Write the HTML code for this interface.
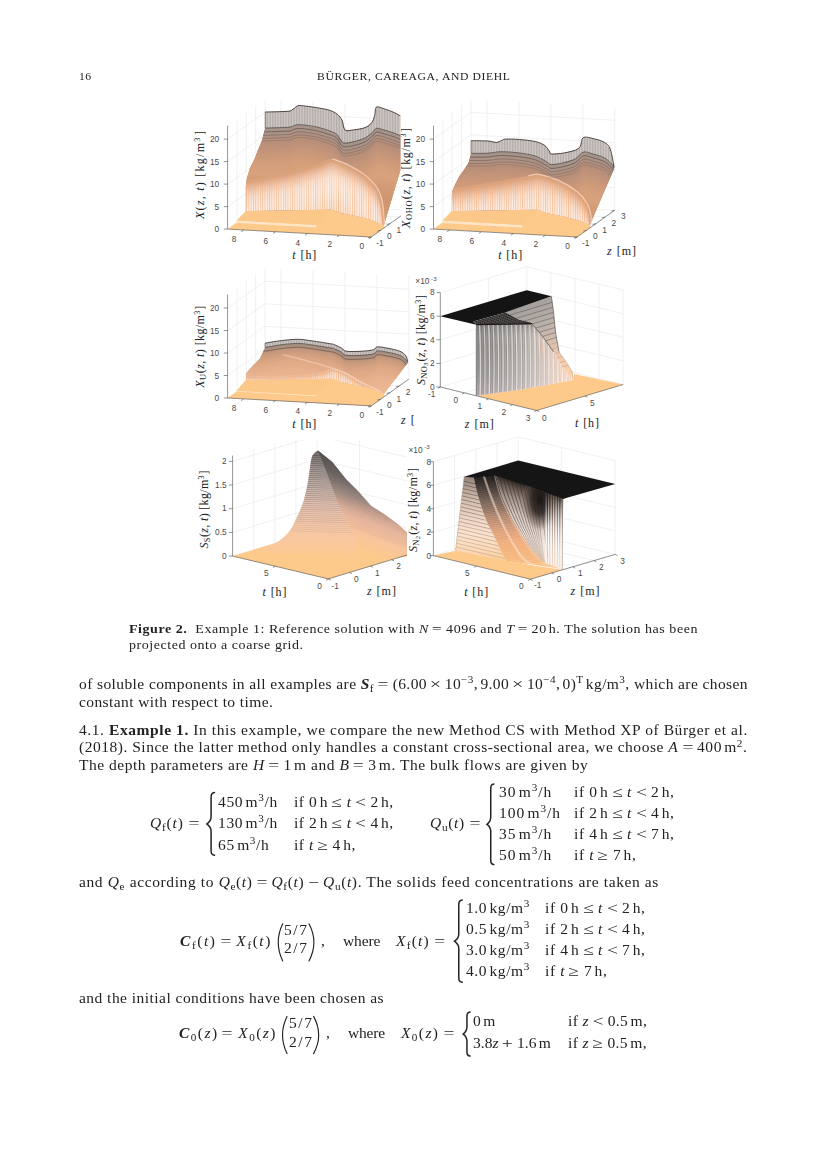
<!DOCTYPE html>
<html><head><meta charset="utf-8"><title>page 16</title>
<style>
html,body{margin:0;padding:0;background:#fff;}
body{width:827px;height:1169px;position:relative;overflow:hidden;font-family:"Liberation Serif",serif;color:#1a1a1a;}
.t{position:absolute;white-space:nowrap;line-height:normal;font-family:"Liberation Serif",serif;transform:scaleX(1.07);transform-origin:0 0;color:#222;}
svg{position:absolute;left:0;top:0;}
svg text{font-family:"Liberation Sans",sans-serif;}
svg text.m{font-family:"Liberation Serif",serif;}
</style></head><body>
<svg width="827" height="1169" viewBox="0 0 827 1169">
<defs>
<pattern id="hv" width="1.6" height="8" patternUnits="userSpaceOnUse"><rect x="0" y="0" width="0.55" height="8" fill="#5a4a44"/></pattern>
<pattern id="hp" width="2.3" height="8" patternUnits="userSpaceOnUse"><rect x="0" y="0" width="0.95" height="8" fill="#f0a874"/></pattern>
<pattern id="hg" width="2.3" height="8" patternUnits="userSpaceOnUse"><rect x="0" y="0" width="0.9" height="8" fill="#6a6460"/></pattern>
</defs>
<defs><linearGradient id="hillg1" gradientUnits="userSpaceOnUse" x1="330" y1="150" x2="395" y2="215"><stop offset="0" stop-color="#cf9a7a" stop-opacity="0"/><stop offset="0.35" stop-color="#d49c7a" stop-opacity="0.9"/><stop offset="1" stop-color="#efb488"/></linearGradient>
<linearGradient id="fg1" gradientUnits="userSpaceOnUse" x1="0" y1="160" x2="0" y2="200"><stop offset="0" stop-color="#000"/><stop offset="1" stop-color="#fff"/></linearGradient><mask id="fade1"><rect x="0" y="0" width="827" height="1169" fill="url(#fg1)"/></mask></defs>
<defs><linearGradient id="hillg2" gradientUnits="userSpaceOnUse" x1="535.9" y1="150" x2="600.9" y2="215"><stop offset="0" stop-color="#cf9a7a" stop-opacity="0"/><stop offset="0.35" stop-color="#d49c7a" stop-opacity="0.9"/><stop offset="1" stop-color="#efb488"/></linearGradient>
<linearGradient id="fg2" gradientUnits="userSpaceOnUse" x1="0" y1="160" x2="0" y2="200"><stop offset="0" stop-color="#000"/><stop offset="1" stop-color="#fff"/></linearGradient><mask id="fade2"><rect x="0" y="0" width="827" height="1169" fill="url(#fg2)"/></mask></defs>
<defs><linearGradient id="hillg3" gradientUnits="userSpaceOnUse" x1="330" y1="318.9" x2="395" y2="383.9"><stop offset="0" stop-color="#cf9a7a" stop-opacity="0"/><stop offset="0.35" stop-color="#d49c7a" stop-opacity="0.9"/><stop offset="1" stop-color="#efb488"/></linearGradient>
<linearGradient id="fg3" gradientUnits="userSpaceOnUse" x1="0" y1="328.9" x2="0" y2="368.9"><stop offset="0" stop-color="#000"/><stop offset="1" stop-color="#fff"/></linearGradient><mask id="fade3"><rect x="0" y="0" width="827" height="1169" fill="url(#fg3)"/></mask></defs>
<clipPath id="c1"><rect x="180" y="85" width="221" height="190"/></clipPath>
<g clip-path="url(#c1)">
<line x1="227.6" y1="229.1" x2="265.1" y2="202.4" stroke="#e2e2e2" stroke-width="0.5"/>
<line x1="227.6" y1="206.6" x2="265.1" y2="179.9" stroke="#e2e2e2" stroke-width="0.5"/>
<line x1="227.6" y1="184.1" x2="265.1" y2="157.4" stroke="#e2e2e2" stroke-width="0.5"/>
<line x1="227.6" y1="161.6" x2="265.1" y2="134.9" stroke="#e2e2e2" stroke-width="0.5"/>
<line x1="227.6" y1="139.1" x2="265.1" y2="112.4" stroke="#e2e2e2" stroke-width="0.5"/>
<line x1="237" y1="222.4" x2="237" y2="118.9" stroke="#e2e2e2" stroke-width="0.5"/>
<line x1="246.3" y1="215.7" x2="246.3" y2="112.2" stroke="#e2e2e2" stroke-width="0.5"/>
<line x1="255.7" y1="209.1" x2="255.7" y2="105.6" stroke="#e2e2e2" stroke-width="0.5"/>
<line x1="265.1" y1="202.4" x2="265.1" y2="98.9" stroke="#e2e2e2" stroke-width="0.5"/>
<line x1="265.1" y1="202.4" x2="408.8" y2="210.3" stroke="#e2e2e2" stroke-width="0.5"/>
<line x1="265.1" y1="179.9" x2="408.8" y2="187.8" stroke="#e2e2e2" stroke-width="0.5"/>
<line x1="265.1" y1="157.4" x2="408.8" y2="165.3" stroke="#e2e2e2" stroke-width="0.5"/>
<line x1="265.1" y1="134.9" x2="408.8" y2="142.8" stroke="#e2e2e2" stroke-width="0.5"/>
<line x1="265.1" y1="112.4" x2="408.8" y2="120.3" stroke="#e2e2e2" stroke-width="0.5"/>
<line x1="408.8" y1="210.3" x2="408.8" y2="106.8" stroke="#e2e2e2" stroke-width="0.5"/>
<line x1="376.9" y1="208.5" x2="376.9" y2="105" stroke="#e2e2e2" stroke-width="0.5"/>
<line x1="344.9" y1="206.8" x2="344.9" y2="103.3" stroke="#e2e2e2" stroke-width="0.5"/>
<line x1="313" y1="205" x2="313" y2="101.5" stroke="#e2e2e2" stroke-width="0.5"/>
<line x1="281.1" y1="203.3" x2="281.1" y2="99.8" stroke="#e2e2e2" stroke-width="0.5"/>
<line x1="371.3" y1="237" x2="408.8" y2="210.3" stroke="#e2e2e2" stroke-width="0.5"/>
<line x1="339.4" y1="235.2" x2="376.9" y2="208.5" stroke="#e2e2e2" stroke-width="0.5"/>
<line x1="307.4" y1="233.5" x2="344.9" y2="206.8" stroke="#e2e2e2" stroke-width="0.5"/>
<line x1="275.5" y1="231.7" x2="313" y2="205" stroke="#e2e2e2" stroke-width="0.5"/>
<line x1="243.6" y1="230" x2="281.1" y2="203.3" stroke="#e2e2e2" stroke-width="0.5"/>
<line x1="380.7" y1="230.3" x2="237" y2="222.4" stroke="#e2e2e2" stroke-width="0.5"/>
<line x1="390.1" y1="223.7" x2="246.3" y2="215.7" stroke="#e2e2e2" stroke-width="0.5"/>
<line x1="399.4" y1="217" x2="255.7" y2="209.1" stroke="#e2e2e2" stroke-width="0.5"/>
<polygon points="227.6,229.1 371.3,237 384.9,227.3 384,224.8 371.3,219.7 357.7,216.3 340.8,213 331.5,209.6 245.9,211 237.4,222.1" fill="#FDCA8C" stroke="none" stroke-width="0" />
<polygon points="236.5,220.4 316.3,225 316.3,227.6 236.5,223" fill="#FFE6C6" stroke="none" stroke-width="0" />
<polygon points="236.5,220.4 316.3,225 331.5,209.6 245.9,211" fill="#FCC88A" stroke="none" stroke-width="0" />
<clipPath id="b1"><path d="M265.2 112 L275 111.8 L288.9 111.2 L292 109.8 L294.4 108.3 L298.2 105.6 L305.9 106.1 L317.7 107.8 L329.6 110.3 L337.3 114.3 L342.1 120.4 L345.1 130.1 L354.2 129.8 L365.1 127.6 L371.7 122.8 L374.7 115.6 L376.3 107.1 L384.4 108.9 L394.1 112.5 L400.3 115.9 L400.3 115.9 L400.3 170.6 L384 224.8 L384 224.8 L371.3 219.7 L357.7 216.3 L340.8 213 L331.5 209.6 L245.9 211 L245.9 211 L245.9 186 L247 178 L250 168 L255 158 L258 150 L261.9 140.8 L265.2 128.1 Z"/></clipPath>
<clipPath id="pzc1"><path d="M245.9 181 C248.2 180.5 254.3 179.2 260 178 C265.7 176.8 273.3 175.5 280 174 C286.7 172.5 293.7 170.8 300 169 C306.3 167.2 312.6 165.2 318 163.5 C323.4 161.8 327.7 158.7 332.3 158.8 C336.9 158.9 341.1 161.7 345.9 163.9 C350.7 166.2 356.9 169.5 361.1 172.3 C365.3 175.1 368.5 178 371.3 180.8 C374.1 183.6 376.2 185.9 378 189.3 C379.8 192.7 381.3 196.3 382.3 201.1 C383.3 205.9 383.7 213.8 384 218 C384.3 222.2 384.2 224.7 384.2 226 L384 224.8 L371.3 219.7 L357.7 216.3 L340.8 213 L331.5 209.6 L245.9 211 Z"/></clipPath>
<g clip-path="url(#b1)">
<rect x="240" y="95" width="200" height="140" fill="#dba57c"/>
<path d="M240.2 129.1 C244.4 128.9 257.1 128.4 265.2 128.1 C273.3 127.8 284.1 127.6 288.9 127.2 C293.7 126.8 292.4 125.9 294 125.5 C295.6 125.1 296.2 124.8 298.2 124.7 C300.2 124.7 302.8 124.8 306 125.2 C309.2 125.6 313.5 126.2 317.7 127.2 C321.9 128.2 328 130.2 331.3 131.5 C334.6 132.8 335.3 133 337.3 134.9 C339.3 136.8 340.5 141.7 343.3 142.8 C346.1 143.9 350.6 142.4 354.2 141.6 C357.8 140.8 362.1 139.4 365.1 137.9 C368.1 136.4 370.4 134.1 372.3 132.5 C374.2 130.9 374.6 128.7 376.6 128.3 C378.6 127.9 381.5 129.3 384.4 130.1 C387.3 130.9 391.5 132.2 394.1 133.1 C396.8 134 397.9 134.8 400.3 135.5 C402.7 136.2 407 137.2 408.3 137.5" fill="none" transform="translate(0 98.6)" stroke="#daa47b" stroke-width="3.4"/>
<path d="M240.2 129.1 C244.4 128.9 257.1 128.4 265.2 128.1 C273.3 127.8 284.1 127.6 288.9 127.2 C293.7 126.8 292.4 125.9 294 125.5 C295.6 125.1 296.2 124.8 298.2 124.7 C300.2 124.7 302.8 124.8 306 125.2 C309.2 125.6 313.5 126.2 317.7 127.2 C321.9 128.2 328 130.2 331.3 131.5 C334.6 132.8 335.3 133 337.3 134.9 C339.3 136.8 340.5 141.7 343.3 142.8 C346.1 143.9 350.6 142.4 354.2 141.6 C357.8 140.8 362.1 139.4 365.1 137.9 C368.1 136.4 370.4 134.1 372.3 132.5 C374.2 130.9 374.6 128.7 376.6 128.3 C378.6 127.9 381.5 129.3 384.4 130.1 C387.3 130.9 391.5 132.2 394.1 133.1 C396.8 134 397.9 134.8 400.3 135.5 C402.7 136.2 407 137.2 408.3 137.5" fill="none" transform="translate(0 96.9)" stroke="#d9a37b" stroke-width="3.4"/>
<path d="M240.2 129.1 C244.4 128.9 257.1 128.4 265.2 128.1 C273.3 127.8 284.1 127.6 288.9 127.2 C293.7 126.8 292.4 125.9 294 125.5 C295.6 125.1 296.2 124.8 298.2 124.7 C300.2 124.7 302.8 124.8 306 125.2 C309.2 125.6 313.5 126.2 317.7 127.2 C321.9 128.2 328 130.2 331.3 131.5 C334.6 132.8 335.3 133 337.3 134.9 C339.3 136.8 340.5 141.7 343.3 142.8 C346.1 143.9 350.6 142.4 354.2 141.6 C357.8 140.8 362.1 139.4 365.1 137.9 C368.1 136.4 370.4 134.1 372.3 132.5 C374.2 130.9 374.6 128.7 376.6 128.3 C378.6 127.9 381.5 129.3 384.4 130.1 C387.3 130.9 391.5 132.2 394.1 133.1 C396.8 134 397.9 134.8 400.3 135.5 C402.7 136.2 407 137.2 408.3 137.5" fill="none" transform="translate(0 95.2)" stroke="#d9a27a" stroke-width="3.4"/>
<path d="M240.2 129.1 C244.4 128.9 257.1 128.4 265.2 128.1 C273.3 127.8 284.1 127.6 288.9 127.2 C293.7 126.8 292.4 125.9 294 125.5 C295.6 125.1 296.2 124.8 298.2 124.7 C300.2 124.7 302.8 124.8 306 125.2 C309.2 125.6 313.5 126.2 317.7 127.2 C321.9 128.2 328 130.2 331.3 131.5 C334.6 132.8 335.3 133 337.3 134.9 C339.3 136.8 340.5 141.7 343.3 142.8 C346.1 143.9 350.6 142.4 354.2 141.6 C357.8 140.8 362.1 139.4 365.1 137.9 C368.1 136.4 370.4 134.1 372.3 132.5 C374.2 130.9 374.6 128.7 376.6 128.3 C378.6 127.9 381.5 129.3 384.4 130.1 C387.3 130.9 391.5 132.2 394.1 133.1 C396.8 134 397.9 134.8 400.3 135.5 C402.7 136.2 407 137.2 408.3 137.5" fill="none" transform="translate(0 93.5)" stroke="#d8a279" stroke-width="3.4"/>
<path d="M240.2 129.1 C244.4 128.9 257.1 128.4 265.2 128.1 C273.3 127.8 284.1 127.6 288.9 127.2 C293.7 126.8 292.4 125.9 294 125.5 C295.6 125.1 296.2 124.8 298.2 124.7 C300.2 124.7 302.8 124.8 306 125.2 C309.2 125.6 313.5 126.2 317.7 127.2 C321.9 128.2 328 130.2 331.3 131.5 C334.6 132.8 335.3 133 337.3 134.9 C339.3 136.8 340.5 141.7 343.3 142.8 C346.1 143.9 350.6 142.4 354.2 141.6 C357.8 140.8 362.1 139.4 365.1 137.9 C368.1 136.4 370.4 134.1 372.3 132.5 C374.2 130.9 374.6 128.7 376.6 128.3 C378.6 127.9 381.5 129.3 384.4 130.1 C387.3 130.9 391.5 132.2 394.1 133.1 C396.8 134 397.9 134.8 400.3 135.5 C402.7 136.2 407 137.2 408.3 137.5" fill="none" transform="translate(0 91.8)" stroke="#d7a178" stroke-width="3.4"/>
<path d="M240.2 129.1 C244.4 128.9 257.1 128.4 265.2 128.1 C273.3 127.8 284.1 127.6 288.9 127.2 C293.7 126.8 292.4 125.9 294 125.5 C295.6 125.1 296.2 124.8 298.2 124.7 C300.2 124.7 302.8 124.8 306 125.2 C309.2 125.6 313.5 126.2 317.7 127.2 C321.9 128.2 328 130.2 331.3 131.5 C334.6 132.8 335.3 133 337.3 134.9 C339.3 136.8 340.5 141.7 343.3 142.8 C346.1 143.9 350.6 142.4 354.2 141.6 C357.8 140.8 362.1 139.4 365.1 137.9 C368.1 136.4 370.4 134.1 372.3 132.5 C374.2 130.9 374.6 128.7 376.6 128.3 C378.6 127.9 381.5 129.3 384.4 130.1 C387.3 130.9 391.5 132.2 394.1 133.1 C396.8 134 397.9 134.8 400.3 135.5 C402.7 136.2 407 137.2 408.3 137.5" fill="none" transform="translate(0 90.1)" stroke="#d6a078" stroke-width="3.4"/>
<path d="M240.2 129.1 C244.4 128.9 257.1 128.4 265.2 128.1 C273.3 127.8 284.1 127.6 288.9 127.2 C293.7 126.8 292.4 125.9 294 125.5 C295.6 125.1 296.2 124.8 298.2 124.7 C300.2 124.7 302.8 124.8 306 125.2 C309.2 125.6 313.5 126.2 317.7 127.2 C321.9 128.2 328 130.2 331.3 131.5 C334.6 132.8 335.3 133 337.3 134.9 C339.3 136.8 340.5 141.7 343.3 142.8 C346.1 143.9 350.6 142.4 354.2 141.6 C357.8 140.8 362.1 139.4 365.1 137.9 C368.1 136.4 370.4 134.1 372.3 132.5 C374.2 130.9 374.6 128.7 376.6 128.3 C378.6 127.9 381.5 129.3 384.4 130.1 C387.3 130.9 391.5 132.2 394.1 133.1 C396.8 134 397.9 134.8 400.3 135.5 C402.7 136.2 407 137.2 408.3 137.5" fill="none" transform="translate(0 88.4)" stroke="#d59f77" stroke-width="3.4"/>
<path d="M240.2 129.1 C244.4 128.9 257.1 128.4 265.2 128.1 C273.3 127.8 284.1 127.6 288.9 127.2 C293.7 126.8 292.4 125.9 294 125.5 C295.6 125.1 296.2 124.8 298.2 124.7 C300.2 124.7 302.8 124.8 306 125.2 C309.2 125.6 313.5 126.2 317.7 127.2 C321.9 128.2 328 130.2 331.3 131.5 C334.6 132.8 335.3 133 337.3 134.9 C339.3 136.8 340.5 141.7 343.3 142.8 C346.1 143.9 350.6 142.4 354.2 141.6 C357.8 140.8 362.1 139.4 365.1 137.9 C368.1 136.4 370.4 134.1 372.3 132.5 C374.2 130.9 374.6 128.7 376.6 128.3 C378.6 127.9 381.5 129.3 384.4 130.1 C387.3 130.9 391.5 132.2 394.1 133.1 C396.8 134 397.9 134.8 400.3 135.5 C402.7 136.2 407 137.2 408.3 137.5" fill="none" transform="translate(0 86.7)" stroke="#d49e76" stroke-width="3.4"/>
<path d="M240.2 129.1 C244.4 128.9 257.1 128.4 265.2 128.1 C273.3 127.8 284.1 127.6 288.9 127.2 C293.7 126.8 292.4 125.9 294 125.5 C295.6 125.1 296.2 124.8 298.2 124.7 C300.2 124.7 302.8 124.8 306 125.2 C309.2 125.6 313.5 126.2 317.7 127.2 C321.9 128.2 328 130.2 331.3 131.5 C334.6 132.8 335.3 133 337.3 134.9 C339.3 136.8 340.5 141.7 343.3 142.8 C346.1 143.9 350.6 142.4 354.2 141.6 C357.8 140.8 362.1 139.4 365.1 137.9 C368.1 136.4 370.4 134.1 372.3 132.5 C374.2 130.9 374.6 128.7 376.6 128.3 C378.6 127.9 381.5 129.3 384.4 130.1 C387.3 130.9 391.5 132.2 394.1 133.1 C396.8 134 397.9 134.8 400.3 135.5 C402.7 136.2 407 137.2 408.3 137.5" fill="none" transform="translate(0 85)" stroke="#d49d76" stroke-width="3.4"/>
<path d="M240.2 129.1 C244.4 128.9 257.1 128.4 265.2 128.1 C273.3 127.8 284.1 127.6 288.9 127.2 C293.7 126.8 292.4 125.9 294 125.5 C295.6 125.1 296.2 124.8 298.2 124.7 C300.2 124.7 302.8 124.8 306 125.2 C309.2 125.6 313.5 126.2 317.7 127.2 C321.9 128.2 328 130.2 331.3 131.5 C334.6 132.8 335.3 133 337.3 134.9 C339.3 136.8 340.5 141.7 343.3 142.8 C346.1 143.9 350.6 142.4 354.2 141.6 C357.8 140.8 362.1 139.4 365.1 137.9 C368.1 136.4 370.4 134.1 372.3 132.5 C374.2 130.9 374.6 128.7 376.6 128.3 C378.6 127.9 381.5 129.3 384.4 130.1 C387.3 130.9 391.5 132.2 394.1 133.1 C396.8 134 397.9 134.8 400.3 135.5 C402.7 136.2 407 137.2 408.3 137.5" fill="none" transform="translate(0 83.3)" stroke="#d39c75" stroke-width="3.4"/>
<path d="M240.2 129.1 C244.4 128.9 257.1 128.4 265.2 128.1 C273.3 127.8 284.1 127.6 288.9 127.2 C293.7 126.8 292.4 125.9 294 125.5 C295.6 125.1 296.2 124.8 298.2 124.7 C300.2 124.7 302.8 124.8 306 125.2 C309.2 125.6 313.5 126.2 317.7 127.2 C321.9 128.2 328 130.2 331.3 131.5 C334.6 132.8 335.3 133 337.3 134.9 C339.3 136.8 340.5 141.7 343.3 142.8 C346.1 143.9 350.6 142.4 354.2 141.6 C357.8 140.8 362.1 139.4 365.1 137.9 C368.1 136.4 370.4 134.1 372.3 132.5 C374.2 130.9 374.6 128.7 376.6 128.3 C378.6 127.9 381.5 129.3 384.4 130.1 C387.3 130.9 391.5 132.2 394.1 133.1 C396.8 134 397.9 134.8 400.3 135.5 C402.7 136.2 407 137.2 408.3 137.5" fill="none" transform="translate(0 81.6)" stroke="#d29b74" stroke-width="3.4"/>
<path d="M240.2 129.1 C244.4 128.9 257.1 128.4 265.2 128.1 C273.3 127.8 284.1 127.6 288.9 127.2 C293.7 126.8 292.4 125.9 294 125.5 C295.6 125.1 296.2 124.8 298.2 124.7 C300.2 124.7 302.8 124.8 306 125.2 C309.2 125.6 313.5 126.2 317.7 127.2 C321.9 128.2 328 130.2 331.3 131.5 C334.6 132.8 335.3 133 337.3 134.9 C339.3 136.8 340.5 141.7 343.3 142.8 C346.1 143.9 350.6 142.4 354.2 141.6 C357.8 140.8 362.1 139.4 365.1 137.9 C368.1 136.4 370.4 134.1 372.3 132.5 C374.2 130.9 374.6 128.7 376.6 128.3 C378.6 127.9 381.5 129.3 384.4 130.1 C387.3 130.9 391.5 132.2 394.1 133.1 C396.8 134 397.9 134.8 400.3 135.5 C402.7 136.2 407 137.2 408.3 137.5" fill="none" transform="translate(0 79.9)" stroke="#d19a73" stroke-width="3.4"/>
<path d="M240.2 129.1 C244.4 128.9 257.1 128.4 265.2 128.1 C273.3 127.8 284.1 127.6 288.9 127.2 C293.7 126.8 292.4 125.9 294 125.5 C295.6 125.1 296.2 124.8 298.2 124.7 C300.2 124.7 302.8 124.8 306 125.2 C309.2 125.6 313.5 126.2 317.7 127.2 C321.9 128.2 328 130.2 331.3 131.5 C334.6 132.8 335.3 133 337.3 134.9 C339.3 136.8 340.5 141.7 343.3 142.8 C346.1 143.9 350.6 142.4 354.2 141.6 C357.8 140.8 362.1 139.4 365.1 137.9 C368.1 136.4 370.4 134.1 372.3 132.5 C374.2 130.9 374.6 128.7 376.6 128.3 C378.6 127.9 381.5 129.3 384.4 130.1 C387.3 130.9 391.5 132.2 394.1 133.1 C396.8 134 397.9 134.8 400.3 135.5 C402.7 136.2 407 137.2 408.3 137.5" fill="none" transform="translate(0 78.2)" stroke="#d09973" stroke-width="3.4"/>
<path d="M240.2 129.1 C244.4 128.9 257.1 128.4 265.2 128.1 C273.3 127.8 284.1 127.6 288.9 127.2 C293.7 126.8 292.4 125.9 294 125.5 C295.6 125.1 296.2 124.8 298.2 124.7 C300.2 124.7 302.8 124.8 306 125.2 C309.2 125.6 313.5 126.2 317.7 127.2 C321.9 128.2 328 130.2 331.3 131.5 C334.6 132.8 335.3 133 337.3 134.9 C339.3 136.8 340.5 141.7 343.3 142.8 C346.1 143.9 350.6 142.4 354.2 141.6 C357.8 140.8 362.1 139.4 365.1 137.9 C368.1 136.4 370.4 134.1 372.3 132.5 C374.2 130.9 374.6 128.7 376.6 128.3 C378.6 127.9 381.5 129.3 384.4 130.1 C387.3 130.9 391.5 132.2 394.1 133.1 C396.8 134 397.9 134.8 400.3 135.5 C402.7 136.2 407 137.2 408.3 137.5" fill="none" transform="translate(0 76.5)" stroke="#cf9872" stroke-width="3.4"/>
<path d="M240.2 129.1 C244.4 128.9 257.1 128.4 265.2 128.1 C273.3 127.8 284.1 127.6 288.9 127.2 C293.7 126.8 292.4 125.9 294 125.5 C295.6 125.1 296.2 124.8 298.2 124.7 C300.2 124.7 302.8 124.8 306 125.2 C309.2 125.6 313.5 126.2 317.7 127.2 C321.9 128.2 328 130.2 331.3 131.5 C334.6 132.8 335.3 133 337.3 134.9 C339.3 136.8 340.5 141.7 343.3 142.8 C346.1 143.9 350.6 142.4 354.2 141.6 C357.8 140.8 362.1 139.4 365.1 137.9 C368.1 136.4 370.4 134.1 372.3 132.5 C374.2 130.9 374.6 128.7 376.6 128.3 C378.6 127.9 381.5 129.3 384.4 130.1 C387.3 130.9 391.5 132.2 394.1 133.1 C396.8 134 397.9 134.8 400.3 135.5 C402.7 136.2 407 137.2 408.3 137.5" fill="none" transform="translate(0 74.8)" stroke="#ce9871" stroke-width="3.4"/>
<path d="M240.2 129.1 C244.4 128.9 257.1 128.4 265.2 128.1 C273.3 127.8 284.1 127.6 288.9 127.2 C293.7 126.8 292.4 125.9 294 125.5 C295.6 125.1 296.2 124.8 298.2 124.7 C300.2 124.7 302.8 124.8 306 125.2 C309.2 125.6 313.5 126.2 317.7 127.2 C321.9 128.2 328 130.2 331.3 131.5 C334.6 132.8 335.3 133 337.3 134.9 C339.3 136.8 340.5 141.7 343.3 142.8 C346.1 143.9 350.6 142.4 354.2 141.6 C357.8 140.8 362.1 139.4 365.1 137.9 C368.1 136.4 370.4 134.1 372.3 132.5 C374.2 130.9 374.6 128.7 376.6 128.3 C378.6 127.9 381.5 129.3 384.4 130.1 C387.3 130.9 391.5 132.2 394.1 133.1 C396.8 134 397.9 134.8 400.3 135.5 C402.7 136.2 407 137.2 408.3 137.5" fill="none" transform="translate(0 73.1)" stroke="#ce9770" stroke-width="3.4"/>
<path d="M240.2 129.1 C244.4 128.9 257.1 128.4 265.2 128.1 C273.3 127.8 284.1 127.6 288.9 127.2 C293.7 126.8 292.4 125.9 294 125.5 C295.6 125.1 296.2 124.8 298.2 124.7 C300.2 124.7 302.8 124.8 306 125.2 C309.2 125.6 313.5 126.2 317.7 127.2 C321.9 128.2 328 130.2 331.3 131.5 C334.6 132.8 335.3 133 337.3 134.9 C339.3 136.8 340.5 141.7 343.3 142.8 C346.1 143.9 350.6 142.4 354.2 141.6 C357.8 140.8 362.1 139.4 365.1 137.9 C368.1 136.4 370.4 134.1 372.3 132.5 C374.2 130.9 374.6 128.7 376.6 128.3 C378.6 127.9 381.5 129.3 384.4 130.1 C387.3 130.9 391.5 132.2 394.1 133.1 C396.8 134 397.9 134.8 400.3 135.5 C402.7 136.2 407 137.2 408.3 137.5" fill="none" transform="translate(0 71.4)" stroke="#cd9670" stroke-width="3.4"/>
<path d="M240.2 129.1 C244.4 128.9 257.1 128.4 265.2 128.1 C273.3 127.8 284.1 127.6 288.9 127.2 C293.7 126.8 292.4 125.9 294 125.5 C295.6 125.1 296.2 124.8 298.2 124.7 C300.2 124.7 302.8 124.8 306 125.2 C309.2 125.6 313.5 126.2 317.7 127.2 C321.9 128.2 328 130.2 331.3 131.5 C334.6 132.8 335.3 133 337.3 134.9 C339.3 136.8 340.5 141.7 343.3 142.8 C346.1 143.9 350.6 142.4 354.2 141.6 C357.8 140.8 362.1 139.4 365.1 137.9 C368.1 136.4 370.4 134.1 372.3 132.5 C374.2 130.9 374.6 128.7 376.6 128.3 C378.6 127.9 381.5 129.3 384.4 130.1 C387.3 130.9 391.5 132.2 394.1 133.1 C396.8 134 397.9 134.8 400.3 135.5 C402.7 136.2 407 137.2 408.3 137.5" fill="none" transform="translate(0 69.7)" stroke="#ce9771" stroke-width="3.4"/>
<path d="M240.2 129.1 C244.4 128.9 257.1 128.4 265.2 128.1 C273.3 127.8 284.1 127.6 288.9 127.2 C293.7 126.8 292.4 125.9 294 125.5 C295.6 125.1 296.2 124.8 298.2 124.7 C300.2 124.7 302.8 124.8 306 125.2 C309.2 125.6 313.5 126.2 317.7 127.2 C321.9 128.2 328 130.2 331.3 131.5 C334.6 132.8 335.3 133 337.3 134.9 C339.3 136.8 340.5 141.7 343.3 142.8 C346.1 143.9 350.6 142.4 354.2 141.6 C357.8 140.8 362.1 139.4 365.1 137.9 C368.1 136.4 370.4 134.1 372.3 132.5 C374.2 130.9 374.6 128.7 376.6 128.3 C378.6 127.9 381.5 129.3 384.4 130.1 C387.3 130.9 391.5 132.2 394.1 133.1 C396.8 134 397.9 134.8 400.3 135.5 C402.7 136.2 407 137.2 408.3 137.5" fill="none" transform="translate(0 68)" stroke="#ce9772" stroke-width="3.4"/>
<path d="M240.2 129.1 C244.4 128.9 257.1 128.4 265.2 128.1 C273.3 127.8 284.1 127.6 288.9 127.2 C293.7 126.8 292.4 125.9 294 125.5 C295.6 125.1 296.2 124.8 298.2 124.7 C300.2 124.7 302.8 124.8 306 125.2 C309.2 125.6 313.5 126.2 317.7 127.2 C321.9 128.2 328 130.2 331.3 131.5 C334.6 132.8 335.3 133 337.3 134.9 C339.3 136.8 340.5 141.7 343.3 142.8 C346.1 143.9 350.6 142.4 354.2 141.6 C357.8 140.8 362.1 139.4 365.1 137.9 C368.1 136.4 370.4 134.1 372.3 132.5 C374.2 130.9 374.6 128.7 376.6 128.3 C378.6 127.9 381.5 129.3 384.4 130.1 C387.3 130.9 391.5 132.2 394.1 133.1 C396.8 134 397.9 134.8 400.3 135.5 C402.7 136.2 407 137.2 408.3 137.5" fill="none" transform="translate(0 66.3)" stroke="#cf9872" stroke-width="3.4"/>
<path d="M240.2 129.1 C244.4 128.9 257.1 128.4 265.2 128.1 C273.3 127.8 284.1 127.6 288.9 127.2 C293.7 126.8 292.4 125.9 294 125.5 C295.6 125.1 296.2 124.8 298.2 124.7 C300.2 124.7 302.8 124.8 306 125.2 C309.2 125.6 313.5 126.2 317.7 127.2 C321.9 128.2 328 130.2 331.3 131.5 C334.6 132.8 335.3 133 337.3 134.9 C339.3 136.8 340.5 141.7 343.3 142.8 C346.1 143.9 350.6 142.4 354.2 141.6 C357.8 140.8 362.1 139.4 365.1 137.9 C368.1 136.4 370.4 134.1 372.3 132.5 C374.2 130.9 374.6 128.7 376.6 128.3 C378.6 127.9 381.5 129.3 384.4 130.1 C387.3 130.9 391.5 132.2 394.1 133.1 C396.8 134 397.9 134.8 400.3 135.5 C402.7 136.2 407 137.2 408.3 137.5" fill="none" transform="translate(0 64.6)" stroke="#cf9873" stroke-width="3.4"/>
<path d="M240.2 129.1 C244.4 128.9 257.1 128.4 265.2 128.1 C273.3 127.8 284.1 127.6 288.9 127.2 C293.7 126.8 292.4 125.9 294 125.5 C295.6 125.1 296.2 124.8 298.2 124.7 C300.2 124.7 302.8 124.8 306 125.2 C309.2 125.6 313.5 126.2 317.7 127.2 C321.9 128.2 328 130.2 331.3 131.5 C334.6 132.8 335.3 133 337.3 134.9 C339.3 136.8 340.5 141.7 343.3 142.8 C346.1 143.9 350.6 142.4 354.2 141.6 C357.8 140.8 362.1 139.4 365.1 137.9 C368.1 136.4 370.4 134.1 372.3 132.5 C374.2 130.9 374.6 128.7 376.6 128.3 C378.6 127.9 381.5 129.3 384.4 130.1 C387.3 130.9 391.5 132.2 394.1 133.1 C396.8 134 397.9 134.8 400.3 135.5 C402.7 136.2 407 137.2 408.3 137.5" fill="none" transform="translate(0 62.9)" stroke="#d09973" stroke-width="3.4"/>
<path d="M240.2 129.1 C244.4 128.9 257.1 128.4 265.2 128.1 C273.3 127.8 284.1 127.6 288.9 127.2 C293.7 126.8 292.4 125.9 294 125.5 C295.6 125.1 296.2 124.8 298.2 124.7 C300.2 124.7 302.8 124.8 306 125.2 C309.2 125.6 313.5 126.2 317.7 127.2 C321.9 128.2 328 130.2 331.3 131.5 C334.6 132.8 335.3 133 337.3 134.9 C339.3 136.8 340.5 141.7 343.3 142.8 C346.1 143.9 350.6 142.4 354.2 141.6 C357.8 140.8 362.1 139.4 365.1 137.9 C368.1 136.4 370.4 134.1 372.3 132.5 C374.2 130.9 374.6 128.7 376.6 128.3 C378.6 127.9 381.5 129.3 384.4 130.1 C387.3 130.9 391.5 132.2 394.1 133.1 C396.8 134 397.9 134.8 400.3 135.5 C402.7 136.2 407 137.2 408.3 137.5" fill="none" transform="translate(0 61.2)" stroke="#d09974" stroke-width="3.4"/>
<path d="M240.2 129.1 C244.4 128.9 257.1 128.4 265.2 128.1 C273.3 127.8 284.1 127.6 288.9 127.2 C293.7 126.8 292.4 125.9 294 125.5 C295.6 125.1 296.2 124.8 298.2 124.7 C300.2 124.7 302.8 124.8 306 125.2 C309.2 125.6 313.5 126.2 317.7 127.2 C321.9 128.2 328 130.2 331.3 131.5 C334.6 132.8 335.3 133 337.3 134.9 C339.3 136.8 340.5 141.7 343.3 142.8 C346.1 143.9 350.6 142.4 354.2 141.6 C357.8 140.8 362.1 139.4 365.1 137.9 C368.1 136.4 370.4 134.1 372.3 132.5 C374.2 130.9 374.6 128.7 376.6 128.3 C378.6 127.9 381.5 129.3 384.4 130.1 C387.3 130.9 391.5 132.2 394.1 133.1 C396.8 134 397.9 134.8 400.3 135.5 C402.7 136.2 407 137.2 408.3 137.5" fill="none" transform="translate(0 59.5)" stroke="#d19a75" stroke-width="3.4"/>
<path d="M240.2 129.1 C244.4 128.9 257.1 128.4 265.2 128.1 C273.3 127.8 284.1 127.6 288.9 127.2 C293.7 126.8 292.4 125.9 294 125.5 C295.6 125.1 296.2 124.8 298.2 124.7 C300.2 124.7 302.8 124.8 306 125.2 C309.2 125.6 313.5 126.2 317.7 127.2 C321.9 128.2 328 130.2 331.3 131.5 C334.6 132.8 335.3 133 337.3 134.9 C339.3 136.8 340.5 141.7 343.3 142.8 C346.1 143.9 350.6 142.4 354.2 141.6 C357.8 140.8 362.1 139.4 365.1 137.9 C368.1 136.4 370.4 134.1 372.3 132.5 C374.2 130.9 374.6 128.7 376.6 128.3 C378.6 127.9 381.5 129.3 384.4 130.1 C387.3 130.9 391.5 132.2 394.1 133.1 C396.8 134 397.9 134.8 400.3 135.5 C402.7 136.2 407 137.2 408.3 137.5" fill="none" transform="translate(0 57.8)" stroke="#d19a75" stroke-width="3.4"/>
<path d="M240.2 129.1 C244.4 128.9 257.1 128.4 265.2 128.1 C273.3 127.8 284.1 127.6 288.9 127.2 C293.7 126.8 292.4 125.9 294 125.5 C295.6 125.1 296.2 124.8 298.2 124.7 C300.2 124.7 302.8 124.8 306 125.2 C309.2 125.6 313.5 126.2 317.7 127.2 C321.9 128.2 328 130.2 331.3 131.5 C334.6 132.8 335.3 133 337.3 134.9 C339.3 136.8 340.5 141.7 343.3 142.8 C346.1 143.9 350.6 142.4 354.2 141.6 C357.8 140.8 362.1 139.4 365.1 137.9 C368.1 136.4 370.4 134.1 372.3 132.5 C374.2 130.9 374.6 128.7 376.6 128.3 C378.6 127.9 381.5 129.3 384.4 130.1 C387.3 130.9 391.5 132.2 394.1 133.1 C396.8 134 397.9 134.8 400.3 135.5 C402.7 136.2 407 137.2 408.3 137.5" fill="none" transform="translate(0 56.1)" stroke="#d29b76" stroke-width="3.4"/>
<path d="M240.2 129.1 C244.4 128.9 257.1 128.4 265.2 128.1 C273.3 127.8 284.1 127.6 288.9 127.2 C293.7 126.8 292.4 125.9 294 125.5 C295.6 125.1 296.2 124.8 298.2 124.7 C300.2 124.7 302.8 124.8 306 125.2 C309.2 125.6 313.5 126.2 317.7 127.2 C321.9 128.2 328 130.2 331.3 131.5 C334.6 132.8 335.3 133 337.3 134.9 C339.3 136.8 340.5 141.7 343.3 142.8 C346.1 143.9 350.6 142.4 354.2 141.6 C357.8 140.8 362.1 139.4 365.1 137.9 C368.1 136.4 370.4 134.1 372.3 132.5 C374.2 130.9 374.6 128.7 376.6 128.3 C378.6 127.9 381.5 129.3 384.4 130.1 C387.3 130.9 391.5 132.2 394.1 133.1 C396.8 134 397.9 134.8 400.3 135.5 C402.7 136.2 407 137.2 408.3 137.5" fill="none" transform="translate(0 54.4)" stroke="#d39c77" stroke-width="3.4"/>
<path d="M240.2 129.1 C244.4 128.9 257.1 128.4 265.2 128.1 C273.3 127.8 284.1 127.6 288.9 127.2 C293.7 126.8 292.4 125.9 294 125.5 C295.6 125.1 296.2 124.8 298.2 124.7 C300.2 124.7 302.8 124.8 306 125.2 C309.2 125.6 313.5 126.2 317.7 127.2 C321.9 128.2 328 130.2 331.3 131.5 C334.6 132.8 335.3 133 337.3 134.9 C339.3 136.8 340.5 141.7 343.3 142.8 C346.1 143.9 350.6 142.4 354.2 141.6 C357.8 140.8 362.1 139.4 365.1 137.9 C368.1 136.4 370.4 134.1 372.3 132.5 C374.2 130.9 374.6 128.7 376.6 128.3 C378.6 127.9 381.5 129.3 384.4 130.1 C387.3 130.9 391.5 132.2 394.1 133.1 C396.8 134 397.9 134.8 400.3 135.5 C402.7 136.2 407 137.2 408.3 137.5" fill="none" transform="translate(0 52.7)" stroke="#d49d78" stroke-width="3.4"/>
<path d="M240.2 129.1 C244.4 128.9 257.1 128.4 265.2 128.1 C273.3 127.8 284.1 127.6 288.9 127.2 C293.7 126.8 292.4 125.9 294 125.5 C295.6 125.1 296.2 124.8 298.2 124.7 C300.2 124.7 302.8 124.8 306 125.2 C309.2 125.6 313.5 126.2 317.7 127.2 C321.9 128.2 328 130.2 331.3 131.5 C334.6 132.8 335.3 133 337.3 134.9 C339.3 136.8 340.5 141.7 343.3 142.8 C346.1 143.9 350.6 142.4 354.2 141.6 C357.8 140.8 362.1 139.4 365.1 137.9 C368.1 136.4 370.4 134.1 372.3 132.5 C374.2 130.9 374.6 128.7 376.6 128.3 C378.6 127.9 381.5 129.3 384.4 130.1 C387.3 130.9 391.5 132.2 394.1 133.1 C396.8 134 397.9 134.8 400.3 135.5 C402.7 136.2 407 137.2 408.3 137.5" fill="none" transform="translate(0 51)" stroke="#d49e78" stroke-width="3.4"/>
<path d="M240.2 129.1 C244.4 128.9 257.1 128.4 265.2 128.1 C273.3 127.8 284.1 127.6 288.9 127.2 C293.7 126.8 292.4 125.9 294 125.5 C295.6 125.1 296.2 124.8 298.2 124.7 C300.2 124.7 302.8 124.8 306 125.2 C309.2 125.6 313.5 126.2 317.7 127.2 C321.9 128.2 328 130.2 331.3 131.5 C334.6 132.8 335.3 133 337.3 134.9 C339.3 136.8 340.5 141.7 343.3 142.8 C346.1 143.9 350.6 142.4 354.2 141.6 C357.8 140.8 362.1 139.4 365.1 137.9 C368.1 136.4 370.4 134.1 372.3 132.5 C374.2 130.9 374.6 128.7 376.6 128.3 C378.6 127.9 381.5 129.3 384.4 130.1 C387.3 130.9 391.5 132.2 394.1 133.1 C396.8 134 397.9 134.8 400.3 135.5 C402.7 136.2 407 137.2 408.3 137.5" fill="none" transform="translate(0 49.3)" stroke="#d59f79" stroke-width="3.4"/>
<path d="M240.2 129.1 C244.4 128.9 257.1 128.4 265.2 128.1 C273.3 127.8 284.1 127.6 288.9 127.2 C293.7 126.8 292.4 125.9 294 125.5 C295.6 125.1 296.2 124.8 298.2 124.7 C300.2 124.7 302.8 124.8 306 125.2 C309.2 125.6 313.5 126.2 317.7 127.2 C321.9 128.2 328 130.2 331.3 131.5 C334.6 132.8 335.3 133 337.3 134.9 C339.3 136.8 340.5 141.7 343.3 142.8 C346.1 143.9 350.6 142.4 354.2 141.6 C357.8 140.8 362.1 139.4 365.1 137.9 C368.1 136.4 370.4 134.1 372.3 132.5 C374.2 130.9 374.6 128.7 376.6 128.3 C378.6 127.9 381.5 129.3 384.4 130.1 C387.3 130.9 391.5 132.2 394.1 133.1 C396.8 134 397.9 134.8 400.3 135.5 C402.7 136.2 407 137.2 408.3 137.5" fill="none" transform="translate(0 47.6)" stroke="#d6a07a" stroke-width="3.4"/>
<path d="M240.2 129.1 C244.4 128.9 257.1 128.4 265.2 128.1 C273.3 127.8 284.1 127.6 288.9 127.2 C293.7 126.8 292.4 125.9 294 125.5 C295.6 125.1 296.2 124.8 298.2 124.7 C300.2 124.7 302.8 124.8 306 125.2 C309.2 125.6 313.5 126.2 317.7 127.2 C321.9 128.2 328 130.2 331.3 131.5 C334.6 132.8 335.3 133 337.3 134.9 C339.3 136.8 340.5 141.7 343.3 142.8 C346.1 143.9 350.6 142.4 354.2 141.6 C357.8 140.8 362.1 139.4 365.1 137.9 C368.1 136.4 370.4 134.1 372.3 132.5 C374.2 130.9 374.6 128.7 376.6 128.3 C378.6 127.9 381.5 129.3 384.4 130.1 C387.3 130.9 391.5 132.2 394.1 133.1 C396.8 134 397.9 134.8 400.3 135.5 C402.7 136.2 407 137.2 408.3 137.5" fill="none" transform="translate(0 45.9)" stroke="#d7a17b" stroke-width="3.4"/>
<path d="M240.2 129.1 C244.4 128.9 257.1 128.4 265.2 128.1 C273.3 127.8 284.1 127.6 288.9 127.2 C293.7 126.8 292.4 125.9 294 125.5 C295.6 125.1 296.2 124.8 298.2 124.7 C300.2 124.7 302.8 124.8 306 125.2 C309.2 125.6 313.5 126.2 317.7 127.2 C321.9 128.2 328 130.2 331.3 131.5 C334.6 132.8 335.3 133 337.3 134.9 C339.3 136.8 340.5 141.7 343.3 142.8 C346.1 143.9 350.6 142.4 354.2 141.6 C357.8 140.8 362.1 139.4 365.1 137.9 C368.1 136.4 370.4 134.1 372.3 132.5 C374.2 130.9 374.6 128.7 376.6 128.3 C378.6 127.9 381.5 129.3 384.4 130.1 C387.3 130.9 391.5 132.2 394.1 133.1 C396.8 134 397.9 134.8 400.3 135.5 C402.7 136.2 407 137.2 408.3 137.5" fill="none" transform="translate(0 44.2)" stroke="#d8a27c" stroke-width="3.4"/>
<path d="M240.2 129.1 C244.4 128.9 257.1 128.4 265.2 128.1 C273.3 127.8 284.1 127.6 288.9 127.2 C293.7 126.8 292.4 125.9 294 125.5 C295.6 125.1 296.2 124.8 298.2 124.7 C300.2 124.7 302.8 124.8 306 125.2 C309.2 125.6 313.5 126.2 317.7 127.2 C321.9 128.2 328 130.2 331.3 131.5 C334.6 132.8 335.3 133 337.3 134.9 C339.3 136.8 340.5 141.7 343.3 142.8 C346.1 143.9 350.6 142.4 354.2 141.6 C357.8 140.8 362.1 139.4 365.1 137.9 C368.1 136.4 370.4 134.1 372.3 132.5 C374.2 130.9 374.6 128.7 376.6 128.3 C378.6 127.9 381.5 129.3 384.4 130.1 C387.3 130.9 391.5 132.2 394.1 133.1 C396.8 134 397.9 134.8 400.3 135.5 C402.7 136.2 407 137.2 408.3 137.5" fill="none" transform="translate(0 42.5)" stroke="#d7a17c" stroke-width="3.4"/>
<path d="M240.2 129.1 C244.4 128.9 257.1 128.4 265.2 128.1 C273.3 127.8 284.1 127.6 288.9 127.2 C293.7 126.8 292.4 125.9 294 125.5 C295.6 125.1 296.2 124.8 298.2 124.7 C300.2 124.7 302.8 124.8 306 125.2 C309.2 125.6 313.5 126.2 317.7 127.2 C321.9 128.2 328 130.2 331.3 131.5 C334.6 132.8 335.3 133 337.3 134.9 C339.3 136.8 340.5 141.7 343.3 142.8 C346.1 143.9 350.6 142.4 354.2 141.6 C357.8 140.8 362.1 139.4 365.1 137.9 C368.1 136.4 370.4 134.1 372.3 132.5 C374.2 130.9 374.6 128.7 376.6 128.3 C378.6 127.9 381.5 129.3 384.4 130.1 C387.3 130.9 391.5 132.2 394.1 133.1 C396.8 134 397.9 134.8 400.3 135.5 C402.7 136.2 407 137.2 408.3 137.5" fill="none" transform="translate(0 40.8)" stroke="#d6a07b" stroke-width="3.4"/>
<path d="M240.2 129.1 C244.4 128.9 257.1 128.4 265.2 128.1 C273.3 127.8 284.1 127.6 288.9 127.2 C293.7 126.8 292.4 125.9 294 125.5 C295.6 125.1 296.2 124.8 298.2 124.7 C300.2 124.7 302.8 124.8 306 125.2 C309.2 125.6 313.5 126.2 317.7 127.2 C321.9 128.2 328 130.2 331.3 131.5 C334.6 132.8 335.3 133 337.3 134.9 C339.3 136.8 340.5 141.7 343.3 142.8 C346.1 143.9 350.6 142.4 354.2 141.6 C357.8 140.8 362.1 139.4 365.1 137.9 C368.1 136.4 370.4 134.1 372.3 132.5 C374.2 130.9 374.6 128.7 376.6 128.3 C378.6 127.9 381.5 129.3 384.4 130.1 C387.3 130.9 391.5 132.2 394.1 133.1 C396.8 134 397.9 134.8 400.3 135.5 C402.7 136.2 407 137.2 408.3 137.5" fill="none" transform="translate(0 39.1)" stroke="#d5a07b" stroke-width="3.4"/>
<path d="M240.2 129.1 C244.4 128.9 257.1 128.4 265.2 128.1 C273.3 127.8 284.1 127.6 288.9 127.2 C293.7 126.8 292.4 125.9 294 125.5 C295.6 125.1 296.2 124.8 298.2 124.7 C300.2 124.7 302.8 124.8 306 125.2 C309.2 125.6 313.5 126.2 317.7 127.2 C321.9 128.2 328 130.2 331.3 131.5 C334.6 132.8 335.3 133 337.3 134.9 C339.3 136.8 340.5 141.7 343.3 142.8 C346.1 143.9 350.6 142.4 354.2 141.6 C357.8 140.8 362.1 139.4 365.1 137.9 C368.1 136.4 370.4 134.1 372.3 132.5 C374.2 130.9 374.6 128.7 376.6 128.3 C378.6 127.9 381.5 129.3 384.4 130.1 C387.3 130.9 391.5 132.2 394.1 133.1 C396.8 134 397.9 134.8 400.3 135.5 C402.7 136.2 407 137.2 408.3 137.5" fill="none" transform="translate(0 37.4)" stroke="#d49f7b" stroke-width="3.4"/>
<path d="M240.2 129.1 C244.4 128.9 257.1 128.4 265.2 128.1 C273.3 127.8 284.1 127.6 288.9 127.2 C293.7 126.8 292.4 125.9 294 125.5 C295.6 125.1 296.2 124.8 298.2 124.7 C300.2 124.7 302.8 124.8 306 125.2 C309.2 125.6 313.5 126.2 317.7 127.2 C321.9 128.2 328 130.2 331.3 131.5 C334.6 132.8 335.3 133 337.3 134.9 C339.3 136.8 340.5 141.7 343.3 142.8 C346.1 143.9 350.6 142.4 354.2 141.6 C357.8 140.8 362.1 139.4 365.1 137.9 C368.1 136.4 370.4 134.1 372.3 132.5 C374.2 130.9 374.6 128.7 376.6 128.3 C378.6 127.9 381.5 129.3 384.4 130.1 C387.3 130.9 391.5 132.2 394.1 133.1 C396.8 134 397.9 134.8 400.3 135.5 C402.7 136.2 407 137.2 408.3 137.5" fill="none" transform="translate(0 35.7)" stroke="#d29e7b" stroke-width="3.4"/>
<path d="M240.2 129.1 C244.4 128.9 257.1 128.4 265.2 128.1 C273.3 127.8 284.1 127.6 288.9 127.2 C293.7 126.8 292.4 125.9 294 125.5 C295.6 125.1 296.2 124.8 298.2 124.7 C300.2 124.7 302.8 124.8 306 125.2 C309.2 125.6 313.5 126.2 317.7 127.2 C321.9 128.2 328 130.2 331.3 131.5 C334.6 132.8 335.3 133 337.3 134.9 C339.3 136.8 340.5 141.7 343.3 142.8 C346.1 143.9 350.6 142.4 354.2 141.6 C357.8 140.8 362.1 139.4 365.1 137.9 C368.1 136.4 370.4 134.1 372.3 132.5 C374.2 130.9 374.6 128.7 376.6 128.3 C378.6 127.9 381.5 129.3 384.4 130.1 C387.3 130.9 391.5 132.2 394.1 133.1 C396.8 134 397.9 134.8 400.3 135.5 C402.7 136.2 407 137.2 408.3 137.5" fill="none" transform="translate(0 34)" stroke="#d19d7a" stroke-width="3.4"/>
<path d="M240.2 129.1 C244.4 128.9 257.1 128.4 265.2 128.1 C273.3 127.8 284.1 127.6 288.9 127.2 C293.7 126.8 292.4 125.9 294 125.5 C295.6 125.1 296.2 124.8 298.2 124.7 C300.2 124.7 302.8 124.8 306 125.2 C309.2 125.6 313.5 126.2 317.7 127.2 C321.9 128.2 328 130.2 331.3 131.5 C334.6 132.8 335.3 133 337.3 134.9 C339.3 136.8 340.5 141.7 343.3 142.8 C346.1 143.9 350.6 142.4 354.2 141.6 C357.8 140.8 362.1 139.4 365.1 137.9 C368.1 136.4 370.4 134.1 372.3 132.5 C374.2 130.9 374.6 128.7 376.6 128.3 C378.6 127.9 381.5 129.3 384.4 130.1 C387.3 130.9 391.5 132.2 394.1 133.1 C396.8 134 397.9 134.8 400.3 135.5 C402.7 136.2 407 137.2 408.3 137.5" fill="none" transform="translate(0 32.3)" stroke="#d09c7a" stroke-width="3.4"/>
<path d="M240.2 129.1 C244.4 128.9 257.1 128.4 265.2 128.1 C273.3 127.8 284.1 127.6 288.9 127.2 C293.7 126.8 292.4 125.9 294 125.5 C295.6 125.1 296.2 124.8 298.2 124.7 C300.2 124.7 302.8 124.8 306 125.2 C309.2 125.6 313.5 126.2 317.7 127.2 C321.9 128.2 328 130.2 331.3 131.5 C334.6 132.8 335.3 133 337.3 134.9 C339.3 136.8 340.5 141.7 343.3 142.8 C346.1 143.9 350.6 142.4 354.2 141.6 C357.8 140.8 362.1 139.4 365.1 137.9 C368.1 136.4 370.4 134.1 372.3 132.5 C374.2 130.9 374.6 128.7 376.6 128.3 C378.6 127.9 381.5 129.3 384.4 130.1 C387.3 130.9 391.5 132.2 394.1 133.1 C396.8 134 397.9 134.8 400.3 135.5 C402.7 136.2 407 137.2 408.3 137.5" fill="none" transform="translate(0 30.6)" stroke="#ce9b7a" stroke-width="3.4"/>
<path d="M240.2 129.1 C244.4 128.9 257.1 128.4 265.2 128.1 C273.3 127.8 284.1 127.6 288.9 127.2 C293.7 126.8 292.4 125.9 294 125.5 C295.6 125.1 296.2 124.8 298.2 124.7 C300.2 124.7 302.8 124.8 306 125.2 C309.2 125.6 313.5 126.2 317.7 127.2 C321.9 128.2 328 130.2 331.3 131.5 C334.6 132.8 335.3 133 337.3 134.9 C339.3 136.8 340.5 141.7 343.3 142.8 C346.1 143.9 350.6 142.4 354.2 141.6 C357.8 140.8 362.1 139.4 365.1 137.9 C368.1 136.4 370.4 134.1 372.3 132.5 C374.2 130.9 374.6 128.7 376.6 128.3 C378.6 127.9 381.5 129.3 384.4 130.1 C387.3 130.9 391.5 132.2 394.1 133.1 C396.8 134 397.9 134.8 400.3 135.5 C402.7 136.2 407 137.2 408.3 137.5" fill="none" transform="translate(0 28.9)" stroke="#cc9a7a" stroke-width="3.4"/>
<path d="M240.2 129.1 C244.4 128.9 257.1 128.4 265.2 128.1 C273.3 127.8 284.1 127.6 288.9 127.2 C293.7 126.8 292.4 125.9 294 125.5 C295.6 125.1 296.2 124.8 298.2 124.7 C300.2 124.7 302.8 124.8 306 125.2 C309.2 125.6 313.5 126.2 317.7 127.2 C321.9 128.2 328 130.2 331.3 131.5 C334.6 132.8 335.3 133 337.3 134.9 C339.3 136.8 340.5 141.7 343.3 142.8 C346.1 143.9 350.6 142.4 354.2 141.6 C357.8 140.8 362.1 139.4 365.1 137.9 C368.1 136.4 370.4 134.1 372.3 132.5 C374.2 130.9 374.6 128.7 376.6 128.3 C378.6 127.9 381.5 129.3 384.4 130.1 C387.3 130.9 391.5 132.2 394.1 133.1 C396.8 134 397.9 134.8 400.3 135.5 C402.7 136.2 407 137.2 408.3 137.5" fill="none" transform="translate(0 27.2)" stroke="#ca997a" stroke-width="3.4"/>
<path d="M240.2 129.1 C244.4 128.9 257.1 128.4 265.2 128.1 C273.3 127.8 284.1 127.6 288.9 127.2 C293.7 126.8 292.4 125.9 294 125.5 C295.6 125.1 296.2 124.8 298.2 124.7 C300.2 124.7 302.8 124.8 306 125.2 C309.2 125.6 313.5 126.2 317.7 127.2 C321.9 128.2 328 130.2 331.3 131.5 C334.6 132.8 335.3 133 337.3 134.9 C339.3 136.8 340.5 141.7 343.3 142.8 C346.1 143.9 350.6 142.4 354.2 141.6 C357.8 140.8 362.1 139.4 365.1 137.9 C368.1 136.4 370.4 134.1 372.3 132.5 C374.2 130.9 374.6 128.7 376.6 128.3 C378.6 127.9 381.5 129.3 384.4 130.1 C387.3 130.9 391.5 132.2 394.1 133.1 C396.8 134 397.9 134.8 400.3 135.5 C402.7 136.2 407 137.2 408.3 137.5" fill="none" transform="translate(0 25.5)" stroke="#c8977a" stroke-width="3.4"/>
<path d="M240.2 129.1 C244.4 128.9 257.1 128.4 265.2 128.1 C273.3 127.8 284.1 127.6 288.9 127.2 C293.7 126.8 292.4 125.9 294 125.5 C295.6 125.1 296.2 124.8 298.2 124.7 C300.2 124.7 302.8 124.8 306 125.2 C309.2 125.6 313.5 126.2 317.7 127.2 C321.9 128.2 328 130.2 331.3 131.5 C334.6 132.8 335.3 133 337.3 134.9 C339.3 136.8 340.5 141.7 343.3 142.8 C346.1 143.9 350.6 142.4 354.2 141.6 C357.8 140.8 362.1 139.4 365.1 137.9 C368.1 136.4 370.4 134.1 372.3 132.5 C374.2 130.9 374.6 128.7 376.6 128.3 C378.6 127.9 381.5 129.3 384.4 130.1 C387.3 130.9 391.5 132.2 394.1 133.1 C396.8 134 397.9 134.8 400.3 135.5 C402.7 136.2 407 137.2 408.3 137.5" fill="none" transform="translate(0 23.8)" stroke="#c6967a" stroke-width="3.4"/>
<path d="M240.2 129.1 C244.4 128.9 257.1 128.4 265.2 128.1 C273.3 127.8 284.1 127.6 288.9 127.2 C293.7 126.8 292.4 125.9 294 125.5 C295.6 125.1 296.2 124.8 298.2 124.7 C300.2 124.7 302.8 124.8 306 125.2 C309.2 125.6 313.5 126.2 317.7 127.2 C321.9 128.2 328 130.2 331.3 131.5 C334.6 132.8 335.3 133 337.3 134.9 C339.3 136.8 340.5 141.7 343.3 142.8 C346.1 143.9 350.6 142.4 354.2 141.6 C357.8 140.8 362.1 139.4 365.1 137.9 C368.1 136.4 370.4 134.1 372.3 132.5 C374.2 130.9 374.6 128.7 376.6 128.3 C378.6 127.9 381.5 129.3 384.4 130.1 C387.3 130.9 391.5 132.2 394.1 133.1 C396.8 134 397.9 134.8 400.3 135.5 C402.7 136.2 407 137.2 408.3 137.5" fill="none" transform="translate(0 22.1)" stroke="#c4957a" stroke-width="3.4"/>
<path d="M240.2 129.1 C244.4 128.9 257.1 128.4 265.2 128.1 C273.3 127.8 284.1 127.6 288.9 127.2 C293.7 126.8 292.4 125.9 294 125.5 C295.6 125.1 296.2 124.8 298.2 124.7 C300.2 124.7 302.8 124.8 306 125.2 C309.2 125.6 313.5 126.2 317.7 127.2 C321.9 128.2 328 130.2 331.3 131.5 C334.6 132.8 335.3 133 337.3 134.9 C339.3 136.8 340.5 141.7 343.3 142.8 C346.1 143.9 350.6 142.4 354.2 141.6 C357.8 140.8 362.1 139.4 365.1 137.9 C368.1 136.4 370.4 134.1 372.3 132.5 C374.2 130.9 374.6 128.7 376.6 128.3 C378.6 127.9 381.5 129.3 384.4 130.1 C387.3 130.9 391.5 132.2 394.1 133.1 C396.8 134 397.9 134.8 400.3 135.5 C402.7 136.2 407 137.2 408.3 137.5" fill="none" transform="translate(0 20.4)" stroke="#c2947a" stroke-width="3.4"/>
<path d="M240.2 129.1 C244.4 128.9 257.1 128.4 265.2 128.1 C273.3 127.8 284.1 127.6 288.9 127.2 C293.7 126.8 292.4 125.9 294 125.5 C295.6 125.1 296.2 124.8 298.2 124.7 C300.2 124.7 302.8 124.8 306 125.2 C309.2 125.6 313.5 126.2 317.7 127.2 C321.9 128.2 328 130.2 331.3 131.5 C334.6 132.8 335.3 133 337.3 134.9 C339.3 136.8 340.5 141.7 343.3 142.8 C346.1 143.9 350.6 142.4 354.2 141.6 C357.8 140.8 362.1 139.4 365.1 137.9 C368.1 136.4 370.4 134.1 372.3 132.5 C374.2 130.9 374.6 128.7 376.6 128.3 C378.6 127.9 381.5 129.3 384.4 130.1 C387.3 130.9 391.5 132.2 394.1 133.1 C396.8 134 397.9 134.8 400.3 135.5 C402.7 136.2 407 137.2 408.3 137.5" fill="none" transform="translate(0 18.7)" stroke="#bf9279" stroke-width="3.4"/>
<path d="M240.2 129.1 C244.4 128.9 257.1 128.4 265.2 128.1 C273.3 127.8 284.1 127.6 288.9 127.2 C293.7 126.8 292.4 125.9 294 125.5 C295.6 125.1 296.2 124.8 298.2 124.7 C300.2 124.7 302.8 124.8 306 125.2 C309.2 125.6 313.5 126.2 317.7 127.2 C321.9 128.2 328 130.2 331.3 131.5 C334.6 132.8 335.3 133 337.3 134.9 C339.3 136.8 340.5 141.7 343.3 142.8 C346.1 143.9 350.6 142.4 354.2 141.6 C357.8 140.8 362.1 139.4 365.1 137.9 C368.1 136.4 370.4 134.1 372.3 132.5 C374.2 130.9 374.6 128.7 376.6 128.3 C378.6 127.9 381.5 129.3 384.4 130.1 C387.3 130.9 391.5 132.2 394.1 133.1 C396.8 134 397.9 134.8 400.3 135.5 C402.7 136.2 407 137.2 408.3 137.5" fill="none" transform="translate(0 17)" stroke="#bd9179" stroke-width="3.4"/>
<path d="M240.2 129.1 C244.4 128.9 257.1 128.4 265.2 128.1 C273.3 127.8 284.1 127.6 288.9 127.2 C293.7 126.8 292.4 125.9 294 125.5 C295.6 125.1 296.2 124.8 298.2 124.7 C300.2 124.7 302.8 124.8 306 125.2 C309.2 125.6 313.5 126.2 317.7 127.2 C321.9 128.2 328 130.2 331.3 131.5 C334.6 132.8 335.3 133 337.3 134.9 C339.3 136.8 340.5 141.7 343.3 142.8 C346.1 143.9 350.6 142.4 354.2 141.6 C357.8 140.8 362.1 139.4 365.1 137.9 C368.1 136.4 370.4 134.1 372.3 132.5 C374.2 130.9 374.6 128.7 376.6 128.3 C378.6 127.9 381.5 129.3 384.4 130.1 C387.3 130.9 391.5 132.2 394.1 133.1 C396.8 134 397.9 134.8 400.3 135.5 C402.7 136.2 407 137.2 408.3 137.5" fill="none" transform="translate(0 15.3)" stroke="#ba9079" stroke-width="3.4"/>
<path d="M240.2 129.1 C244.4 128.9 257.1 128.4 265.2 128.1 C273.3 127.8 284.1 127.6 288.9 127.2 C293.7 126.8 292.4 125.9 294 125.5 C295.6 125.1 296.2 124.8 298.2 124.7 C300.2 124.7 302.8 124.8 306 125.2 C309.2 125.6 313.5 126.2 317.7 127.2 C321.9 128.2 328 130.2 331.3 131.5 C334.6 132.8 335.3 133 337.3 134.9 C339.3 136.8 340.5 141.7 343.3 142.8 C346.1 143.9 350.6 142.4 354.2 141.6 C357.8 140.8 362.1 139.4 365.1 137.9 C368.1 136.4 370.4 134.1 372.3 132.5 C374.2 130.9 374.6 128.7 376.6 128.3 C378.6 127.9 381.5 129.3 384.4 130.1 C387.3 130.9 391.5 132.2 394.1 133.1 C396.8 134 397.9 134.8 400.3 135.5 C402.7 136.2 407 137.2 408.3 137.5" fill="none" transform="translate(0 13.6)" stroke="#b88e78" stroke-width="3.4"/>
<path d="M240.2 129.1 C244.4 128.9 257.1 128.4 265.2 128.1 C273.3 127.8 284.1 127.6 288.9 127.2 C293.7 126.8 292.4 125.9 294 125.5 C295.6 125.1 296.2 124.8 298.2 124.7 C300.2 124.7 302.8 124.8 306 125.2 C309.2 125.6 313.5 126.2 317.7 127.2 C321.9 128.2 328 130.2 331.3 131.5 C334.6 132.8 335.3 133 337.3 134.9 C339.3 136.8 340.5 141.7 343.3 142.8 C346.1 143.9 350.6 142.4 354.2 141.6 C357.8 140.8 362.1 139.4 365.1 137.9 C368.1 136.4 370.4 134.1 372.3 132.5 C374.2 130.9 374.6 128.7 376.6 128.3 C378.6 127.9 381.5 129.3 384.4 130.1 C387.3 130.9 391.5 132.2 394.1 133.1 C396.8 134 397.9 134.8 400.3 135.5 C402.7 136.2 407 137.2 408.3 137.5" fill="none" transform="translate(0 11.9)" stroke="#b68f7a" stroke-width="3.4"/>
<path d="M240.2 129.1 C244.4 128.9 257.1 128.4 265.2 128.1 C273.3 127.8 284.1 127.6 288.9 127.2 C293.7 126.8 292.4 125.9 294 125.5 C295.6 125.1 296.2 124.8 298.2 124.7 C300.2 124.7 302.8 124.8 306 125.2 C309.2 125.6 313.5 126.2 317.7 127.2 C321.9 128.2 328 130.2 331.3 131.5 C334.6 132.8 335.3 133 337.3 134.9 C339.3 136.8 340.5 141.7 343.3 142.8 C346.1 143.9 350.6 142.4 354.2 141.6 C357.8 140.8 362.1 139.4 365.1 137.9 C368.1 136.4 370.4 134.1 372.3 132.5 C374.2 130.9 374.6 128.7 376.6 128.3 C378.6 127.9 381.5 129.3 384.4 130.1 C387.3 130.9 391.5 132.2 394.1 133.1 C396.8 134 397.9 134.8 400.3 135.5 C402.7 136.2 407 137.2 408.3 137.5" fill="none" transform="translate(0 10.2)" stroke="#b3907d" stroke-width="3.4"/>
<path d="M240.2 129.1 C244.4 128.9 257.1 128.4 265.2 128.1 C273.3 127.8 284.1 127.6 288.9 127.2 C293.7 126.8 292.4 125.9 294 125.5 C295.6 125.1 296.2 124.8 298.2 124.7 C300.2 124.7 302.8 124.8 306 125.2 C309.2 125.6 313.5 126.2 317.7 127.2 C321.9 128.2 328 130.2 331.3 131.5 C334.6 132.8 335.3 133 337.3 134.9 C339.3 136.8 340.5 141.7 343.3 142.8 C346.1 143.9 350.6 142.4 354.2 141.6 C357.8 140.8 362.1 139.4 365.1 137.9 C368.1 136.4 370.4 134.1 372.3 132.5 C374.2 130.9 374.6 128.7 376.6 128.3 C378.6 127.9 381.5 129.3 384.4 130.1 C387.3 130.9 391.5 132.2 394.1 133.1 C396.8 134 397.9 134.8 400.3 135.5 C402.7 136.2 407 137.2 408.3 137.5" fill="none" transform="translate(0 8.5)" stroke="#b19180" stroke-width="3.4"/>
<path d="M240.2 129.1 C244.4 128.9 257.1 128.4 265.2 128.1 C273.3 127.8 284.1 127.6 288.9 127.2 C293.7 126.8 292.4 125.9 294 125.5 C295.6 125.1 296.2 124.8 298.2 124.7 C300.2 124.7 302.8 124.8 306 125.2 C309.2 125.6 313.5 126.2 317.7 127.2 C321.9 128.2 328 130.2 331.3 131.5 C334.6 132.8 335.3 133 337.3 134.9 C339.3 136.8 340.5 141.7 343.3 142.8 C346.1 143.9 350.6 142.4 354.2 141.6 C357.8 140.8 362.1 139.4 365.1 137.9 C368.1 136.4 370.4 134.1 372.3 132.5 C374.2 130.9 374.6 128.7 376.6 128.3 C378.6 127.9 381.5 129.3 384.4 130.1 C387.3 130.9 391.5 132.2 394.1 133.1 C396.8 134 397.9 134.8 400.3 135.5 C402.7 136.2 407 137.2 408.3 137.5" fill="none" transform="translate(0 6.8)" stroke="#af9283" stroke-width="3.4"/>
<path d="M240.2 129.1 C244.4 128.9 257.1 128.4 265.2 128.1 C273.3 127.8 284.1 127.6 288.9 127.2 C293.7 126.8 292.4 125.9 294 125.5 C295.6 125.1 296.2 124.8 298.2 124.7 C300.2 124.7 302.8 124.8 306 125.2 C309.2 125.6 313.5 126.2 317.7 127.2 C321.9 128.2 328 130.2 331.3 131.5 C334.6 132.8 335.3 133 337.3 134.9 C339.3 136.8 340.5 141.7 343.3 142.8 C346.1 143.9 350.6 142.4 354.2 141.6 C357.8 140.8 362.1 139.4 365.1 137.9 C368.1 136.4 370.4 134.1 372.3 132.5 C374.2 130.9 374.6 128.7 376.6 128.3 C378.6 127.9 381.5 129.3 384.4 130.1 C387.3 130.9 391.5 132.2 394.1 133.1 C396.8 134 397.9 134.8 400.3 135.5 C402.7 136.2 407 137.2 408.3 137.5" fill="none" transform="translate(0 5.1)" stroke="#ad9285" stroke-width="3.4"/>
<path d="M240.2 129.1 C244.4 128.9 257.1 128.4 265.2 128.1 C273.3 127.8 284.1 127.6 288.9 127.2 C293.7 126.8 292.4 125.9 294 125.5 C295.6 125.1 296.2 124.8 298.2 124.7 C300.2 124.7 302.8 124.8 306 125.2 C309.2 125.6 313.5 126.2 317.7 127.2 C321.9 128.2 328 130.2 331.3 131.5 C334.6 132.8 335.3 133 337.3 134.9 C339.3 136.8 340.5 141.7 343.3 142.8 C346.1 143.9 350.6 142.4 354.2 141.6 C357.8 140.8 362.1 139.4 365.1 137.9 C368.1 136.4 370.4 134.1 372.3 132.5 C374.2 130.9 374.6 128.7 376.6 128.3 C378.6 127.9 381.5 129.3 384.4 130.1 C387.3 130.9 391.5 132.2 394.1 133.1 C396.8 134 397.9 134.8 400.3 135.5 C402.7 136.2 407 137.2 408.3 137.5" fill="none" transform="translate(0 3.4)" stroke="#aa9387" stroke-width="3.4"/>
<path d="M240.2 129.1 C244.4 128.9 257.1 128.4 265.2 128.1 C273.3 127.8 284.1 127.6 288.9 127.2 C293.7 126.8 292.4 125.9 294 125.5 C295.6 125.1 296.2 124.8 298.2 124.7 C300.2 124.7 302.8 124.8 306 125.2 C309.2 125.6 313.5 126.2 317.7 127.2 C321.9 128.2 328 130.2 331.3 131.5 C334.6 132.8 335.3 133 337.3 134.9 C339.3 136.8 340.5 141.7 343.3 142.8 C346.1 143.9 350.6 142.4 354.2 141.6 C357.8 140.8 362.1 139.4 365.1 137.9 C368.1 136.4 370.4 134.1 372.3 132.5 C374.2 130.9 374.6 128.7 376.6 128.3 C378.6 127.9 381.5 129.3 384.4 130.1 C387.3 130.9 391.5 132.2 394.1 133.1 C396.8 134 397.9 134.8 400.3 135.5 C402.7 136.2 407 137.2 408.3 137.5" fill="none" transform="translate(0 1.7)" stroke="#a89389" stroke-width="3.4"/>
<path d="M240.2 129.1 C244.4 128.9 257.1 128.4 265.2 128.1 C273.3 127.8 284.1 127.6 288.9 127.2 C293.7 126.8 292.4 125.9 294 125.5 C295.6 125.1 296.2 124.8 298.2 124.7 C300.2 124.7 302.8 124.8 306 125.2 C309.2 125.6 313.5 126.2 317.7 127.2 C321.9 128.2 328 130.2 331.3 131.5 C334.6 132.8 335.3 133 337.3 134.9 C339.3 136.8 340.5 141.7 343.3 142.8 C346.1 143.9 350.6 142.4 354.2 141.6 C357.8 140.8 362.1 139.4 365.1 137.9 C368.1 136.4 370.4 134.1 372.3 132.5 C374.2 130.9 374.6 128.7 376.6 128.3 C378.6 127.9 381.5 129.3 384.4 130.1 C387.3 130.9 391.5 132.2 394.1 133.1 C396.8 134 397.9 134.8 400.3 135.5 C402.7 136.2 407 137.2 408.3 137.5" fill="none" transform="translate(0 0)" stroke="#a5948b" stroke-width="3.4"/>
<g clip-path="url(#pzc1)">
<path d="M235.9 182 C237.6 181.8 241.9 181.7 245.9 181 C249.9 180.3 254.3 179.2 260 178 C265.7 176.8 273.3 175.5 280 174 C286.7 172.5 293.7 170.8 300 169 C306.3 167.2 312.6 165.2 318 163.5 C323.4 161.8 327.7 158.7 332.3 158.8 C336.9 158.9 341.1 161.7 345.9 163.9 C350.7 166.2 356.9 169.5 361.1 172.3 C365.3 175.1 368.5 178 371.3 180.8 C374.1 183.6 376.2 185.9 378 189.3 C379.8 192.7 381.3 196.3 382.3 201.1 C383.3 205.9 383.7 213.8 384 218 C384.3 222.2 384.2 224.7 384.2 226" fill="none" transform="translate(0 57.5)" stroke="#fde6d0" stroke-width="3.4"/>
<path d="M235.9 182 C237.6 181.8 241.9 181.7 245.9 181 C249.9 180.3 254.3 179.2 260 178 C265.7 176.8 273.3 175.5 280 174 C286.7 172.5 293.7 170.8 300 169 C306.3 167.2 312.6 165.2 318 163.5 C323.4 161.8 327.7 158.7 332.3 158.8 C336.9 158.9 341.1 161.7 345.9 163.9 C350.7 166.2 356.9 169.5 361.1 172.3 C365.3 175.1 368.5 178 371.3 180.8 C374.1 183.6 376.2 185.9 378 189.3 C379.8 192.7 381.3 196.3 382.3 201.1 C383.3 205.9 383.7 213.8 384 218 C384.3 222.2 384.2 224.7 384.2 226" fill="none" transform="translate(0 55.8)" stroke="#fde6d0" stroke-width="3.4"/>
<path d="M235.9 182 C237.6 181.8 241.9 181.7 245.9 181 C249.9 180.3 254.3 179.2 260 178 C265.7 176.8 273.3 175.5 280 174 C286.7 172.5 293.7 170.8 300 169 C306.3 167.2 312.6 165.2 318 163.5 C323.4 161.8 327.7 158.7 332.3 158.8 C336.9 158.9 341.1 161.7 345.9 163.9 C350.7 166.2 356.9 169.5 361.1 172.3 C365.3 175.1 368.5 178 371.3 180.8 C374.1 183.6 376.2 185.9 378 189.3 C379.8 192.7 381.3 196.3 382.3 201.1 C383.3 205.9 383.7 213.8 384 218 C384.3 222.2 384.2 224.7 384.2 226" fill="none" transform="translate(0 54.1)" stroke="#fde6d0" stroke-width="3.4"/>
<path d="M235.9 182 C237.6 181.8 241.9 181.7 245.9 181 C249.9 180.3 254.3 179.2 260 178 C265.7 176.8 273.3 175.5 280 174 C286.7 172.5 293.7 170.8 300 169 C306.3 167.2 312.6 165.2 318 163.5 C323.4 161.8 327.7 158.7 332.3 158.8 C336.9 158.9 341.1 161.7 345.9 163.9 C350.7 166.2 356.9 169.5 361.1 172.3 C365.3 175.1 368.5 178 371.3 180.8 C374.1 183.6 376.2 185.9 378 189.3 C379.8 192.7 381.3 196.3 382.3 201.1 C383.3 205.9 383.7 213.8 384 218 C384.3 222.2 384.2 224.7 384.2 226" fill="none" transform="translate(0 52.4)" stroke="#fde6d0" stroke-width="3.4"/>
<path d="M235.9 182 C237.6 181.8 241.9 181.7 245.9 181 C249.9 180.3 254.3 179.2 260 178 C265.7 176.8 273.3 175.5 280 174 C286.7 172.5 293.7 170.8 300 169 C306.3 167.2 312.6 165.2 318 163.5 C323.4 161.8 327.7 158.7 332.3 158.8 C336.9 158.9 341.1 161.7 345.9 163.9 C350.7 166.2 356.9 169.5 361.1 172.3 C365.3 175.1 368.5 178 371.3 180.8 C374.1 183.6 376.2 185.9 378 189.3 C379.8 192.7 381.3 196.3 382.3 201.1 C383.3 205.9 383.7 213.8 384 218 C384.3 222.2 384.2 224.7 384.2 226" fill="none" transform="translate(0 50.7)" stroke="#fde6d1" stroke-width="3.4"/>
<path d="M235.9 182 C237.6 181.8 241.9 181.7 245.9 181 C249.9 180.3 254.3 179.2 260 178 C265.7 176.8 273.3 175.5 280 174 C286.7 172.5 293.7 170.8 300 169 C306.3 167.2 312.6 165.2 318 163.5 C323.4 161.8 327.7 158.7 332.3 158.8 C336.9 158.9 341.1 161.7 345.9 163.9 C350.7 166.2 356.9 169.5 361.1 172.3 C365.3 175.1 368.5 178 371.3 180.8 C374.1 183.6 376.2 185.9 378 189.3 C379.8 192.7 381.3 196.3 382.3 201.1 C383.3 205.9 383.7 213.8 384 218 C384.3 222.2 384.2 224.7 384.2 226" fill="none" transform="translate(0 49)" stroke="#fde8d4" stroke-width="3.4"/>
<path d="M235.9 182 C237.6 181.8 241.9 181.7 245.9 181 C249.9 180.3 254.3 179.2 260 178 C265.7 176.8 273.3 175.5 280 174 C286.7 172.5 293.7 170.8 300 169 C306.3 167.2 312.6 165.2 318 163.5 C323.4 161.8 327.7 158.7 332.3 158.8 C336.9 158.9 341.1 161.7 345.9 163.9 C350.7 166.2 356.9 169.5 361.1 172.3 C365.3 175.1 368.5 178 371.3 180.8 C374.1 183.6 376.2 185.9 378 189.3 C379.8 192.7 381.3 196.3 382.3 201.1 C383.3 205.9 383.7 213.8 384 218 C384.3 222.2 384.2 224.7 384.2 226" fill="none" transform="translate(0 47.3)" stroke="#fde9d6" stroke-width="3.4"/>
<path d="M235.9 182 C237.6 181.8 241.9 181.7 245.9 181 C249.9 180.3 254.3 179.2 260 178 C265.7 176.8 273.3 175.5 280 174 C286.7 172.5 293.7 170.8 300 169 C306.3 167.2 312.6 165.2 318 163.5 C323.4 161.8 327.7 158.7 332.3 158.8 C336.9 158.9 341.1 161.7 345.9 163.9 C350.7 166.2 356.9 169.5 361.1 172.3 C365.3 175.1 368.5 178 371.3 180.8 C374.1 183.6 376.2 185.9 378 189.3 C379.8 192.7 381.3 196.3 382.3 201.1 C383.3 205.9 383.7 213.8 384 218 C384.3 222.2 384.2 224.7 384.2 226" fill="none" transform="translate(0 45.6)" stroke="#fdead9" stroke-width="3.4"/>
<path d="M235.9 182 C237.6 181.8 241.9 181.7 245.9 181 C249.9 180.3 254.3 179.2 260 178 C265.7 176.8 273.3 175.5 280 174 C286.7 172.5 293.7 170.8 300 169 C306.3 167.2 312.6 165.2 318 163.5 C323.4 161.8 327.7 158.7 332.3 158.8 C336.9 158.9 341.1 161.7 345.9 163.9 C350.7 166.2 356.9 169.5 361.1 172.3 C365.3 175.1 368.5 178 371.3 180.8 C374.1 183.6 376.2 185.9 378 189.3 C379.8 192.7 381.3 196.3 382.3 201.1 C383.3 205.9 383.7 213.8 384 218 C384.3 222.2 384.2 224.7 384.2 226" fill="none" transform="translate(0 43.9)" stroke="#fdebdb" stroke-width="3.4"/>
<path d="M235.9 182 C237.6 181.8 241.9 181.7 245.9 181 C249.9 180.3 254.3 179.2 260 178 C265.7 176.8 273.3 175.5 280 174 C286.7 172.5 293.7 170.8 300 169 C306.3 167.2 312.6 165.2 318 163.5 C323.4 161.8 327.7 158.7 332.3 158.8 C336.9 158.9 341.1 161.7 345.9 163.9 C350.7 166.2 356.9 169.5 361.1 172.3 C365.3 175.1 368.5 178 371.3 180.8 C374.1 183.6 376.2 185.9 378 189.3 C379.8 192.7 381.3 196.3 382.3 201.1 C383.3 205.9 383.7 213.8 384 218 C384.3 222.2 384.2 224.7 384.2 226" fill="none" transform="translate(0 42.2)" stroke="#feecde" stroke-width="3.4"/>
<path d="M235.9 182 C237.6 181.8 241.9 181.7 245.9 181 C249.9 180.3 254.3 179.2 260 178 C265.7 176.8 273.3 175.5 280 174 C286.7 172.5 293.7 170.8 300 169 C306.3 167.2 312.6 165.2 318 163.5 C323.4 161.8 327.7 158.7 332.3 158.8 C336.9 158.9 341.1 161.7 345.9 163.9 C350.7 166.2 356.9 169.5 361.1 172.3 C365.3 175.1 368.5 178 371.3 180.8 C374.1 183.6 376.2 185.9 378 189.3 C379.8 192.7 381.3 196.3 382.3 201.1 C383.3 205.9 383.7 213.8 384 218 C384.3 222.2 384.2 224.7 384.2 226" fill="none" transform="translate(0 40.5)" stroke="#feede0" stroke-width="3.4"/>
<path d="M235.9 182 C237.6 181.8 241.9 181.7 245.9 181 C249.9 180.3 254.3 179.2 260 178 C265.7 176.8 273.3 175.5 280 174 C286.7 172.5 293.7 170.8 300 169 C306.3 167.2 312.6 165.2 318 163.5 C323.4 161.8 327.7 158.7 332.3 158.8 C336.9 158.9 341.1 161.7 345.9 163.9 C350.7 166.2 356.9 169.5 361.1 172.3 C365.3 175.1 368.5 178 371.3 180.8 C374.1 183.6 376.2 185.9 378 189.3 C379.8 192.7 381.3 196.3 382.3 201.1 C383.3 205.9 383.7 213.8 384 218 C384.3 222.2 384.2 224.7 384.2 226" fill="none" transform="translate(0 38.8)" stroke="#feefe3" stroke-width="3.4"/>
<path d="M235.9 182 C237.6 181.8 241.9 181.7 245.9 181 C249.9 180.3 254.3 179.2 260 178 C265.7 176.8 273.3 175.5 280 174 C286.7 172.5 293.7 170.8 300 169 C306.3 167.2 312.6 165.2 318 163.5 C323.4 161.8 327.7 158.7 332.3 158.8 C336.9 158.9 341.1 161.7 345.9 163.9 C350.7 166.2 356.9 169.5 361.1 172.3 C365.3 175.1 368.5 178 371.3 180.8 C374.1 183.6 376.2 185.9 378 189.3 C379.8 192.7 381.3 196.3 382.3 201.1 C383.3 205.9 383.7 213.8 384 218 C384.3 222.2 384.2 224.7 384.2 226" fill="none" transform="translate(0 37.1)" stroke="#fef0e5" stroke-width="3.4"/>
<path d="M235.9 182 C237.6 181.8 241.9 181.7 245.9 181 C249.9 180.3 254.3 179.2 260 178 C265.7 176.8 273.3 175.5 280 174 C286.7 172.5 293.7 170.8 300 169 C306.3 167.2 312.6 165.2 318 163.5 C323.4 161.8 327.7 158.7 332.3 158.8 C336.9 158.9 341.1 161.7 345.9 163.9 C350.7 166.2 356.9 169.5 361.1 172.3 C365.3 175.1 368.5 178 371.3 180.8 C374.1 183.6 376.2 185.9 378 189.3 C379.8 192.7 381.3 196.3 382.3 201.1 C383.3 205.9 383.7 213.8 384 218 C384.3 222.2 384.2 224.7 384.2 226" fill="none" transform="translate(0 35.4)" stroke="#fef1e8" stroke-width="3.4"/>
<path d="M235.9 182 C237.6 181.8 241.9 181.7 245.9 181 C249.9 180.3 254.3 179.2 260 178 C265.7 176.8 273.3 175.5 280 174 C286.7 172.5 293.7 170.8 300 169 C306.3 167.2 312.6 165.2 318 163.5 C323.4 161.8 327.7 158.7 332.3 158.8 C336.9 158.9 341.1 161.7 345.9 163.9 C350.7 166.2 356.9 169.5 361.1 172.3 C365.3 175.1 368.5 178 371.3 180.8 C374.1 183.6 376.2 185.9 378 189.3 C379.8 192.7 381.3 196.3 382.3 201.1 C383.3 205.9 383.7 213.8 384 218 C384.3 222.2 384.2 224.7 384.2 226" fill="none" transform="translate(0 33.7)" stroke="#fef1e8" stroke-width="3.4"/>
<path d="M235.9 182 C237.6 181.8 241.9 181.7 245.9 181 C249.9 180.3 254.3 179.2 260 178 C265.7 176.8 273.3 175.5 280 174 C286.7 172.5 293.7 170.8 300 169 C306.3 167.2 312.6 165.2 318 163.5 C323.4 161.8 327.7 158.7 332.3 158.8 C336.9 158.9 341.1 161.7 345.9 163.9 C350.7 166.2 356.9 169.5 361.1 172.3 C365.3 175.1 368.5 178 371.3 180.8 C374.1 183.6 376.2 185.9 378 189.3 C379.8 192.7 381.3 196.3 382.3 201.1 C383.3 205.9 383.7 213.8 384 218 C384.3 222.2 384.2 224.7 384.2 226" fill="none" transform="translate(0 32)" stroke="#fef0e7" stroke-width="3.4"/>
<path d="M235.9 182 C237.6 181.8 241.9 181.7 245.9 181 C249.9 180.3 254.3 179.2 260 178 C265.7 176.8 273.3 175.5 280 174 C286.7 172.5 293.7 170.8 300 169 C306.3 167.2 312.6 165.2 318 163.5 C323.4 161.8 327.7 158.7 332.3 158.8 C336.9 158.9 341.1 161.7 345.9 163.9 C350.7 166.2 356.9 169.5 361.1 172.3 C365.3 175.1 368.5 178 371.3 180.8 C374.1 183.6 376.2 185.9 378 189.3 C379.8 192.7 381.3 196.3 382.3 201.1 C383.3 205.9 383.7 213.8 384 218 C384.3 222.2 384.2 224.7 384.2 226" fill="none" transform="translate(0 30.3)" stroke="#fef0e7" stroke-width="3.4"/>
<path d="M235.9 182 C237.6 181.8 241.9 181.7 245.9 181 C249.9 180.3 254.3 179.2 260 178 C265.7 176.8 273.3 175.5 280 174 C286.7 172.5 293.7 170.8 300 169 C306.3 167.2 312.6 165.2 318 163.5 C323.4 161.8 327.7 158.7 332.3 158.8 C336.9 158.9 341.1 161.7 345.9 163.9 C350.7 166.2 356.9 169.5 361.1 172.3 C365.3 175.1 368.5 178 371.3 180.8 C374.1 183.6 376.2 185.9 378 189.3 C379.8 192.7 381.3 196.3 382.3 201.1 C383.3 205.9 383.7 213.8 384 218 C384.3 222.2 384.2 224.7 384.2 226" fill="none" transform="translate(0 28.6)" stroke="#fdf0e7" stroke-width="3.4"/>
<path d="M235.9 182 C237.6 181.8 241.9 181.7 245.9 181 C249.9 180.3 254.3 179.2 260 178 C265.7 176.8 273.3 175.5 280 174 C286.7 172.5 293.7 170.8 300 169 C306.3 167.2 312.6 165.2 318 163.5 C323.4 161.8 327.7 158.7 332.3 158.8 C336.9 158.9 341.1 161.7 345.9 163.9 C350.7 166.2 356.9 169.5 361.1 172.3 C365.3 175.1 368.5 178 371.3 180.8 C374.1 183.6 376.2 185.9 378 189.3 C379.8 192.7 381.3 196.3 382.3 201.1 C383.3 205.9 383.7 213.8 384 218 C384.3 222.2 384.2 224.7 384.2 226" fill="none" transform="translate(0 26.9)" stroke="#fdefe6" stroke-width="3.4"/>
<path d="M235.9 182 C237.6 181.8 241.9 181.7 245.9 181 C249.9 180.3 254.3 179.2 260 178 C265.7 176.8 273.3 175.5 280 174 C286.7 172.5 293.7 170.8 300 169 C306.3 167.2 312.6 165.2 318 163.5 C323.4 161.8 327.7 158.7 332.3 158.8 C336.9 158.9 341.1 161.7 345.9 163.9 C350.7 166.2 356.9 169.5 361.1 172.3 C365.3 175.1 368.5 178 371.3 180.8 C374.1 183.6 376.2 185.9 378 189.3 C379.8 192.7 381.3 196.3 382.3 201.1 C383.3 205.9 383.7 213.8 384 218 C384.3 222.2 384.2 224.7 384.2 226" fill="none" transform="translate(0 25.2)" stroke="#fdefe6" stroke-width="3.4"/>
<path d="M235.9 182 C237.6 181.8 241.9 181.7 245.9 181 C249.9 180.3 254.3 179.2 260 178 C265.7 176.8 273.3 175.5 280 174 C286.7 172.5 293.7 170.8 300 169 C306.3 167.2 312.6 165.2 318 163.5 C323.4 161.8 327.7 158.7 332.3 158.8 C336.9 158.9 341.1 161.7 345.9 163.9 C350.7 166.2 356.9 169.5 361.1 172.3 C365.3 175.1 368.5 178 371.3 180.8 C374.1 183.6 376.2 185.9 378 189.3 C379.8 192.7 381.3 196.3 382.3 201.1 C383.3 205.9 383.7 213.8 384 218 C384.3 222.2 384.2 224.7 384.2 226" fill="none" transform="translate(0 23.5)" stroke="#fdeee4" stroke-width="3.4"/>
<path d="M235.9 182 C237.6 181.8 241.9 181.7 245.9 181 C249.9 180.3 254.3 179.2 260 178 C265.7 176.8 273.3 175.5 280 174 C286.7 172.5 293.7 170.8 300 169 C306.3 167.2 312.6 165.2 318 163.5 C323.4 161.8 327.7 158.7 332.3 158.8 C336.9 158.9 341.1 161.7 345.9 163.9 C350.7 166.2 356.9 169.5 361.1 172.3 C365.3 175.1 368.5 178 371.3 180.8 C374.1 183.6 376.2 185.9 378 189.3 C379.8 192.7 381.3 196.3 382.3 201.1 C383.3 205.9 383.7 213.8 384 218 C384.3 222.2 384.2 224.7 384.2 226" fill="none" transform="translate(0 21.8)" stroke="#fcebe0" stroke-width="3.4"/>
<path d="M235.9 182 C237.6 181.8 241.9 181.7 245.9 181 C249.9 180.3 254.3 179.2 260 178 C265.7 176.8 273.3 175.5 280 174 C286.7 172.5 293.7 170.8 300 169 C306.3 167.2 312.6 165.2 318 163.5 C323.4 161.8 327.7 158.7 332.3 158.8 C336.9 158.9 341.1 161.7 345.9 163.9 C350.7 166.2 356.9 169.5 361.1 172.3 C365.3 175.1 368.5 178 371.3 180.8 C374.1 183.6 376.2 185.9 378 189.3 C379.8 192.7 381.3 196.3 382.3 201.1 C383.3 205.9 383.7 213.8 384 218 C384.3 222.2 384.2 224.7 384.2 226" fill="none" transform="translate(0 20.1)" stroke="#fbe9dc" stroke-width="3.4"/>
<path d="M235.9 182 C237.6 181.8 241.9 181.7 245.9 181 C249.9 180.3 254.3 179.2 260 178 C265.7 176.8 273.3 175.5 280 174 C286.7 172.5 293.7 170.8 300 169 C306.3 167.2 312.6 165.2 318 163.5 C323.4 161.8 327.7 158.7 332.3 158.8 C336.9 158.9 341.1 161.7 345.9 163.9 C350.7 166.2 356.9 169.5 361.1 172.3 C365.3 175.1 368.5 178 371.3 180.8 C374.1 183.6 376.2 185.9 378 189.3 C379.8 192.7 381.3 196.3 382.3 201.1 C383.3 205.9 383.7 213.8 384 218 C384.3 222.2 384.2 224.7 384.2 226" fill="none" transform="translate(0 18.4)" stroke="#fbe6d8" stroke-width="3.4"/>
<path d="M235.9 182 C237.6 181.8 241.9 181.7 245.9 181 C249.9 180.3 254.3 179.2 260 178 C265.7 176.8 273.3 175.5 280 174 C286.7 172.5 293.7 170.8 300 169 C306.3 167.2 312.6 165.2 318 163.5 C323.4 161.8 327.7 158.7 332.3 158.8 C336.9 158.9 341.1 161.7 345.9 163.9 C350.7 166.2 356.9 169.5 361.1 172.3 C365.3 175.1 368.5 178 371.3 180.8 C374.1 183.6 376.2 185.9 378 189.3 C379.8 192.7 381.3 196.3 382.3 201.1 C383.3 205.9 383.7 213.8 384 218 C384.3 222.2 384.2 224.7 384.2 226" fill="none" transform="translate(0 16.7)" stroke="#fae3d5" stroke-width="3.4"/>
<path d="M235.9 182 C237.6 181.8 241.9 181.7 245.9 181 C249.9 180.3 254.3 179.2 260 178 C265.7 176.8 273.3 175.5 280 174 C286.7 172.5 293.7 170.8 300 169 C306.3 167.2 312.6 165.2 318 163.5 C323.4 161.8 327.7 158.7 332.3 158.8 C336.9 158.9 341.1 161.7 345.9 163.9 C350.7 166.2 356.9 169.5 361.1 172.3 C365.3 175.1 368.5 178 371.3 180.8 C374.1 183.6 376.2 185.9 378 189.3 C379.8 192.7 381.3 196.3 382.3 201.1 C383.3 205.9 383.7 213.8 384 218 C384.3 222.2 384.2 224.7 384.2 226" fill="none" transform="translate(0 15)" stroke="#f8decd" stroke-width="3.4"/>
<path d="M235.9 182 C237.6 181.8 241.9 181.7 245.9 181 C249.9 180.3 254.3 179.2 260 178 C265.7 176.8 273.3 175.5 280 174 C286.7 172.5 293.7 170.8 300 169 C306.3 167.2 312.6 165.2 318 163.5 C323.4 161.8 327.7 158.7 332.3 158.8 C336.9 158.9 341.1 161.7 345.9 163.9 C350.7 166.2 356.9 169.5 361.1 172.3 C365.3 175.1 368.5 178 371.3 180.8 C374.1 183.6 376.2 185.9 378 189.3 C379.8 192.7 381.3 196.3 382.3 201.1 C383.3 205.9 383.7 213.8 384 218 C384.3 222.2 384.2 224.7 384.2 226" fill="none" transform="translate(0 13.3)" stroke="#f6d8c4" stroke-width="3.4"/>
<path d="M235.9 182 C237.6 181.8 241.9 181.7 245.9 181 C249.9 180.3 254.3 179.2 260 178 C265.7 176.8 273.3 175.5 280 174 C286.7 172.5 293.7 170.8 300 169 C306.3 167.2 312.6 165.2 318 163.5 C323.4 161.8 327.7 158.7 332.3 158.8 C336.9 158.9 341.1 161.7 345.9 163.9 C350.7 166.2 356.9 169.5 361.1 172.3 C365.3 175.1 368.5 178 371.3 180.8 C374.1 183.6 376.2 185.9 378 189.3 C379.8 192.7 381.3 196.3 382.3 201.1 C383.3 205.9 383.7 213.8 384 218 C384.3 222.2 384.2 224.7 384.2 226" fill="none" transform="translate(0 11.6)" stroke="#f4d1bc" stroke-width="3.4"/>
<path d="M235.9 182 C237.6 181.8 241.9 181.7 245.9 181 C249.9 180.3 254.3 179.2 260 178 C265.7 176.8 273.3 175.5 280 174 C286.7 172.5 293.7 170.8 300 169 C306.3 167.2 312.6 165.2 318 163.5 C323.4 161.8 327.7 158.7 332.3 158.8 C336.9 158.9 341.1 161.7 345.9 163.9 C350.7 166.2 356.9 169.5 361.1 172.3 C365.3 175.1 368.5 178 371.3 180.8 C374.1 183.6 376.2 185.9 378 189.3 C379.8 192.7 381.3 196.3 382.3 201.1 C383.3 205.9 383.7 213.8 384 218 C384.3 222.2 384.2 224.7 384.2 226" fill="none" transform="translate(0 9.9)" stroke="#f1cbb3" stroke-width="3.4"/>
<path d="M235.9 182 C237.6 181.8 241.9 181.7 245.9 181 C249.9 180.3 254.3 179.2 260 178 C265.7 176.8 273.3 175.5 280 174 C286.7 172.5 293.7 170.8 300 169 C306.3 167.2 312.6 165.2 318 163.5 C323.4 161.8 327.7 158.7 332.3 158.8 C336.9 158.9 341.1 161.7 345.9 163.9 C350.7 166.2 356.9 169.5 361.1 172.3 C365.3 175.1 368.5 178 371.3 180.8 C374.1 183.6 376.2 185.9 378 189.3 C379.8 192.7 381.3 196.3 382.3 201.1 C383.3 205.9 383.7 213.8 384 218 C384.3 222.2 384.2 224.7 384.2 226" fill="none" transform="translate(0 8.2)" stroke="#edc3a9" stroke-width="3.4"/>
<path d="M235.9 182 C237.6 181.8 241.9 181.7 245.9 181 C249.9 180.3 254.3 179.2 260 178 C265.7 176.8 273.3 175.5 280 174 C286.7 172.5 293.7 170.8 300 169 C306.3 167.2 312.6 165.2 318 163.5 C323.4 161.8 327.7 158.7 332.3 158.8 C336.9 158.9 341.1 161.7 345.9 163.9 C350.7 166.2 356.9 169.5 361.1 172.3 C365.3 175.1 368.5 178 371.3 180.8 C374.1 183.6 376.2 185.9 378 189.3 C379.8 192.7 381.3 196.3 382.3 201.1 C383.3 205.9 383.7 213.8 384 218 C384.3 222.2 384.2 224.7 384.2 226" fill="none" transform="translate(0 6.5)" stroke="#e9bb9f" stroke-width="3.4"/>
<path d="M235.9 182 C237.6 181.8 241.9 181.7 245.9 181 C249.9 180.3 254.3 179.2 260 178 C265.7 176.8 273.3 175.5 280 174 C286.7 172.5 293.7 170.8 300 169 C306.3 167.2 312.6 165.2 318 163.5 C323.4 161.8 327.7 158.7 332.3 158.8 C336.9 158.9 341.1 161.7 345.9 163.9 C350.7 166.2 356.9 169.5 361.1 172.3 C365.3 175.1 368.5 178 371.3 180.8 C374.1 183.6 376.2 185.9 378 189.3 C379.8 192.7 381.3 196.3 382.3 201.1 C383.3 205.9 383.7 213.8 384 218 C384.3 222.2 384.2 224.7 384.2 226" fill="none" transform="translate(0 4.8)" stroke="#e4b394" stroke-width="3.4"/>
<path d="M235.9 182 C237.6 181.8 241.9 181.7 245.9 181 C249.9 180.3 254.3 179.2 260 178 C265.7 176.8 273.3 175.5 280 174 C286.7 172.5 293.7 170.8 300 169 C306.3 167.2 312.6 165.2 318 163.5 C323.4 161.8 327.7 158.7 332.3 158.8 C336.9 158.9 341.1 161.7 345.9 163.9 C350.7 166.2 356.9 169.5 361.1 172.3 C365.3 175.1 368.5 178 371.3 180.8 C374.1 183.6 376.2 185.9 378 189.3 C379.8 192.7 381.3 196.3 382.3 201.1 C383.3 205.9 383.7 213.8 384 218 C384.3 222.2 384.2 224.7 384.2 226" fill="none" transform="translate(0 3.1)" stroke="#dfab89" stroke-width="3.4"/>
<path d="M235.9 182 C237.6 181.8 241.9 181.7 245.9 181 C249.9 180.3 254.3 179.2 260 178 C265.7 176.8 273.3 175.5 280 174 C286.7 172.5 293.7 170.8 300 169 C306.3 167.2 312.6 165.2 318 163.5 C323.4 161.8 327.7 158.7 332.3 158.8 C336.9 158.9 341.1 161.7 345.9 163.9 C350.7 166.2 356.9 169.5 361.1 172.3 C365.3 175.1 368.5 178 371.3 180.8 C374.1 183.6 376.2 185.9 378 189.3 C379.8 192.7 381.3 196.3 382.3 201.1 C383.3 205.9 383.7 213.8 384 218 C384.3 222.2 384.2 224.7 384.2 226" fill="none" transform="translate(0 1.4)" stroke="#d9a37e" stroke-width="3.4"/>
<rect x="240" y="150" width="170" height="75" fill="url(#hp)" opacity="0.62" mask="url(#fade1)"/>
</g>
<path d="M332.3 158.8 C334.6 159.7 341.1 161.7 345.9 163.9 C350.7 166.2 356.9 169.5 361.1 172.3 C365.3 175.1 368.5 178 371.3 180.8 C374.1 183.6 376.2 185.9 378 189.3 C379.8 192.7 381.3 196.3 382.3 201.1 C383.3 205.9 383.7 213.8 384 218 C384.3 222.2 384.2 224.7 384.2 226" fill="none" stroke="#f7d5bf" stroke-width="1.2" opacity="0.8"/>
<path d="M265.2 112 C266.8 112 271.1 111.9 275 111.8 C278.9 111.7 286.1 111.5 288.9 111.2 C291.7 110.9 291.1 110.3 292 109.8 C292.9 109.3 293.4 109 294.4 108.3 C295.4 107.6 296.3 106 298.2 105.6 C300.1 105.2 302.6 105.7 305.9 106.1 C309.1 106.5 313.8 107.1 317.7 107.8 C321.6 108.5 326.3 109.2 329.6 110.3 C332.9 111.4 335.2 112.6 337.3 114.3 C339.4 116 340.8 117.8 342.1 120.4 C343.4 123 343.1 128.5 345.1 130.1 C347.1 131.7 350.9 130.2 354.2 129.8 C357.5 129.4 362.2 128.8 365.1 127.6 C368 126.4 370.1 124.8 371.7 122.8 C373.3 120.8 373.9 118.2 374.7 115.6 C375.5 113 374.7 108.2 376.3 107.1 C377.9 106 381.4 108 384.4 108.9 C387.4 109.8 391.5 111.3 394.1 112.5 C396.8 113.7 399.3 115.3 400.3 115.9 L400.3 135.5 L394.1 133.1 L384.4 130.1 L376.6 128.3 L372.3 132.5 L365.1 137.9 L354.2 141.6 L343.3 142.8 L337.3 134.9 L331.3 131.5 L317.7 127.2 L306 125.2 L298.2 124.7 L294 125.5 L288.9 127.2 L265.2 128.1 Z" fill="#d0cbc8"/>
<path d="M265.2 112 C266.8 112 271.1 111.9 275 111.8 C278.9 111.7 286.1 111.5 288.9 111.2 C291.7 110.9 291.1 110.3 292 109.8 C292.9 109.3 293.4 109 294.4 108.3 C295.4 107.6 296.3 106 298.2 105.6 C300.1 105.2 302.6 105.7 305.9 106.1 C309.1 106.5 313.8 107.1 317.7 107.8 C321.6 108.5 326.3 109.2 329.6 110.3 C332.9 111.4 335.2 112.6 337.3 114.3 C339.4 116 340.8 117.8 342.1 120.4 C343.4 123 343.1 128.5 345.1 130.1 C347.1 131.7 350.9 130.2 354.2 129.8 C357.5 129.4 362.2 128.8 365.1 127.6 C368 126.4 370.1 124.8 371.7 122.8 C373.3 120.8 373.9 118.2 374.7 115.6 C375.5 113 374.7 108.2 376.3 107.1 C377.9 106 381.4 108 384.4 108.9 C387.4 109.8 391.5 111.3 394.1 112.5 C396.8 113.7 399.3 115.3 400.3 115.9 L400.3 135.5 L394.1 133.1 L384.4 130.1 L376.6 128.3 L372.3 132.5 L365.1 137.9 L354.2 141.6 L343.3 142.8 L337.3 134.9 L331.3 131.5 L317.7 127.2 L306 125.2 L298.2 124.7 L294 125.5 L288.9 127.2 L265.2 128.1 Z" fill="url(#hv)" opacity="0.38"/>
<path d="M240.2 129.1 C244.4 128.9 257.1 128.4 265.2 128.1 C273.3 127.8 284.1 127.6 288.9 127.2 C293.7 126.8 292.4 125.9 294 125.5 C295.6 125.1 296.2 124.8 298.2 124.7 C300.2 124.7 302.8 124.8 306 125.2 C309.2 125.6 313.5 126.2 317.7 127.2 C321.9 128.2 328 130.2 331.3 131.5 C334.6 132.8 335.3 133 337.3 134.9 C339.3 136.8 340.5 141.7 343.3 142.8 C346.1 143.9 350.6 142.4 354.2 141.6 C357.8 140.8 362.1 139.4 365.1 137.9 C368.1 136.4 370.4 134.1 372.3 132.5 C374.2 130.9 374.6 128.7 376.6 128.3 C378.6 127.9 381.5 129.3 384.4 130.1 C387.3 130.9 391.5 132.2 394.1 133.1 C396.8 134 397.9 134.8 400.3 135.5 C402.7 136.2 407 137.2 408.3 137.5" fill="none" transform="translate(0 0)" stroke="#4a4340" stroke-width="0.8" opacity="0.9"/>
<path d="M240.2 129.1 C244.4 128.9 257.1 128.4 265.2 128.1 C273.3 127.8 284.1 127.6 288.9 127.2 C293.7 126.8 292.4 125.9 294 125.5 C295.6 125.1 296.2 124.8 298.2 124.7 C300.2 124.7 302.8 124.8 306 125.2 C309.2 125.6 313.5 126.2 317.7 127.2 C321.9 128.2 328 130.2 331.3 131.5 C334.6 132.8 335.3 133 337.3 134.9 C339.3 136.8 340.5 141.7 343.3 142.8 C346.1 143.9 350.6 142.4 354.2 141.6 C357.8 140.8 362.1 139.4 365.1 137.9 C368.1 136.4 370.4 134.1 372.3 132.5 C374.2 130.9 374.6 128.7 376.6 128.3 C378.6 127.9 381.5 129.3 384.4 130.1 C387.3 130.9 391.5 132.2 394.1 133.1 C396.8 134 397.9 134.8 400.3 135.5 C402.7 136.2 407 137.2 408.3 137.5" fill="none" transform="translate(0 3.8)" stroke="#4a4340" stroke-width="0.7" opacity="0.8"/>
<path d="M240.2 129.1 C244.4 128.9 257.1 128.4 265.2 128.1 C273.3 127.8 284.1 127.6 288.9 127.2 C293.7 126.8 292.4 125.9 294 125.5 C295.6 125.1 296.2 124.8 298.2 124.7 C300.2 124.7 302.8 124.8 306 125.2 C309.2 125.6 313.5 126.2 317.7 127.2 C321.9 128.2 328 130.2 331.3 131.5 C334.6 132.8 335.3 133 337.3 134.9 C339.3 136.8 340.5 141.7 343.3 142.8 C346.1 143.9 350.6 142.4 354.2 141.6 C357.8 140.8 362.1 139.4 365.1 137.9 C368.1 136.4 370.4 134.1 372.3 132.5 C374.2 130.9 374.6 128.7 376.6 128.3 C378.6 127.9 381.5 129.3 384.4 130.1 C387.3 130.9 391.5 132.2 394.1 133.1 C396.8 134 397.9 134.8 400.3 135.5 C402.7 136.2 407 137.2 408.3 137.5" fill="none" transform="translate(0 7.2)" stroke="#4a4340" stroke-width="0.6" opacity="0.6"/>
<path d="M240.2 129.1 C244.4 128.9 257.1 128.4 265.2 128.1 C273.3 127.8 284.1 127.6 288.9 127.2 C293.7 126.8 292.4 125.9 294 125.5 C295.6 125.1 296.2 124.8 298.2 124.7 C300.2 124.7 302.8 124.8 306 125.2 C309.2 125.6 313.5 126.2 317.7 127.2 C321.9 128.2 328 130.2 331.3 131.5 C334.6 132.8 335.3 133 337.3 134.9 C339.3 136.8 340.5 141.7 343.3 142.8 C346.1 143.9 350.6 142.4 354.2 141.6 C357.8 140.8 362.1 139.4 365.1 137.9 C368.1 136.4 370.4 134.1 372.3 132.5 C374.2 130.9 374.6 128.7 376.6 128.3 C378.6 127.9 381.5 129.3 384.4 130.1 C387.3 130.9 391.5 132.2 394.1 133.1 C396.8 134 397.9 134.8 400.3 135.5 C402.7 136.2 407 137.2 408.3 137.5" fill="none" transform="translate(0 10.2)" stroke="#4a4340" stroke-width="0.6" opacity="0.5"/>
<path d="M240.2 129.1 C244.4 128.9 257.1 128.4 265.2 128.1 C273.3 127.8 284.1 127.6 288.9 127.2 C293.7 126.8 292.4 125.9 294 125.5 C295.6 125.1 296.2 124.8 298.2 124.7 C300.2 124.7 302.8 124.8 306 125.2 C309.2 125.6 313.5 126.2 317.7 127.2 C321.9 128.2 328 130.2 331.3 131.5 C334.6 132.8 335.3 133 337.3 134.9 C339.3 136.8 340.5 141.7 343.3 142.8 C346.1 143.9 350.6 142.4 354.2 141.6 C357.8 140.8 362.1 139.4 365.1 137.9 C368.1 136.4 370.4 134.1 372.3 132.5 C374.2 130.9 374.6 128.7 376.6 128.3 C378.6 127.9 381.5 129.3 384.4 130.1 C387.3 130.9 391.5 132.2 394.1 133.1 C396.8 134 397.9 134.8 400.3 135.5 C402.7 136.2 407 137.2 408.3 137.5" fill="none" transform="translate(0 12.8)" stroke="#4a4340" stroke-width="0.5" opacity="0.4"/>
</g>
<path d="M265.2 112 C266.8 112 271.1 111.9 275 111.8 C278.9 111.7 286.1 111.5 288.9 111.2 C291.7 110.9 291.1 110.3 292 109.8 C292.9 109.3 293.4 109 294.4 108.3 C295.4 107.6 296.3 106 298.2 105.6 C300.1 105.2 302.6 105.7 305.9 106.1 C309.1 106.5 313.8 107.1 317.7 107.8 C321.6 108.5 326.3 109.2 329.6 110.3 C332.9 111.4 335.2 112.6 337.3 114.3 C339.4 116 340.8 117.8 342.1 120.4 C343.4 123 343.1 128.5 345.1 130.1 C347.1 131.7 350.9 130.2 354.2 129.8 C357.5 129.4 362.2 128.8 365.1 127.6 C368 126.4 370.1 124.8 371.7 122.8 C373.3 120.8 373.9 118.2 374.7 115.6 C375.5 113 374.7 108.2 376.3 107.1 C377.9 106 381.4 108 384.4 108.9 C387.4 109.8 391.5 111.3 394.1 112.5 C396.8 113.7 399.3 115.3 400.3 115.9" fill="none" stroke="#3c3836" stroke-width="0.9"/>
<line x1="265.2" y1="112" x2="265.2" y2="128.1" stroke="#6a625e" stroke-width="0.7"/>
<line x1="227.6" y1="229.1" x2="227.6" y2="125.6" stroke="#4d4d4d" stroke-width="0.6"/>
<line x1="227.6" y1="229.1" x2="371.3" y2="237" stroke="#4d4d4d" stroke-width="0.6"/>
<line x1="371.3" y1="237" x2="408.8" y2="210.3" stroke="#4d4d4d" stroke-width="0.6"/>
<line x1="227.6" y1="229.1" x2="223.8" y2="229.1" stroke="#4d4d4d" stroke-width="0.6"/>
<text x="219.2" y="232.1" font-size="8.3" text-anchor="end" fill="#4a4a4a"  >0</text>
<line x1="227.6" y1="206.6" x2="223.8" y2="206.6" stroke="#4d4d4d" stroke-width="0.6"/>
<text x="219.2" y="209.6" font-size="8.3" text-anchor="end" fill="#4a4a4a"  >5</text>
<line x1="227.6" y1="184.1" x2="223.8" y2="184.1" stroke="#4d4d4d" stroke-width="0.6"/>
<text x="219.2" y="187.1" font-size="8.3" text-anchor="end" fill="#4a4a4a"  >10</text>
<line x1="227.6" y1="161.6" x2="223.8" y2="161.6" stroke="#4d4d4d" stroke-width="0.6"/>
<text x="219.2" y="164.6" font-size="8.3" text-anchor="end" fill="#4a4a4a"  >15</text>
<line x1="227.6" y1="139.1" x2="223.8" y2="139.1" stroke="#4d4d4d" stroke-width="0.6"/>
<text x="219.2" y="142.1" font-size="8.3" text-anchor="end" fill="#4a4a4a"  >20</text>
<line x1="371.3" y1="237" x2="368.9" y2="238.7" stroke="#4d4d4d" stroke-width="0.6"/>
<text x="361.7" y="249" font-size="8.3" text-anchor="middle" fill="#4a4a4a"  >0</text>
<line x1="339.4" y1="235.2" x2="337" y2="236.9" stroke="#4d4d4d" stroke-width="0.6"/>
<text x="329.8" y="247.2" font-size="8.3" text-anchor="middle" fill="#4a4a4a"  >2</text>
<line x1="307.4" y1="233.5" x2="305" y2="235.2" stroke="#4d4d4d" stroke-width="0.6"/>
<text x="297.8" y="245.5" font-size="8.3" text-anchor="middle" fill="#4a4a4a"  >4</text>
<line x1="275.5" y1="231.7" x2="273.1" y2="233.4" stroke="#4d4d4d" stroke-width="0.6"/>
<text x="265.9" y="243.7" font-size="8.3" text-anchor="middle" fill="#4a4a4a"  >6</text>
<line x1="243.6" y1="230" x2="241.2" y2="231.7" stroke="#4d4d4d" stroke-width="0.6"/>
<text x="234" y="242" font-size="8.3" text-anchor="middle" fill="#4a4a4a"  >8</text>
<line x1="371.3" y1="237" x2="367.9" y2="237.8" stroke="#4d4d4d" stroke-width="0.6"/>
<text x="379.9" y="246" font-size="8.3" text-anchor="middle" fill="#4a4a4a"  >-1</text>
<line x1="380.7" y1="230.3" x2="377.3" y2="231.1" stroke="#4d4d4d" stroke-width="0.6"/>
<text x="389.3" y="239.3" font-size="8.3" text-anchor="middle" fill="#4a4a4a"  >0</text>
<line x1="390.1" y1="223.7" x2="386.7" y2="224.5" stroke="#4d4d4d" stroke-width="0.6"/>
<text x="398.7" y="232.6" font-size="8.3" text-anchor="middle" fill="#4a4a4a"  >1</text>
<text x="304.3" y="259" font-size="12.0" text-anchor="middle" class="m" fill="#222" textLength="24" lengthAdjust="spacing"><tspan font-style="italic">t</tspan> [h]</text>
<text x="200.8" y="178.6" font-size="12.0" text-anchor="middle" class="m" fill="#222" transform="rotate(-90 200.8 175)" textLength="88" lengthAdjust="spacing"><tspan font-style="italic">X</tspan>(<tspan font-style="italic">z</tspan>, <tspan font-style="italic">t</tspan>) [kg/m<tspan font-size="70%" dy="-4">3</tspan><tspan dy="4">&#8203;</tspan>]</text>
</g>
<rect x="401" y="88" width="265" height="180" fill="#fff"/>
<clipPath id="c2"><rect x="401" y="85" width="269" height="190"/></clipPath>
<g clip-path="url(#c2)">
<line x1="433.5" y1="229.1" x2="471" y2="202.4" stroke="#e2e2e2" stroke-width="0.5"/>
<line x1="433.5" y1="206.6" x2="471" y2="179.9" stroke="#e2e2e2" stroke-width="0.5"/>
<line x1="433.5" y1="184.1" x2="471" y2="157.4" stroke="#e2e2e2" stroke-width="0.5"/>
<line x1="433.5" y1="161.6" x2="471" y2="134.9" stroke="#e2e2e2" stroke-width="0.5"/>
<line x1="433.5" y1="139.1" x2="471" y2="112.4" stroke="#e2e2e2" stroke-width="0.5"/>
<line x1="442.9" y1="222.4" x2="442.9" y2="118.9" stroke="#e2e2e2" stroke-width="0.5"/>
<line x1="452.2" y1="215.7" x2="452.2" y2="112.2" stroke="#e2e2e2" stroke-width="0.5"/>
<line x1="461.6" y1="209.1" x2="461.6" y2="105.6" stroke="#e2e2e2" stroke-width="0.5"/>
<line x1="471" y1="202.4" x2="471" y2="98.9" stroke="#e2e2e2" stroke-width="0.5"/>
<line x1="471" y1="202.4" x2="614.7" y2="210.3" stroke="#e2e2e2" stroke-width="0.5"/>
<line x1="471" y1="179.9" x2="614.7" y2="187.8" stroke="#e2e2e2" stroke-width="0.5"/>
<line x1="471" y1="157.4" x2="614.7" y2="165.3" stroke="#e2e2e2" stroke-width="0.5"/>
<line x1="471" y1="134.9" x2="614.7" y2="142.8" stroke="#e2e2e2" stroke-width="0.5"/>
<line x1="471" y1="112.4" x2="614.7" y2="120.3" stroke="#e2e2e2" stroke-width="0.5"/>
<line x1="614.7" y1="210.3" x2="614.7" y2="106.8" stroke="#e2e2e2" stroke-width="0.5"/>
<line x1="582.8" y1="208.5" x2="582.8" y2="105" stroke="#e2e2e2" stroke-width="0.5"/>
<line x1="550.8" y1="206.8" x2="550.8" y2="103.3" stroke="#e2e2e2" stroke-width="0.5"/>
<line x1="518.9" y1="205" x2="518.9" y2="101.5" stroke="#e2e2e2" stroke-width="0.5"/>
<line x1="487" y1="203.3" x2="487" y2="99.8" stroke="#e2e2e2" stroke-width="0.5"/>
<line x1="577.2" y1="237" x2="614.7" y2="210.3" stroke="#e2e2e2" stroke-width="0.5"/>
<line x1="545.3" y1="235.2" x2="582.8" y2="208.5" stroke="#e2e2e2" stroke-width="0.5"/>
<line x1="513.3" y1="233.5" x2="550.8" y2="206.8" stroke="#e2e2e2" stroke-width="0.5"/>
<line x1="481.4" y1="231.7" x2="518.9" y2="205" stroke="#e2e2e2" stroke-width="0.5"/>
<line x1="449.5" y1="230" x2="487" y2="203.3" stroke="#e2e2e2" stroke-width="0.5"/>
<line x1="586.6" y1="230.3" x2="442.9" y2="222.4" stroke="#e2e2e2" stroke-width="0.5"/>
<line x1="596" y1="223.7" x2="452.2" y2="215.7" stroke="#e2e2e2" stroke-width="0.5"/>
<line x1="605.3" y1="217" x2="461.6" y2="209.1" stroke="#e2e2e2" stroke-width="0.5"/>
<polygon points="433.5,229.1 577.2,237 590.8,227.3 589.9,224.8 577.2,219.7 563.6,216.3 546.7,213 537.4,209.6 451.8,211 443.3,222.1" fill="#FDCA8C" stroke="none" stroke-width="0" />
<polygon points="442.4,220.4 522.2,225 522.2,227.6 442.4,223" fill="#FFE6C6" stroke="none" stroke-width="0" />
<polygon points="442.4,220.4 522.2,225 537.4,209.6 451.8,211" fill="#FCC88A" stroke="none" stroke-width="0" />
<clipPath id="b2"><path d="M471.1 140.7 L488 141 L496.5 142.4 L501.6 140.4 L505.8 139.1 L519.3 139.5 L534.8 141.4 L544.5 145.3 L549.3 151.1 L551.3 154 L563.8 153 L575.5 150.1 L580.3 146.3 L583.2 137.6 L592.9 138.5 L604.5 142.4 L610.3 149.2 L614.1 167.5 L614.1 167.5 L614.1 168.5 L589.9 224.8 L589.9 224.8 L577.2 219.7 L563.6 216.3 L546.7 213 L537.4 209.6 L451.8 211 L451.9 211 L451.9 196 L452.4 191 L455 184.7 L459.3 176.3 L464.3 169.5 L468.6 162.7 L471.1 153.4 Z"/></clipPath>
<clipPath id="pzc2"><path d="M451.9 189 C454.6 188.5 461.4 187.1 467.9 186 C474.4 184.9 483.7 183.7 490.9 182.5 C498.1 181.3 504.7 180.1 510.9 179 C517.1 177.9 523.3 176.8 527.9 176 C532.5 175.2 533.7 173.6 538.7 174.3 C543.7 175 551.5 177.2 558 180.1 C564.5 183 572.5 187.8 577.4 191.7 C582.2 195.6 584.9 199.4 587.1 203.3 C589.4 207.2 590.2 211.2 590.9 215 C591.6 218.8 591.1 224.2 591.1 226 L589.9 224.8 L577.2 219.7 L563.6 216.3 L546.7 213 L537.4 209.6 L451.8 211 Z"/></clipPath>
<g clip-path="url(#b2)">
<rect x="445.9" y="95" width="200" height="140" fill="#dba57c"/>
<path d="M446.1 154.4 C450.3 154.2 464.1 153.6 471.1 153.4 C478.1 153.2 482.8 153.5 487.9 153.2 C493 152.9 496.4 151.7 501.6 151.7 C506.8 151.7 513.8 152.3 519.3 153 C524.8 153.7 530.3 154.5 534.8 155.9 C539.3 157.3 543.6 160.2 546.4 161.7 C549.1 163.1 548.4 164.4 551.3 164.6 C554.2 164.8 559.8 163.7 563.8 162.7 C567.8 161.7 572.3 160.6 575.5 158.8 C578.7 157 580.3 152.9 583.2 152.1 C586.1 151.3 589.4 153 592.9 154 C596.4 155 601.3 156.1 604.5 157.9 C607.7 159.7 610.6 162.8 612.2 164.6 C613.8 166.4 612.5 167.5 614.1 168.5 C615.8 169.5 620.8 170.2 622.1 170.5" fill="none" transform="translate(0 98.6)" stroke="#daa47b" stroke-width="3.4"/>
<path d="M446.1 154.4 C450.3 154.2 464.1 153.6 471.1 153.4 C478.1 153.2 482.8 153.5 487.9 153.2 C493 152.9 496.4 151.7 501.6 151.7 C506.8 151.7 513.8 152.3 519.3 153 C524.8 153.7 530.3 154.5 534.8 155.9 C539.3 157.3 543.6 160.2 546.4 161.7 C549.1 163.1 548.4 164.4 551.3 164.6 C554.2 164.8 559.8 163.7 563.8 162.7 C567.8 161.7 572.3 160.6 575.5 158.8 C578.7 157 580.3 152.9 583.2 152.1 C586.1 151.3 589.4 153 592.9 154 C596.4 155 601.3 156.1 604.5 157.9 C607.7 159.7 610.6 162.8 612.2 164.6 C613.8 166.4 612.5 167.5 614.1 168.5 C615.8 169.5 620.8 170.2 622.1 170.5" fill="none" transform="translate(0 96.9)" stroke="#d9a37b" stroke-width="3.4"/>
<path d="M446.1 154.4 C450.3 154.2 464.1 153.6 471.1 153.4 C478.1 153.2 482.8 153.5 487.9 153.2 C493 152.9 496.4 151.7 501.6 151.7 C506.8 151.7 513.8 152.3 519.3 153 C524.8 153.7 530.3 154.5 534.8 155.9 C539.3 157.3 543.6 160.2 546.4 161.7 C549.1 163.1 548.4 164.4 551.3 164.6 C554.2 164.8 559.8 163.7 563.8 162.7 C567.8 161.7 572.3 160.6 575.5 158.8 C578.7 157 580.3 152.9 583.2 152.1 C586.1 151.3 589.4 153 592.9 154 C596.4 155 601.3 156.1 604.5 157.9 C607.7 159.7 610.6 162.8 612.2 164.6 C613.8 166.4 612.5 167.5 614.1 168.5 C615.8 169.5 620.8 170.2 622.1 170.5" fill="none" transform="translate(0 95.2)" stroke="#d9a27a" stroke-width="3.4"/>
<path d="M446.1 154.4 C450.3 154.2 464.1 153.6 471.1 153.4 C478.1 153.2 482.8 153.5 487.9 153.2 C493 152.9 496.4 151.7 501.6 151.7 C506.8 151.7 513.8 152.3 519.3 153 C524.8 153.7 530.3 154.5 534.8 155.9 C539.3 157.3 543.6 160.2 546.4 161.7 C549.1 163.1 548.4 164.4 551.3 164.6 C554.2 164.8 559.8 163.7 563.8 162.7 C567.8 161.7 572.3 160.6 575.5 158.8 C578.7 157 580.3 152.9 583.2 152.1 C586.1 151.3 589.4 153 592.9 154 C596.4 155 601.3 156.1 604.5 157.9 C607.7 159.7 610.6 162.8 612.2 164.6 C613.8 166.4 612.5 167.5 614.1 168.5 C615.8 169.5 620.8 170.2 622.1 170.5" fill="none" transform="translate(0 93.5)" stroke="#d8a279" stroke-width="3.4"/>
<path d="M446.1 154.4 C450.3 154.2 464.1 153.6 471.1 153.4 C478.1 153.2 482.8 153.5 487.9 153.2 C493 152.9 496.4 151.7 501.6 151.7 C506.8 151.7 513.8 152.3 519.3 153 C524.8 153.7 530.3 154.5 534.8 155.9 C539.3 157.3 543.6 160.2 546.4 161.7 C549.1 163.1 548.4 164.4 551.3 164.6 C554.2 164.8 559.8 163.7 563.8 162.7 C567.8 161.7 572.3 160.6 575.5 158.8 C578.7 157 580.3 152.9 583.2 152.1 C586.1 151.3 589.4 153 592.9 154 C596.4 155 601.3 156.1 604.5 157.9 C607.7 159.7 610.6 162.8 612.2 164.6 C613.8 166.4 612.5 167.5 614.1 168.5 C615.8 169.5 620.8 170.2 622.1 170.5" fill="none" transform="translate(0 91.8)" stroke="#d7a178" stroke-width="3.4"/>
<path d="M446.1 154.4 C450.3 154.2 464.1 153.6 471.1 153.4 C478.1 153.2 482.8 153.5 487.9 153.2 C493 152.9 496.4 151.7 501.6 151.7 C506.8 151.7 513.8 152.3 519.3 153 C524.8 153.7 530.3 154.5 534.8 155.9 C539.3 157.3 543.6 160.2 546.4 161.7 C549.1 163.1 548.4 164.4 551.3 164.6 C554.2 164.8 559.8 163.7 563.8 162.7 C567.8 161.7 572.3 160.6 575.5 158.8 C578.7 157 580.3 152.9 583.2 152.1 C586.1 151.3 589.4 153 592.9 154 C596.4 155 601.3 156.1 604.5 157.9 C607.7 159.7 610.6 162.8 612.2 164.6 C613.8 166.4 612.5 167.5 614.1 168.5 C615.8 169.5 620.8 170.2 622.1 170.5" fill="none" transform="translate(0 90.1)" stroke="#d6a078" stroke-width="3.4"/>
<path d="M446.1 154.4 C450.3 154.2 464.1 153.6 471.1 153.4 C478.1 153.2 482.8 153.5 487.9 153.2 C493 152.9 496.4 151.7 501.6 151.7 C506.8 151.7 513.8 152.3 519.3 153 C524.8 153.7 530.3 154.5 534.8 155.9 C539.3 157.3 543.6 160.2 546.4 161.7 C549.1 163.1 548.4 164.4 551.3 164.6 C554.2 164.8 559.8 163.7 563.8 162.7 C567.8 161.7 572.3 160.6 575.5 158.8 C578.7 157 580.3 152.9 583.2 152.1 C586.1 151.3 589.4 153 592.9 154 C596.4 155 601.3 156.1 604.5 157.9 C607.7 159.7 610.6 162.8 612.2 164.6 C613.8 166.4 612.5 167.5 614.1 168.5 C615.8 169.5 620.8 170.2 622.1 170.5" fill="none" transform="translate(0 88.4)" stroke="#d59f77" stroke-width="3.4"/>
<path d="M446.1 154.4 C450.3 154.2 464.1 153.6 471.1 153.4 C478.1 153.2 482.8 153.5 487.9 153.2 C493 152.9 496.4 151.7 501.6 151.7 C506.8 151.7 513.8 152.3 519.3 153 C524.8 153.7 530.3 154.5 534.8 155.9 C539.3 157.3 543.6 160.2 546.4 161.7 C549.1 163.1 548.4 164.4 551.3 164.6 C554.2 164.8 559.8 163.7 563.8 162.7 C567.8 161.7 572.3 160.6 575.5 158.8 C578.7 157 580.3 152.9 583.2 152.1 C586.1 151.3 589.4 153 592.9 154 C596.4 155 601.3 156.1 604.5 157.9 C607.7 159.7 610.6 162.8 612.2 164.6 C613.8 166.4 612.5 167.5 614.1 168.5 C615.8 169.5 620.8 170.2 622.1 170.5" fill="none" transform="translate(0 86.7)" stroke="#d49e76" stroke-width="3.4"/>
<path d="M446.1 154.4 C450.3 154.2 464.1 153.6 471.1 153.4 C478.1 153.2 482.8 153.5 487.9 153.2 C493 152.9 496.4 151.7 501.6 151.7 C506.8 151.7 513.8 152.3 519.3 153 C524.8 153.7 530.3 154.5 534.8 155.9 C539.3 157.3 543.6 160.2 546.4 161.7 C549.1 163.1 548.4 164.4 551.3 164.6 C554.2 164.8 559.8 163.7 563.8 162.7 C567.8 161.7 572.3 160.6 575.5 158.8 C578.7 157 580.3 152.9 583.2 152.1 C586.1 151.3 589.4 153 592.9 154 C596.4 155 601.3 156.1 604.5 157.9 C607.7 159.7 610.6 162.8 612.2 164.6 C613.8 166.4 612.5 167.5 614.1 168.5 C615.8 169.5 620.8 170.2 622.1 170.5" fill="none" transform="translate(0 85)" stroke="#d49d76" stroke-width="3.4"/>
<path d="M446.1 154.4 C450.3 154.2 464.1 153.6 471.1 153.4 C478.1 153.2 482.8 153.5 487.9 153.2 C493 152.9 496.4 151.7 501.6 151.7 C506.8 151.7 513.8 152.3 519.3 153 C524.8 153.7 530.3 154.5 534.8 155.9 C539.3 157.3 543.6 160.2 546.4 161.7 C549.1 163.1 548.4 164.4 551.3 164.6 C554.2 164.8 559.8 163.7 563.8 162.7 C567.8 161.7 572.3 160.6 575.5 158.8 C578.7 157 580.3 152.9 583.2 152.1 C586.1 151.3 589.4 153 592.9 154 C596.4 155 601.3 156.1 604.5 157.9 C607.7 159.7 610.6 162.8 612.2 164.6 C613.8 166.4 612.5 167.5 614.1 168.5 C615.8 169.5 620.8 170.2 622.1 170.5" fill="none" transform="translate(0 83.3)" stroke="#d39c75" stroke-width="3.4"/>
<path d="M446.1 154.4 C450.3 154.2 464.1 153.6 471.1 153.4 C478.1 153.2 482.8 153.5 487.9 153.2 C493 152.9 496.4 151.7 501.6 151.7 C506.8 151.7 513.8 152.3 519.3 153 C524.8 153.7 530.3 154.5 534.8 155.9 C539.3 157.3 543.6 160.2 546.4 161.7 C549.1 163.1 548.4 164.4 551.3 164.6 C554.2 164.8 559.8 163.7 563.8 162.7 C567.8 161.7 572.3 160.6 575.5 158.8 C578.7 157 580.3 152.9 583.2 152.1 C586.1 151.3 589.4 153 592.9 154 C596.4 155 601.3 156.1 604.5 157.9 C607.7 159.7 610.6 162.8 612.2 164.6 C613.8 166.4 612.5 167.5 614.1 168.5 C615.8 169.5 620.8 170.2 622.1 170.5" fill="none" transform="translate(0 81.6)" stroke="#d29b74" stroke-width="3.4"/>
<path d="M446.1 154.4 C450.3 154.2 464.1 153.6 471.1 153.4 C478.1 153.2 482.8 153.5 487.9 153.2 C493 152.9 496.4 151.7 501.6 151.7 C506.8 151.7 513.8 152.3 519.3 153 C524.8 153.7 530.3 154.5 534.8 155.9 C539.3 157.3 543.6 160.2 546.4 161.7 C549.1 163.1 548.4 164.4 551.3 164.6 C554.2 164.8 559.8 163.7 563.8 162.7 C567.8 161.7 572.3 160.6 575.5 158.8 C578.7 157 580.3 152.9 583.2 152.1 C586.1 151.3 589.4 153 592.9 154 C596.4 155 601.3 156.1 604.5 157.9 C607.7 159.7 610.6 162.8 612.2 164.6 C613.8 166.4 612.5 167.5 614.1 168.5 C615.8 169.5 620.8 170.2 622.1 170.5" fill="none" transform="translate(0 79.9)" stroke="#d19a73" stroke-width="3.4"/>
<path d="M446.1 154.4 C450.3 154.2 464.1 153.6 471.1 153.4 C478.1 153.2 482.8 153.5 487.9 153.2 C493 152.9 496.4 151.7 501.6 151.7 C506.8 151.7 513.8 152.3 519.3 153 C524.8 153.7 530.3 154.5 534.8 155.9 C539.3 157.3 543.6 160.2 546.4 161.7 C549.1 163.1 548.4 164.4 551.3 164.6 C554.2 164.8 559.8 163.7 563.8 162.7 C567.8 161.7 572.3 160.6 575.5 158.8 C578.7 157 580.3 152.9 583.2 152.1 C586.1 151.3 589.4 153 592.9 154 C596.4 155 601.3 156.1 604.5 157.9 C607.7 159.7 610.6 162.8 612.2 164.6 C613.8 166.4 612.5 167.5 614.1 168.5 C615.8 169.5 620.8 170.2 622.1 170.5" fill="none" transform="translate(0 78.2)" stroke="#d09973" stroke-width="3.4"/>
<path d="M446.1 154.4 C450.3 154.2 464.1 153.6 471.1 153.4 C478.1 153.2 482.8 153.5 487.9 153.2 C493 152.9 496.4 151.7 501.6 151.7 C506.8 151.7 513.8 152.3 519.3 153 C524.8 153.7 530.3 154.5 534.8 155.9 C539.3 157.3 543.6 160.2 546.4 161.7 C549.1 163.1 548.4 164.4 551.3 164.6 C554.2 164.8 559.8 163.7 563.8 162.7 C567.8 161.7 572.3 160.6 575.5 158.8 C578.7 157 580.3 152.9 583.2 152.1 C586.1 151.3 589.4 153 592.9 154 C596.4 155 601.3 156.1 604.5 157.9 C607.7 159.7 610.6 162.8 612.2 164.6 C613.8 166.4 612.5 167.5 614.1 168.5 C615.8 169.5 620.8 170.2 622.1 170.5" fill="none" transform="translate(0 76.5)" stroke="#cf9872" stroke-width="3.4"/>
<path d="M446.1 154.4 C450.3 154.2 464.1 153.6 471.1 153.4 C478.1 153.2 482.8 153.5 487.9 153.2 C493 152.9 496.4 151.7 501.6 151.7 C506.8 151.7 513.8 152.3 519.3 153 C524.8 153.7 530.3 154.5 534.8 155.9 C539.3 157.3 543.6 160.2 546.4 161.7 C549.1 163.1 548.4 164.4 551.3 164.6 C554.2 164.8 559.8 163.7 563.8 162.7 C567.8 161.7 572.3 160.6 575.5 158.8 C578.7 157 580.3 152.9 583.2 152.1 C586.1 151.3 589.4 153 592.9 154 C596.4 155 601.3 156.1 604.5 157.9 C607.7 159.7 610.6 162.8 612.2 164.6 C613.8 166.4 612.5 167.5 614.1 168.5 C615.8 169.5 620.8 170.2 622.1 170.5" fill="none" transform="translate(0 74.8)" stroke="#ce9871" stroke-width="3.4"/>
<path d="M446.1 154.4 C450.3 154.2 464.1 153.6 471.1 153.4 C478.1 153.2 482.8 153.5 487.9 153.2 C493 152.9 496.4 151.7 501.6 151.7 C506.8 151.7 513.8 152.3 519.3 153 C524.8 153.7 530.3 154.5 534.8 155.9 C539.3 157.3 543.6 160.2 546.4 161.7 C549.1 163.1 548.4 164.4 551.3 164.6 C554.2 164.8 559.8 163.7 563.8 162.7 C567.8 161.7 572.3 160.6 575.5 158.8 C578.7 157 580.3 152.9 583.2 152.1 C586.1 151.3 589.4 153 592.9 154 C596.4 155 601.3 156.1 604.5 157.9 C607.7 159.7 610.6 162.8 612.2 164.6 C613.8 166.4 612.5 167.5 614.1 168.5 C615.8 169.5 620.8 170.2 622.1 170.5" fill="none" transform="translate(0 73.1)" stroke="#ce9770" stroke-width="3.4"/>
<path d="M446.1 154.4 C450.3 154.2 464.1 153.6 471.1 153.4 C478.1 153.2 482.8 153.5 487.9 153.2 C493 152.9 496.4 151.7 501.6 151.7 C506.8 151.7 513.8 152.3 519.3 153 C524.8 153.7 530.3 154.5 534.8 155.9 C539.3 157.3 543.6 160.2 546.4 161.7 C549.1 163.1 548.4 164.4 551.3 164.6 C554.2 164.8 559.8 163.7 563.8 162.7 C567.8 161.7 572.3 160.6 575.5 158.8 C578.7 157 580.3 152.9 583.2 152.1 C586.1 151.3 589.4 153 592.9 154 C596.4 155 601.3 156.1 604.5 157.9 C607.7 159.7 610.6 162.8 612.2 164.6 C613.8 166.4 612.5 167.5 614.1 168.5 C615.8 169.5 620.8 170.2 622.1 170.5" fill="none" transform="translate(0 71.4)" stroke="#cd9670" stroke-width="3.4"/>
<path d="M446.1 154.4 C450.3 154.2 464.1 153.6 471.1 153.4 C478.1 153.2 482.8 153.5 487.9 153.2 C493 152.9 496.4 151.7 501.6 151.7 C506.8 151.7 513.8 152.3 519.3 153 C524.8 153.7 530.3 154.5 534.8 155.9 C539.3 157.3 543.6 160.2 546.4 161.7 C549.1 163.1 548.4 164.4 551.3 164.6 C554.2 164.8 559.8 163.7 563.8 162.7 C567.8 161.7 572.3 160.6 575.5 158.8 C578.7 157 580.3 152.9 583.2 152.1 C586.1 151.3 589.4 153 592.9 154 C596.4 155 601.3 156.1 604.5 157.9 C607.7 159.7 610.6 162.8 612.2 164.6 C613.8 166.4 612.5 167.5 614.1 168.5 C615.8 169.5 620.8 170.2 622.1 170.5" fill="none" transform="translate(0 69.7)" stroke="#ce9771" stroke-width="3.4"/>
<path d="M446.1 154.4 C450.3 154.2 464.1 153.6 471.1 153.4 C478.1 153.2 482.8 153.5 487.9 153.2 C493 152.9 496.4 151.7 501.6 151.7 C506.8 151.7 513.8 152.3 519.3 153 C524.8 153.7 530.3 154.5 534.8 155.9 C539.3 157.3 543.6 160.2 546.4 161.7 C549.1 163.1 548.4 164.4 551.3 164.6 C554.2 164.8 559.8 163.7 563.8 162.7 C567.8 161.7 572.3 160.6 575.5 158.8 C578.7 157 580.3 152.9 583.2 152.1 C586.1 151.3 589.4 153 592.9 154 C596.4 155 601.3 156.1 604.5 157.9 C607.7 159.7 610.6 162.8 612.2 164.6 C613.8 166.4 612.5 167.5 614.1 168.5 C615.8 169.5 620.8 170.2 622.1 170.5" fill="none" transform="translate(0 68)" stroke="#ce9772" stroke-width="3.4"/>
<path d="M446.1 154.4 C450.3 154.2 464.1 153.6 471.1 153.4 C478.1 153.2 482.8 153.5 487.9 153.2 C493 152.9 496.4 151.7 501.6 151.7 C506.8 151.7 513.8 152.3 519.3 153 C524.8 153.7 530.3 154.5 534.8 155.9 C539.3 157.3 543.6 160.2 546.4 161.7 C549.1 163.1 548.4 164.4 551.3 164.6 C554.2 164.8 559.8 163.7 563.8 162.7 C567.8 161.7 572.3 160.6 575.5 158.8 C578.7 157 580.3 152.9 583.2 152.1 C586.1 151.3 589.4 153 592.9 154 C596.4 155 601.3 156.1 604.5 157.9 C607.7 159.7 610.6 162.8 612.2 164.6 C613.8 166.4 612.5 167.5 614.1 168.5 C615.8 169.5 620.8 170.2 622.1 170.5" fill="none" transform="translate(0 66.3)" stroke="#cf9872" stroke-width="3.4"/>
<path d="M446.1 154.4 C450.3 154.2 464.1 153.6 471.1 153.4 C478.1 153.2 482.8 153.5 487.9 153.2 C493 152.9 496.4 151.7 501.6 151.7 C506.8 151.7 513.8 152.3 519.3 153 C524.8 153.7 530.3 154.5 534.8 155.9 C539.3 157.3 543.6 160.2 546.4 161.7 C549.1 163.1 548.4 164.4 551.3 164.6 C554.2 164.8 559.8 163.7 563.8 162.7 C567.8 161.7 572.3 160.6 575.5 158.8 C578.7 157 580.3 152.9 583.2 152.1 C586.1 151.3 589.4 153 592.9 154 C596.4 155 601.3 156.1 604.5 157.9 C607.7 159.7 610.6 162.8 612.2 164.6 C613.8 166.4 612.5 167.5 614.1 168.5 C615.8 169.5 620.8 170.2 622.1 170.5" fill="none" transform="translate(0 64.6)" stroke="#cf9873" stroke-width="3.4"/>
<path d="M446.1 154.4 C450.3 154.2 464.1 153.6 471.1 153.4 C478.1 153.2 482.8 153.5 487.9 153.2 C493 152.9 496.4 151.7 501.6 151.7 C506.8 151.7 513.8 152.3 519.3 153 C524.8 153.7 530.3 154.5 534.8 155.9 C539.3 157.3 543.6 160.2 546.4 161.7 C549.1 163.1 548.4 164.4 551.3 164.6 C554.2 164.8 559.8 163.7 563.8 162.7 C567.8 161.7 572.3 160.6 575.5 158.8 C578.7 157 580.3 152.9 583.2 152.1 C586.1 151.3 589.4 153 592.9 154 C596.4 155 601.3 156.1 604.5 157.9 C607.7 159.7 610.6 162.8 612.2 164.6 C613.8 166.4 612.5 167.5 614.1 168.5 C615.8 169.5 620.8 170.2 622.1 170.5" fill="none" transform="translate(0 62.9)" stroke="#d09973" stroke-width="3.4"/>
<path d="M446.1 154.4 C450.3 154.2 464.1 153.6 471.1 153.4 C478.1 153.2 482.8 153.5 487.9 153.2 C493 152.9 496.4 151.7 501.6 151.7 C506.8 151.7 513.8 152.3 519.3 153 C524.8 153.7 530.3 154.5 534.8 155.9 C539.3 157.3 543.6 160.2 546.4 161.7 C549.1 163.1 548.4 164.4 551.3 164.6 C554.2 164.8 559.8 163.7 563.8 162.7 C567.8 161.7 572.3 160.6 575.5 158.8 C578.7 157 580.3 152.9 583.2 152.1 C586.1 151.3 589.4 153 592.9 154 C596.4 155 601.3 156.1 604.5 157.9 C607.7 159.7 610.6 162.8 612.2 164.6 C613.8 166.4 612.5 167.5 614.1 168.5 C615.8 169.5 620.8 170.2 622.1 170.5" fill="none" transform="translate(0 61.2)" stroke="#d09974" stroke-width="3.4"/>
<path d="M446.1 154.4 C450.3 154.2 464.1 153.6 471.1 153.4 C478.1 153.2 482.8 153.5 487.9 153.2 C493 152.9 496.4 151.7 501.6 151.7 C506.8 151.7 513.8 152.3 519.3 153 C524.8 153.7 530.3 154.5 534.8 155.9 C539.3 157.3 543.6 160.2 546.4 161.7 C549.1 163.1 548.4 164.4 551.3 164.6 C554.2 164.8 559.8 163.7 563.8 162.7 C567.8 161.7 572.3 160.6 575.5 158.8 C578.7 157 580.3 152.9 583.2 152.1 C586.1 151.3 589.4 153 592.9 154 C596.4 155 601.3 156.1 604.5 157.9 C607.7 159.7 610.6 162.8 612.2 164.6 C613.8 166.4 612.5 167.5 614.1 168.5 C615.8 169.5 620.8 170.2 622.1 170.5" fill="none" transform="translate(0 59.5)" stroke="#d19a75" stroke-width="3.4"/>
<path d="M446.1 154.4 C450.3 154.2 464.1 153.6 471.1 153.4 C478.1 153.2 482.8 153.5 487.9 153.2 C493 152.9 496.4 151.7 501.6 151.7 C506.8 151.7 513.8 152.3 519.3 153 C524.8 153.7 530.3 154.5 534.8 155.9 C539.3 157.3 543.6 160.2 546.4 161.7 C549.1 163.1 548.4 164.4 551.3 164.6 C554.2 164.8 559.8 163.7 563.8 162.7 C567.8 161.7 572.3 160.6 575.5 158.8 C578.7 157 580.3 152.9 583.2 152.1 C586.1 151.3 589.4 153 592.9 154 C596.4 155 601.3 156.1 604.5 157.9 C607.7 159.7 610.6 162.8 612.2 164.6 C613.8 166.4 612.5 167.5 614.1 168.5 C615.8 169.5 620.8 170.2 622.1 170.5" fill="none" transform="translate(0 57.8)" stroke="#d19a75" stroke-width="3.4"/>
<path d="M446.1 154.4 C450.3 154.2 464.1 153.6 471.1 153.4 C478.1 153.2 482.8 153.5 487.9 153.2 C493 152.9 496.4 151.7 501.6 151.7 C506.8 151.7 513.8 152.3 519.3 153 C524.8 153.7 530.3 154.5 534.8 155.9 C539.3 157.3 543.6 160.2 546.4 161.7 C549.1 163.1 548.4 164.4 551.3 164.6 C554.2 164.8 559.8 163.7 563.8 162.7 C567.8 161.7 572.3 160.6 575.5 158.8 C578.7 157 580.3 152.9 583.2 152.1 C586.1 151.3 589.4 153 592.9 154 C596.4 155 601.3 156.1 604.5 157.9 C607.7 159.7 610.6 162.8 612.2 164.6 C613.8 166.4 612.5 167.5 614.1 168.5 C615.8 169.5 620.8 170.2 622.1 170.5" fill="none" transform="translate(0 56.1)" stroke="#d29b76" stroke-width="3.4"/>
<path d="M446.1 154.4 C450.3 154.2 464.1 153.6 471.1 153.4 C478.1 153.2 482.8 153.5 487.9 153.2 C493 152.9 496.4 151.7 501.6 151.7 C506.8 151.7 513.8 152.3 519.3 153 C524.8 153.7 530.3 154.5 534.8 155.9 C539.3 157.3 543.6 160.2 546.4 161.7 C549.1 163.1 548.4 164.4 551.3 164.6 C554.2 164.8 559.8 163.7 563.8 162.7 C567.8 161.7 572.3 160.6 575.5 158.8 C578.7 157 580.3 152.9 583.2 152.1 C586.1 151.3 589.4 153 592.9 154 C596.4 155 601.3 156.1 604.5 157.9 C607.7 159.7 610.6 162.8 612.2 164.6 C613.8 166.4 612.5 167.5 614.1 168.5 C615.8 169.5 620.8 170.2 622.1 170.5" fill="none" transform="translate(0 54.4)" stroke="#d39c77" stroke-width="3.4"/>
<path d="M446.1 154.4 C450.3 154.2 464.1 153.6 471.1 153.4 C478.1 153.2 482.8 153.5 487.9 153.2 C493 152.9 496.4 151.7 501.6 151.7 C506.8 151.7 513.8 152.3 519.3 153 C524.8 153.7 530.3 154.5 534.8 155.9 C539.3 157.3 543.6 160.2 546.4 161.7 C549.1 163.1 548.4 164.4 551.3 164.6 C554.2 164.8 559.8 163.7 563.8 162.7 C567.8 161.7 572.3 160.6 575.5 158.8 C578.7 157 580.3 152.9 583.2 152.1 C586.1 151.3 589.4 153 592.9 154 C596.4 155 601.3 156.1 604.5 157.9 C607.7 159.7 610.6 162.8 612.2 164.6 C613.8 166.4 612.5 167.5 614.1 168.5 C615.8 169.5 620.8 170.2 622.1 170.5" fill="none" transform="translate(0 52.7)" stroke="#d49d78" stroke-width="3.4"/>
<path d="M446.1 154.4 C450.3 154.2 464.1 153.6 471.1 153.4 C478.1 153.2 482.8 153.5 487.9 153.2 C493 152.9 496.4 151.7 501.6 151.7 C506.8 151.7 513.8 152.3 519.3 153 C524.8 153.7 530.3 154.5 534.8 155.9 C539.3 157.3 543.6 160.2 546.4 161.7 C549.1 163.1 548.4 164.4 551.3 164.6 C554.2 164.8 559.8 163.7 563.8 162.7 C567.8 161.7 572.3 160.6 575.5 158.8 C578.7 157 580.3 152.9 583.2 152.1 C586.1 151.3 589.4 153 592.9 154 C596.4 155 601.3 156.1 604.5 157.9 C607.7 159.7 610.6 162.8 612.2 164.6 C613.8 166.4 612.5 167.5 614.1 168.5 C615.8 169.5 620.8 170.2 622.1 170.5" fill="none" transform="translate(0 51)" stroke="#d49e78" stroke-width="3.4"/>
<path d="M446.1 154.4 C450.3 154.2 464.1 153.6 471.1 153.4 C478.1 153.2 482.8 153.5 487.9 153.2 C493 152.9 496.4 151.7 501.6 151.7 C506.8 151.7 513.8 152.3 519.3 153 C524.8 153.7 530.3 154.5 534.8 155.9 C539.3 157.3 543.6 160.2 546.4 161.7 C549.1 163.1 548.4 164.4 551.3 164.6 C554.2 164.8 559.8 163.7 563.8 162.7 C567.8 161.7 572.3 160.6 575.5 158.8 C578.7 157 580.3 152.9 583.2 152.1 C586.1 151.3 589.4 153 592.9 154 C596.4 155 601.3 156.1 604.5 157.9 C607.7 159.7 610.6 162.8 612.2 164.6 C613.8 166.4 612.5 167.5 614.1 168.5 C615.8 169.5 620.8 170.2 622.1 170.5" fill="none" transform="translate(0 49.3)" stroke="#d59f79" stroke-width="3.4"/>
<path d="M446.1 154.4 C450.3 154.2 464.1 153.6 471.1 153.4 C478.1 153.2 482.8 153.5 487.9 153.2 C493 152.9 496.4 151.7 501.6 151.7 C506.8 151.7 513.8 152.3 519.3 153 C524.8 153.7 530.3 154.5 534.8 155.9 C539.3 157.3 543.6 160.2 546.4 161.7 C549.1 163.1 548.4 164.4 551.3 164.6 C554.2 164.8 559.8 163.7 563.8 162.7 C567.8 161.7 572.3 160.6 575.5 158.8 C578.7 157 580.3 152.9 583.2 152.1 C586.1 151.3 589.4 153 592.9 154 C596.4 155 601.3 156.1 604.5 157.9 C607.7 159.7 610.6 162.8 612.2 164.6 C613.8 166.4 612.5 167.5 614.1 168.5 C615.8 169.5 620.8 170.2 622.1 170.5" fill="none" transform="translate(0 47.6)" stroke="#d6a07a" stroke-width="3.4"/>
<path d="M446.1 154.4 C450.3 154.2 464.1 153.6 471.1 153.4 C478.1 153.2 482.8 153.5 487.9 153.2 C493 152.9 496.4 151.7 501.6 151.7 C506.8 151.7 513.8 152.3 519.3 153 C524.8 153.7 530.3 154.5 534.8 155.9 C539.3 157.3 543.6 160.2 546.4 161.7 C549.1 163.1 548.4 164.4 551.3 164.6 C554.2 164.8 559.8 163.7 563.8 162.7 C567.8 161.7 572.3 160.6 575.5 158.8 C578.7 157 580.3 152.9 583.2 152.1 C586.1 151.3 589.4 153 592.9 154 C596.4 155 601.3 156.1 604.5 157.9 C607.7 159.7 610.6 162.8 612.2 164.6 C613.8 166.4 612.5 167.5 614.1 168.5 C615.8 169.5 620.8 170.2 622.1 170.5" fill="none" transform="translate(0 45.9)" stroke="#d7a17b" stroke-width="3.4"/>
<path d="M446.1 154.4 C450.3 154.2 464.1 153.6 471.1 153.4 C478.1 153.2 482.8 153.5 487.9 153.2 C493 152.9 496.4 151.7 501.6 151.7 C506.8 151.7 513.8 152.3 519.3 153 C524.8 153.7 530.3 154.5 534.8 155.9 C539.3 157.3 543.6 160.2 546.4 161.7 C549.1 163.1 548.4 164.4 551.3 164.6 C554.2 164.8 559.8 163.7 563.8 162.7 C567.8 161.7 572.3 160.6 575.5 158.8 C578.7 157 580.3 152.9 583.2 152.1 C586.1 151.3 589.4 153 592.9 154 C596.4 155 601.3 156.1 604.5 157.9 C607.7 159.7 610.6 162.8 612.2 164.6 C613.8 166.4 612.5 167.5 614.1 168.5 C615.8 169.5 620.8 170.2 622.1 170.5" fill="none" transform="translate(0 44.2)" stroke="#d8a27c" stroke-width="3.4"/>
<path d="M446.1 154.4 C450.3 154.2 464.1 153.6 471.1 153.4 C478.1 153.2 482.8 153.5 487.9 153.2 C493 152.9 496.4 151.7 501.6 151.7 C506.8 151.7 513.8 152.3 519.3 153 C524.8 153.7 530.3 154.5 534.8 155.9 C539.3 157.3 543.6 160.2 546.4 161.7 C549.1 163.1 548.4 164.4 551.3 164.6 C554.2 164.8 559.8 163.7 563.8 162.7 C567.8 161.7 572.3 160.6 575.5 158.8 C578.7 157 580.3 152.9 583.2 152.1 C586.1 151.3 589.4 153 592.9 154 C596.4 155 601.3 156.1 604.5 157.9 C607.7 159.7 610.6 162.8 612.2 164.6 C613.8 166.4 612.5 167.5 614.1 168.5 C615.8 169.5 620.8 170.2 622.1 170.5" fill="none" transform="translate(0 42.5)" stroke="#d7a17c" stroke-width="3.4"/>
<path d="M446.1 154.4 C450.3 154.2 464.1 153.6 471.1 153.4 C478.1 153.2 482.8 153.5 487.9 153.2 C493 152.9 496.4 151.7 501.6 151.7 C506.8 151.7 513.8 152.3 519.3 153 C524.8 153.7 530.3 154.5 534.8 155.9 C539.3 157.3 543.6 160.2 546.4 161.7 C549.1 163.1 548.4 164.4 551.3 164.6 C554.2 164.8 559.8 163.7 563.8 162.7 C567.8 161.7 572.3 160.6 575.5 158.8 C578.7 157 580.3 152.9 583.2 152.1 C586.1 151.3 589.4 153 592.9 154 C596.4 155 601.3 156.1 604.5 157.9 C607.7 159.7 610.6 162.8 612.2 164.6 C613.8 166.4 612.5 167.5 614.1 168.5 C615.8 169.5 620.8 170.2 622.1 170.5" fill="none" transform="translate(0 40.8)" stroke="#d6a07b" stroke-width="3.4"/>
<path d="M446.1 154.4 C450.3 154.2 464.1 153.6 471.1 153.4 C478.1 153.2 482.8 153.5 487.9 153.2 C493 152.9 496.4 151.7 501.6 151.7 C506.8 151.7 513.8 152.3 519.3 153 C524.8 153.7 530.3 154.5 534.8 155.9 C539.3 157.3 543.6 160.2 546.4 161.7 C549.1 163.1 548.4 164.4 551.3 164.6 C554.2 164.8 559.8 163.7 563.8 162.7 C567.8 161.7 572.3 160.6 575.5 158.8 C578.7 157 580.3 152.9 583.2 152.1 C586.1 151.3 589.4 153 592.9 154 C596.4 155 601.3 156.1 604.5 157.9 C607.7 159.7 610.6 162.8 612.2 164.6 C613.8 166.4 612.5 167.5 614.1 168.5 C615.8 169.5 620.8 170.2 622.1 170.5" fill="none" transform="translate(0 39.1)" stroke="#d5a07b" stroke-width="3.4"/>
<path d="M446.1 154.4 C450.3 154.2 464.1 153.6 471.1 153.4 C478.1 153.2 482.8 153.5 487.9 153.2 C493 152.9 496.4 151.7 501.6 151.7 C506.8 151.7 513.8 152.3 519.3 153 C524.8 153.7 530.3 154.5 534.8 155.9 C539.3 157.3 543.6 160.2 546.4 161.7 C549.1 163.1 548.4 164.4 551.3 164.6 C554.2 164.8 559.8 163.7 563.8 162.7 C567.8 161.7 572.3 160.6 575.5 158.8 C578.7 157 580.3 152.9 583.2 152.1 C586.1 151.3 589.4 153 592.9 154 C596.4 155 601.3 156.1 604.5 157.9 C607.7 159.7 610.6 162.8 612.2 164.6 C613.8 166.4 612.5 167.5 614.1 168.5 C615.8 169.5 620.8 170.2 622.1 170.5" fill="none" transform="translate(0 37.4)" stroke="#d49f7b" stroke-width="3.4"/>
<path d="M446.1 154.4 C450.3 154.2 464.1 153.6 471.1 153.4 C478.1 153.2 482.8 153.5 487.9 153.2 C493 152.9 496.4 151.7 501.6 151.7 C506.8 151.7 513.8 152.3 519.3 153 C524.8 153.7 530.3 154.5 534.8 155.9 C539.3 157.3 543.6 160.2 546.4 161.7 C549.1 163.1 548.4 164.4 551.3 164.6 C554.2 164.8 559.8 163.7 563.8 162.7 C567.8 161.7 572.3 160.6 575.5 158.8 C578.7 157 580.3 152.9 583.2 152.1 C586.1 151.3 589.4 153 592.9 154 C596.4 155 601.3 156.1 604.5 157.9 C607.7 159.7 610.6 162.8 612.2 164.6 C613.8 166.4 612.5 167.5 614.1 168.5 C615.8 169.5 620.8 170.2 622.1 170.5" fill="none" transform="translate(0 35.7)" stroke="#d29e7b" stroke-width="3.4"/>
<path d="M446.1 154.4 C450.3 154.2 464.1 153.6 471.1 153.4 C478.1 153.2 482.8 153.5 487.9 153.2 C493 152.9 496.4 151.7 501.6 151.7 C506.8 151.7 513.8 152.3 519.3 153 C524.8 153.7 530.3 154.5 534.8 155.9 C539.3 157.3 543.6 160.2 546.4 161.7 C549.1 163.1 548.4 164.4 551.3 164.6 C554.2 164.8 559.8 163.7 563.8 162.7 C567.8 161.7 572.3 160.6 575.5 158.8 C578.7 157 580.3 152.9 583.2 152.1 C586.1 151.3 589.4 153 592.9 154 C596.4 155 601.3 156.1 604.5 157.9 C607.7 159.7 610.6 162.8 612.2 164.6 C613.8 166.4 612.5 167.5 614.1 168.5 C615.8 169.5 620.8 170.2 622.1 170.5" fill="none" transform="translate(0 34)" stroke="#d19d7a" stroke-width="3.4"/>
<path d="M446.1 154.4 C450.3 154.2 464.1 153.6 471.1 153.4 C478.1 153.2 482.8 153.5 487.9 153.2 C493 152.9 496.4 151.7 501.6 151.7 C506.8 151.7 513.8 152.3 519.3 153 C524.8 153.7 530.3 154.5 534.8 155.9 C539.3 157.3 543.6 160.2 546.4 161.7 C549.1 163.1 548.4 164.4 551.3 164.6 C554.2 164.8 559.8 163.7 563.8 162.7 C567.8 161.7 572.3 160.6 575.5 158.8 C578.7 157 580.3 152.9 583.2 152.1 C586.1 151.3 589.4 153 592.9 154 C596.4 155 601.3 156.1 604.5 157.9 C607.7 159.7 610.6 162.8 612.2 164.6 C613.8 166.4 612.5 167.5 614.1 168.5 C615.8 169.5 620.8 170.2 622.1 170.5" fill="none" transform="translate(0 32.3)" stroke="#d09c7a" stroke-width="3.4"/>
<path d="M446.1 154.4 C450.3 154.2 464.1 153.6 471.1 153.4 C478.1 153.2 482.8 153.5 487.9 153.2 C493 152.9 496.4 151.7 501.6 151.7 C506.8 151.7 513.8 152.3 519.3 153 C524.8 153.7 530.3 154.5 534.8 155.9 C539.3 157.3 543.6 160.2 546.4 161.7 C549.1 163.1 548.4 164.4 551.3 164.6 C554.2 164.8 559.8 163.7 563.8 162.7 C567.8 161.7 572.3 160.6 575.5 158.8 C578.7 157 580.3 152.9 583.2 152.1 C586.1 151.3 589.4 153 592.9 154 C596.4 155 601.3 156.1 604.5 157.9 C607.7 159.7 610.6 162.8 612.2 164.6 C613.8 166.4 612.5 167.5 614.1 168.5 C615.8 169.5 620.8 170.2 622.1 170.5" fill="none" transform="translate(0 30.6)" stroke="#ce9b7a" stroke-width="3.4"/>
<path d="M446.1 154.4 C450.3 154.2 464.1 153.6 471.1 153.4 C478.1 153.2 482.8 153.5 487.9 153.2 C493 152.9 496.4 151.7 501.6 151.7 C506.8 151.7 513.8 152.3 519.3 153 C524.8 153.7 530.3 154.5 534.8 155.9 C539.3 157.3 543.6 160.2 546.4 161.7 C549.1 163.1 548.4 164.4 551.3 164.6 C554.2 164.8 559.8 163.7 563.8 162.7 C567.8 161.7 572.3 160.6 575.5 158.8 C578.7 157 580.3 152.9 583.2 152.1 C586.1 151.3 589.4 153 592.9 154 C596.4 155 601.3 156.1 604.5 157.9 C607.7 159.7 610.6 162.8 612.2 164.6 C613.8 166.4 612.5 167.5 614.1 168.5 C615.8 169.5 620.8 170.2 622.1 170.5" fill="none" transform="translate(0 28.9)" stroke="#cc9a7a" stroke-width="3.4"/>
<path d="M446.1 154.4 C450.3 154.2 464.1 153.6 471.1 153.4 C478.1 153.2 482.8 153.5 487.9 153.2 C493 152.9 496.4 151.7 501.6 151.7 C506.8 151.7 513.8 152.3 519.3 153 C524.8 153.7 530.3 154.5 534.8 155.9 C539.3 157.3 543.6 160.2 546.4 161.7 C549.1 163.1 548.4 164.4 551.3 164.6 C554.2 164.8 559.8 163.7 563.8 162.7 C567.8 161.7 572.3 160.6 575.5 158.8 C578.7 157 580.3 152.9 583.2 152.1 C586.1 151.3 589.4 153 592.9 154 C596.4 155 601.3 156.1 604.5 157.9 C607.7 159.7 610.6 162.8 612.2 164.6 C613.8 166.4 612.5 167.5 614.1 168.5 C615.8 169.5 620.8 170.2 622.1 170.5" fill="none" transform="translate(0 27.2)" stroke="#ca997a" stroke-width="3.4"/>
<path d="M446.1 154.4 C450.3 154.2 464.1 153.6 471.1 153.4 C478.1 153.2 482.8 153.5 487.9 153.2 C493 152.9 496.4 151.7 501.6 151.7 C506.8 151.7 513.8 152.3 519.3 153 C524.8 153.7 530.3 154.5 534.8 155.9 C539.3 157.3 543.6 160.2 546.4 161.7 C549.1 163.1 548.4 164.4 551.3 164.6 C554.2 164.8 559.8 163.7 563.8 162.7 C567.8 161.7 572.3 160.6 575.5 158.8 C578.7 157 580.3 152.9 583.2 152.1 C586.1 151.3 589.4 153 592.9 154 C596.4 155 601.3 156.1 604.5 157.9 C607.7 159.7 610.6 162.8 612.2 164.6 C613.8 166.4 612.5 167.5 614.1 168.5 C615.8 169.5 620.8 170.2 622.1 170.5" fill="none" transform="translate(0 25.5)" stroke="#c8977a" stroke-width="3.4"/>
<path d="M446.1 154.4 C450.3 154.2 464.1 153.6 471.1 153.4 C478.1 153.2 482.8 153.5 487.9 153.2 C493 152.9 496.4 151.7 501.6 151.7 C506.8 151.7 513.8 152.3 519.3 153 C524.8 153.7 530.3 154.5 534.8 155.9 C539.3 157.3 543.6 160.2 546.4 161.7 C549.1 163.1 548.4 164.4 551.3 164.6 C554.2 164.8 559.8 163.7 563.8 162.7 C567.8 161.7 572.3 160.6 575.5 158.8 C578.7 157 580.3 152.9 583.2 152.1 C586.1 151.3 589.4 153 592.9 154 C596.4 155 601.3 156.1 604.5 157.9 C607.7 159.7 610.6 162.8 612.2 164.6 C613.8 166.4 612.5 167.5 614.1 168.5 C615.8 169.5 620.8 170.2 622.1 170.5" fill="none" transform="translate(0 23.8)" stroke="#c6967a" stroke-width="3.4"/>
<path d="M446.1 154.4 C450.3 154.2 464.1 153.6 471.1 153.4 C478.1 153.2 482.8 153.5 487.9 153.2 C493 152.9 496.4 151.7 501.6 151.7 C506.8 151.7 513.8 152.3 519.3 153 C524.8 153.7 530.3 154.5 534.8 155.9 C539.3 157.3 543.6 160.2 546.4 161.7 C549.1 163.1 548.4 164.4 551.3 164.6 C554.2 164.8 559.8 163.7 563.8 162.7 C567.8 161.7 572.3 160.6 575.5 158.8 C578.7 157 580.3 152.9 583.2 152.1 C586.1 151.3 589.4 153 592.9 154 C596.4 155 601.3 156.1 604.5 157.9 C607.7 159.7 610.6 162.8 612.2 164.6 C613.8 166.4 612.5 167.5 614.1 168.5 C615.8 169.5 620.8 170.2 622.1 170.5" fill="none" transform="translate(0 22.1)" stroke="#c4957a" stroke-width="3.4"/>
<path d="M446.1 154.4 C450.3 154.2 464.1 153.6 471.1 153.4 C478.1 153.2 482.8 153.5 487.9 153.2 C493 152.9 496.4 151.7 501.6 151.7 C506.8 151.7 513.8 152.3 519.3 153 C524.8 153.7 530.3 154.5 534.8 155.9 C539.3 157.3 543.6 160.2 546.4 161.7 C549.1 163.1 548.4 164.4 551.3 164.6 C554.2 164.8 559.8 163.7 563.8 162.7 C567.8 161.7 572.3 160.6 575.5 158.8 C578.7 157 580.3 152.9 583.2 152.1 C586.1 151.3 589.4 153 592.9 154 C596.4 155 601.3 156.1 604.5 157.9 C607.7 159.7 610.6 162.8 612.2 164.6 C613.8 166.4 612.5 167.5 614.1 168.5 C615.8 169.5 620.8 170.2 622.1 170.5" fill="none" transform="translate(0 20.4)" stroke="#c2947a" stroke-width="3.4"/>
<path d="M446.1 154.4 C450.3 154.2 464.1 153.6 471.1 153.4 C478.1 153.2 482.8 153.5 487.9 153.2 C493 152.9 496.4 151.7 501.6 151.7 C506.8 151.7 513.8 152.3 519.3 153 C524.8 153.7 530.3 154.5 534.8 155.9 C539.3 157.3 543.6 160.2 546.4 161.7 C549.1 163.1 548.4 164.4 551.3 164.6 C554.2 164.8 559.8 163.7 563.8 162.7 C567.8 161.7 572.3 160.6 575.5 158.8 C578.7 157 580.3 152.9 583.2 152.1 C586.1 151.3 589.4 153 592.9 154 C596.4 155 601.3 156.1 604.5 157.9 C607.7 159.7 610.6 162.8 612.2 164.6 C613.8 166.4 612.5 167.5 614.1 168.5 C615.8 169.5 620.8 170.2 622.1 170.5" fill="none" transform="translate(0 18.7)" stroke="#bf9279" stroke-width="3.4"/>
<path d="M446.1 154.4 C450.3 154.2 464.1 153.6 471.1 153.4 C478.1 153.2 482.8 153.5 487.9 153.2 C493 152.9 496.4 151.7 501.6 151.7 C506.8 151.7 513.8 152.3 519.3 153 C524.8 153.7 530.3 154.5 534.8 155.9 C539.3 157.3 543.6 160.2 546.4 161.7 C549.1 163.1 548.4 164.4 551.3 164.6 C554.2 164.8 559.8 163.7 563.8 162.7 C567.8 161.7 572.3 160.6 575.5 158.8 C578.7 157 580.3 152.9 583.2 152.1 C586.1 151.3 589.4 153 592.9 154 C596.4 155 601.3 156.1 604.5 157.9 C607.7 159.7 610.6 162.8 612.2 164.6 C613.8 166.4 612.5 167.5 614.1 168.5 C615.8 169.5 620.8 170.2 622.1 170.5" fill="none" transform="translate(0 17)" stroke="#bd9179" stroke-width="3.4"/>
<path d="M446.1 154.4 C450.3 154.2 464.1 153.6 471.1 153.4 C478.1 153.2 482.8 153.5 487.9 153.2 C493 152.9 496.4 151.7 501.6 151.7 C506.8 151.7 513.8 152.3 519.3 153 C524.8 153.7 530.3 154.5 534.8 155.9 C539.3 157.3 543.6 160.2 546.4 161.7 C549.1 163.1 548.4 164.4 551.3 164.6 C554.2 164.8 559.8 163.7 563.8 162.7 C567.8 161.7 572.3 160.6 575.5 158.8 C578.7 157 580.3 152.9 583.2 152.1 C586.1 151.3 589.4 153 592.9 154 C596.4 155 601.3 156.1 604.5 157.9 C607.7 159.7 610.6 162.8 612.2 164.6 C613.8 166.4 612.5 167.5 614.1 168.5 C615.8 169.5 620.8 170.2 622.1 170.5" fill="none" transform="translate(0 15.3)" stroke="#ba9079" stroke-width="3.4"/>
<path d="M446.1 154.4 C450.3 154.2 464.1 153.6 471.1 153.4 C478.1 153.2 482.8 153.5 487.9 153.2 C493 152.9 496.4 151.7 501.6 151.7 C506.8 151.7 513.8 152.3 519.3 153 C524.8 153.7 530.3 154.5 534.8 155.9 C539.3 157.3 543.6 160.2 546.4 161.7 C549.1 163.1 548.4 164.4 551.3 164.6 C554.2 164.8 559.8 163.7 563.8 162.7 C567.8 161.7 572.3 160.6 575.5 158.8 C578.7 157 580.3 152.9 583.2 152.1 C586.1 151.3 589.4 153 592.9 154 C596.4 155 601.3 156.1 604.5 157.9 C607.7 159.7 610.6 162.8 612.2 164.6 C613.8 166.4 612.5 167.5 614.1 168.5 C615.8 169.5 620.8 170.2 622.1 170.5" fill="none" transform="translate(0 13.6)" stroke="#b88e78" stroke-width="3.4"/>
<path d="M446.1 154.4 C450.3 154.2 464.1 153.6 471.1 153.4 C478.1 153.2 482.8 153.5 487.9 153.2 C493 152.9 496.4 151.7 501.6 151.7 C506.8 151.7 513.8 152.3 519.3 153 C524.8 153.7 530.3 154.5 534.8 155.9 C539.3 157.3 543.6 160.2 546.4 161.7 C549.1 163.1 548.4 164.4 551.3 164.6 C554.2 164.8 559.8 163.7 563.8 162.7 C567.8 161.7 572.3 160.6 575.5 158.8 C578.7 157 580.3 152.9 583.2 152.1 C586.1 151.3 589.4 153 592.9 154 C596.4 155 601.3 156.1 604.5 157.9 C607.7 159.7 610.6 162.8 612.2 164.6 C613.8 166.4 612.5 167.5 614.1 168.5 C615.8 169.5 620.8 170.2 622.1 170.5" fill="none" transform="translate(0 11.9)" stroke="#b68f7a" stroke-width="3.4"/>
<path d="M446.1 154.4 C450.3 154.2 464.1 153.6 471.1 153.4 C478.1 153.2 482.8 153.5 487.9 153.2 C493 152.9 496.4 151.7 501.6 151.7 C506.8 151.7 513.8 152.3 519.3 153 C524.8 153.7 530.3 154.5 534.8 155.9 C539.3 157.3 543.6 160.2 546.4 161.7 C549.1 163.1 548.4 164.4 551.3 164.6 C554.2 164.8 559.8 163.7 563.8 162.7 C567.8 161.7 572.3 160.6 575.5 158.8 C578.7 157 580.3 152.9 583.2 152.1 C586.1 151.3 589.4 153 592.9 154 C596.4 155 601.3 156.1 604.5 157.9 C607.7 159.7 610.6 162.8 612.2 164.6 C613.8 166.4 612.5 167.5 614.1 168.5 C615.8 169.5 620.8 170.2 622.1 170.5" fill="none" transform="translate(0 10.2)" stroke="#b3907d" stroke-width="3.4"/>
<path d="M446.1 154.4 C450.3 154.2 464.1 153.6 471.1 153.4 C478.1 153.2 482.8 153.5 487.9 153.2 C493 152.9 496.4 151.7 501.6 151.7 C506.8 151.7 513.8 152.3 519.3 153 C524.8 153.7 530.3 154.5 534.8 155.9 C539.3 157.3 543.6 160.2 546.4 161.7 C549.1 163.1 548.4 164.4 551.3 164.6 C554.2 164.8 559.8 163.7 563.8 162.7 C567.8 161.7 572.3 160.6 575.5 158.8 C578.7 157 580.3 152.9 583.2 152.1 C586.1 151.3 589.4 153 592.9 154 C596.4 155 601.3 156.1 604.5 157.9 C607.7 159.7 610.6 162.8 612.2 164.6 C613.8 166.4 612.5 167.5 614.1 168.5 C615.8 169.5 620.8 170.2 622.1 170.5" fill="none" transform="translate(0 8.5)" stroke="#b19180" stroke-width="3.4"/>
<path d="M446.1 154.4 C450.3 154.2 464.1 153.6 471.1 153.4 C478.1 153.2 482.8 153.5 487.9 153.2 C493 152.9 496.4 151.7 501.6 151.7 C506.8 151.7 513.8 152.3 519.3 153 C524.8 153.7 530.3 154.5 534.8 155.9 C539.3 157.3 543.6 160.2 546.4 161.7 C549.1 163.1 548.4 164.4 551.3 164.6 C554.2 164.8 559.8 163.7 563.8 162.7 C567.8 161.7 572.3 160.6 575.5 158.8 C578.7 157 580.3 152.9 583.2 152.1 C586.1 151.3 589.4 153 592.9 154 C596.4 155 601.3 156.1 604.5 157.9 C607.7 159.7 610.6 162.8 612.2 164.6 C613.8 166.4 612.5 167.5 614.1 168.5 C615.8 169.5 620.8 170.2 622.1 170.5" fill="none" transform="translate(0 6.8)" stroke="#af9283" stroke-width="3.4"/>
<path d="M446.1 154.4 C450.3 154.2 464.1 153.6 471.1 153.4 C478.1 153.2 482.8 153.5 487.9 153.2 C493 152.9 496.4 151.7 501.6 151.7 C506.8 151.7 513.8 152.3 519.3 153 C524.8 153.7 530.3 154.5 534.8 155.9 C539.3 157.3 543.6 160.2 546.4 161.7 C549.1 163.1 548.4 164.4 551.3 164.6 C554.2 164.8 559.8 163.7 563.8 162.7 C567.8 161.7 572.3 160.6 575.5 158.8 C578.7 157 580.3 152.9 583.2 152.1 C586.1 151.3 589.4 153 592.9 154 C596.4 155 601.3 156.1 604.5 157.9 C607.7 159.7 610.6 162.8 612.2 164.6 C613.8 166.4 612.5 167.5 614.1 168.5 C615.8 169.5 620.8 170.2 622.1 170.5" fill="none" transform="translate(0 5.1)" stroke="#ad9285" stroke-width="3.4"/>
<path d="M446.1 154.4 C450.3 154.2 464.1 153.6 471.1 153.4 C478.1 153.2 482.8 153.5 487.9 153.2 C493 152.9 496.4 151.7 501.6 151.7 C506.8 151.7 513.8 152.3 519.3 153 C524.8 153.7 530.3 154.5 534.8 155.9 C539.3 157.3 543.6 160.2 546.4 161.7 C549.1 163.1 548.4 164.4 551.3 164.6 C554.2 164.8 559.8 163.7 563.8 162.7 C567.8 161.7 572.3 160.6 575.5 158.8 C578.7 157 580.3 152.9 583.2 152.1 C586.1 151.3 589.4 153 592.9 154 C596.4 155 601.3 156.1 604.5 157.9 C607.7 159.7 610.6 162.8 612.2 164.6 C613.8 166.4 612.5 167.5 614.1 168.5 C615.8 169.5 620.8 170.2 622.1 170.5" fill="none" transform="translate(0 3.4)" stroke="#aa9387" stroke-width="3.4"/>
<path d="M446.1 154.4 C450.3 154.2 464.1 153.6 471.1 153.4 C478.1 153.2 482.8 153.5 487.9 153.2 C493 152.9 496.4 151.7 501.6 151.7 C506.8 151.7 513.8 152.3 519.3 153 C524.8 153.7 530.3 154.5 534.8 155.9 C539.3 157.3 543.6 160.2 546.4 161.7 C549.1 163.1 548.4 164.4 551.3 164.6 C554.2 164.8 559.8 163.7 563.8 162.7 C567.8 161.7 572.3 160.6 575.5 158.8 C578.7 157 580.3 152.9 583.2 152.1 C586.1 151.3 589.4 153 592.9 154 C596.4 155 601.3 156.1 604.5 157.9 C607.7 159.7 610.6 162.8 612.2 164.6 C613.8 166.4 612.5 167.5 614.1 168.5 C615.8 169.5 620.8 170.2 622.1 170.5" fill="none" transform="translate(0 1.7)" stroke="#a89389" stroke-width="3.4"/>
<path d="M446.1 154.4 C450.3 154.2 464.1 153.6 471.1 153.4 C478.1 153.2 482.8 153.5 487.9 153.2 C493 152.9 496.4 151.7 501.6 151.7 C506.8 151.7 513.8 152.3 519.3 153 C524.8 153.7 530.3 154.5 534.8 155.9 C539.3 157.3 543.6 160.2 546.4 161.7 C549.1 163.1 548.4 164.4 551.3 164.6 C554.2 164.8 559.8 163.7 563.8 162.7 C567.8 161.7 572.3 160.6 575.5 158.8 C578.7 157 580.3 152.9 583.2 152.1 C586.1 151.3 589.4 153 592.9 154 C596.4 155 601.3 156.1 604.5 157.9 C607.7 159.7 610.6 162.8 612.2 164.6 C613.8 166.4 612.5 167.5 614.1 168.5 C615.8 169.5 620.8 170.2 622.1 170.5" fill="none" transform="translate(0 0)" stroke="#a5948b" stroke-width="3.4"/>
<g clip-path="url(#pzc2)">
<path d="M441.9 190 C443.6 189.8 447.6 189.7 451.9 189 C456.2 188.3 461.4 187.1 467.9 186 C474.4 184.9 483.7 183.7 490.9 182.5 C498.1 181.3 504.7 180.1 510.9 179 C517.1 177.9 523.3 176.8 527.9 176 C532.5 175.2 533.7 173.6 538.7 174.3 C543.7 175 551.5 177.2 558 180.1 C564.5 183 572.5 187.8 577.4 191.7 C582.2 195.6 584.9 199.4 587.1 203.3 C589.4 207.2 590.2 211.2 590.9 215 C591.6 218.8 591.1 224.2 591.1 226" fill="none" transform="translate(0 57.5)" stroke="#fde6d0" stroke-width="3.4"/>
<path d="M441.9 190 C443.6 189.8 447.6 189.7 451.9 189 C456.2 188.3 461.4 187.1 467.9 186 C474.4 184.9 483.7 183.7 490.9 182.5 C498.1 181.3 504.7 180.1 510.9 179 C517.1 177.9 523.3 176.8 527.9 176 C532.5 175.2 533.7 173.6 538.7 174.3 C543.7 175 551.5 177.2 558 180.1 C564.5 183 572.5 187.8 577.4 191.7 C582.2 195.6 584.9 199.4 587.1 203.3 C589.4 207.2 590.2 211.2 590.9 215 C591.6 218.8 591.1 224.2 591.1 226" fill="none" transform="translate(0 55.8)" stroke="#fde6d0" stroke-width="3.4"/>
<path d="M441.9 190 C443.6 189.8 447.6 189.7 451.9 189 C456.2 188.3 461.4 187.1 467.9 186 C474.4 184.9 483.7 183.7 490.9 182.5 C498.1 181.3 504.7 180.1 510.9 179 C517.1 177.9 523.3 176.8 527.9 176 C532.5 175.2 533.7 173.6 538.7 174.3 C543.7 175 551.5 177.2 558 180.1 C564.5 183 572.5 187.8 577.4 191.7 C582.2 195.6 584.9 199.4 587.1 203.3 C589.4 207.2 590.2 211.2 590.9 215 C591.6 218.8 591.1 224.2 591.1 226" fill="none" transform="translate(0 54.1)" stroke="#fde6d0" stroke-width="3.4"/>
<path d="M441.9 190 C443.6 189.8 447.6 189.7 451.9 189 C456.2 188.3 461.4 187.1 467.9 186 C474.4 184.9 483.7 183.7 490.9 182.5 C498.1 181.3 504.7 180.1 510.9 179 C517.1 177.9 523.3 176.8 527.9 176 C532.5 175.2 533.7 173.6 538.7 174.3 C543.7 175 551.5 177.2 558 180.1 C564.5 183 572.5 187.8 577.4 191.7 C582.2 195.6 584.9 199.4 587.1 203.3 C589.4 207.2 590.2 211.2 590.9 215 C591.6 218.8 591.1 224.2 591.1 226" fill="none" transform="translate(0 52.4)" stroke="#fde6d0" stroke-width="3.4"/>
<path d="M441.9 190 C443.6 189.8 447.6 189.7 451.9 189 C456.2 188.3 461.4 187.1 467.9 186 C474.4 184.9 483.7 183.7 490.9 182.5 C498.1 181.3 504.7 180.1 510.9 179 C517.1 177.9 523.3 176.8 527.9 176 C532.5 175.2 533.7 173.6 538.7 174.3 C543.7 175 551.5 177.2 558 180.1 C564.5 183 572.5 187.8 577.4 191.7 C582.2 195.6 584.9 199.4 587.1 203.3 C589.4 207.2 590.2 211.2 590.9 215 C591.6 218.8 591.1 224.2 591.1 226" fill="none" transform="translate(0 50.7)" stroke="#fde6d1" stroke-width="3.4"/>
<path d="M441.9 190 C443.6 189.8 447.6 189.7 451.9 189 C456.2 188.3 461.4 187.1 467.9 186 C474.4 184.9 483.7 183.7 490.9 182.5 C498.1 181.3 504.7 180.1 510.9 179 C517.1 177.9 523.3 176.8 527.9 176 C532.5 175.2 533.7 173.6 538.7 174.3 C543.7 175 551.5 177.2 558 180.1 C564.5 183 572.5 187.8 577.4 191.7 C582.2 195.6 584.9 199.4 587.1 203.3 C589.4 207.2 590.2 211.2 590.9 215 C591.6 218.8 591.1 224.2 591.1 226" fill="none" transform="translate(0 49)" stroke="#fde8d4" stroke-width="3.4"/>
<path d="M441.9 190 C443.6 189.8 447.6 189.7 451.9 189 C456.2 188.3 461.4 187.1 467.9 186 C474.4 184.9 483.7 183.7 490.9 182.5 C498.1 181.3 504.7 180.1 510.9 179 C517.1 177.9 523.3 176.8 527.9 176 C532.5 175.2 533.7 173.6 538.7 174.3 C543.7 175 551.5 177.2 558 180.1 C564.5 183 572.5 187.8 577.4 191.7 C582.2 195.6 584.9 199.4 587.1 203.3 C589.4 207.2 590.2 211.2 590.9 215 C591.6 218.8 591.1 224.2 591.1 226" fill="none" transform="translate(0 47.3)" stroke="#fde9d6" stroke-width="3.4"/>
<path d="M441.9 190 C443.6 189.8 447.6 189.7 451.9 189 C456.2 188.3 461.4 187.1 467.9 186 C474.4 184.9 483.7 183.7 490.9 182.5 C498.1 181.3 504.7 180.1 510.9 179 C517.1 177.9 523.3 176.8 527.9 176 C532.5 175.2 533.7 173.6 538.7 174.3 C543.7 175 551.5 177.2 558 180.1 C564.5 183 572.5 187.8 577.4 191.7 C582.2 195.6 584.9 199.4 587.1 203.3 C589.4 207.2 590.2 211.2 590.9 215 C591.6 218.8 591.1 224.2 591.1 226" fill="none" transform="translate(0 45.6)" stroke="#fdead9" stroke-width="3.4"/>
<path d="M441.9 190 C443.6 189.8 447.6 189.7 451.9 189 C456.2 188.3 461.4 187.1 467.9 186 C474.4 184.9 483.7 183.7 490.9 182.5 C498.1 181.3 504.7 180.1 510.9 179 C517.1 177.9 523.3 176.8 527.9 176 C532.5 175.2 533.7 173.6 538.7 174.3 C543.7 175 551.5 177.2 558 180.1 C564.5 183 572.5 187.8 577.4 191.7 C582.2 195.6 584.9 199.4 587.1 203.3 C589.4 207.2 590.2 211.2 590.9 215 C591.6 218.8 591.1 224.2 591.1 226" fill="none" transform="translate(0 43.9)" stroke="#fdebdb" stroke-width="3.4"/>
<path d="M441.9 190 C443.6 189.8 447.6 189.7 451.9 189 C456.2 188.3 461.4 187.1 467.9 186 C474.4 184.9 483.7 183.7 490.9 182.5 C498.1 181.3 504.7 180.1 510.9 179 C517.1 177.9 523.3 176.8 527.9 176 C532.5 175.2 533.7 173.6 538.7 174.3 C543.7 175 551.5 177.2 558 180.1 C564.5 183 572.5 187.8 577.4 191.7 C582.2 195.6 584.9 199.4 587.1 203.3 C589.4 207.2 590.2 211.2 590.9 215 C591.6 218.8 591.1 224.2 591.1 226" fill="none" transform="translate(0 42.2)" stroke="#feecde" stroke-width="3.4"/>
<path d="M441.9 190 C443.6 189.8 447.6 189.7 451.9 189 C456.2 188.3 461.4 187.1 467.9 186 C474.4 184.9 483.7 183.7 490.9 182.5 C498.1 181.3 504.7 180.1 510.9 179 C517.1 177.9 523.3 176.8 527.9 176 C532.5 175.2 533.7 173.6 538.7 174.3 C543.7 175 551.5 177.2 558 180.1 C564.5 183 572.5 187.8 577.4 191.7 C582.2 195.6 584.9 199.4 587.1 203.3 C589.4 207.2 590.2 211.2 590.9 215 C591.6 218.8 591.1 224.2 591.1 226" fill="none" transform="translate(0 40.5)" stroke="#feede0" stroke-width="3.4"/>
<path d="M441.9 190 C443.6 189.8 447.6 189.7 451.9 189 C456.2 188.3 461.4 187.1 467.9 186 C474.4 184.9 483.7 183.7 490.9 182.5 C498.1 181.3 504.7 180.1 510.9 179 C517.1 177.9 523.3 176.8 527.9 176 C532.5 175.2 533.7 173.6 538.7 174.3 C543.7 175 551.5 177.2 558 180.1 C564.5 183 572.5 187.8 577.4 191.7 C582.2 195.6 584.9 199.4 587.1 203.3 C589.4 207.2 590.2 211.2 590.9 215 C591.6 218.8 591.1 224.2 591.1 226" fill="none" transform="translate(0 38.8)" stroke="#feefe3" stroke-width="3.4"/>
<path d="M441.9 190 C443.6 189.8 447.6 189.7 451.9 189 C456.2 188.3 461.4 187.1 467.9 186 C474.4 184.9 483.7 183.7 490.9 182.5 C498.1 181.3 504.7 180.1 510.9 179 C517.1 177.9 523.3 176.8 527.9 176 C532.5 175.2 533.7 173.6 538.7 174.3 C543.7 175 551.5 177.2 558 180.1 C564.5 183 572.5 187.8 577.4 191.7 C582.2 195.6 584.9 199.4 587.1 203.3 C589.4 207.2 590.2 211.2 590.9 215 C591.6 218.8 591.1 224.2 591.1 226" fill="none" transform="translate(0 37.1)" stroke="#fef0e5" stroke-width="3.4"/>
<path d="M441.9 190 C443.6 189.8 447.6 189.7 451.9 189 C456.2 188.3 461.4 187.1 467.9 186 C474.4 184.9 483.7 183.7 490.9 182.5 C498.1 181.3 504.7 180.1 510.9 179 C517.1 177.9 523.3 176.8 527.9 176 C532.5 175.2 533.7 173.6 538.7 174.3 C543.7 175 551.5 177.2 558 180.1 C564.5 183 572.5 187.8 577.4 191.7 C582.2 195.6 584.9 199.4 587.1 203.3 C589.4 207.2 590.2 211.2 590.9 215 C591.6 218.8 591.1 224.2 591.1 226" fill="none" transform="translate(0 35.4)" stroke="#fef1e8" stroke-width="3.4"/>
<path d="M441.9 190 C443.6 189.8 447.6 189.7 451.9 189 C456.2 188.3 461.4 187.1 467.9 186 C474.4 184.9 483.7 183.7 490.9 182.5 C498.1 181.3 504.7 180.1 510.9 179 C517.1 177.9 523.3 176.8 527.9 176 C532.5 175.2 533.7 173.6 538.7 174.3 C543.7 175 551.5 177.2 558 180.1 C564.5 183 572.5 187.8 577.4 191.7 C582.2 195.6 584.9 199.4 587.1 203.3 C589.4 207.2 590.2 211.2 590.9 215 C591.6 218.8 591.1 224.2 591.1 226" fill="none" transform="translate(0 33.7)" stroke="#fef1e8" stroke-width="3.4"/>
<path d="M441.9 190 C443.6 189.8 447.6 189.7 451.9 189 C456.2 188.3 461.4 187.1 467.9 186 C474.4 184.9 483.7 183.7 490.9 182.5 C498.1 181.3 504.7 180.1 510.9 179 C517.1 177.9 523.3 176.8 527.9 176 C532.5 175.2 533.7 173.6 538.7 174.3 C543.7 175 551.5 177.2 558 180.1 C564.5 183 572.5 187.8 577.4 191.7 C582.2 195.6 584.9 199.4 587.1 203.3 C589.4 207.2 590.2 211.2 590.9 215 C591.6 218.8 591.1 224.2 591.1 226" fill="none" transform="translate(0 32)" stroke="#fef0e7" stroke-width="3.4"/>
<path d="M441.9 190 C443.6 189.8 447.6 189.7 451.9 189 C456.2 188.3 461.4 187.1 467.9 186 C474.4 184.9 483.7 183.7 490.9 182.5 C498.1 181.3 504.7 180.1 510.9 179 C517.1 177.9 523.3 176.8 527.9 176 C532.5 175.2 533.7 173.6 538.7 174.3 C543.7 175 551.5 177.2 558 180.1 C564.5 183 572.5 187.8 577.4 191.7 C582.2 195.6 584.9 199.4 587.1 203.3 C589.4 207.2 590.2 211.2 590.9 215 C591.6 218.8 591.1 224.2 591.1 226" fill="none" transform="translate(0 30.3)" stroke="#fef0e7" stroke-width="3.4"/>
<path d="M441.9 190 C443.6 189.8 447.6 189.7 451.9 189 C456.2 188.3 461.4 187.1 467.9 186 C474.4 184.9 483.7 183.7 490.9 182.5 C498.1 181.3 504.7 180.1 510.9 179 C517.1 177.9 523.3 176.8 527.9 176 C532.5 175.2 533.7 173.6 538.7 174.3 C543.7 175 551.5 177.2 558 180.1 C564.5 183 572.5 187.8 577.4 191.7 C582.2 195.6 584.9 199.4 587.1 203.3 C589.4 207.2 590.2 211.2 590.9 215 C591.6 218.8 591.1 224.2 591.1 226" fill="none" transform="translate(0 28.6)" stroke="#fdf0e7" stroke-width="3.4"/>
<path d="M441.9 190 C443.6 189.8 447.6 189.7 451.9 189 C456.2 188.3 461.4 187.1 467.9 186 C474.4 184.9 483.7 183.7 490.9 182.5 C498.1 181.3 504.7 180.1 510.9 179 C517.1 177.9 523.3 176.8 527.9 176 C532.5 175.2 533.7 173.6 538.7 174.3 C543.7 175 551.5 177.2 558 180.1 C564.5 183 572.5 187.8 577.4 191.7 C582.2 195.6 584.9 199.4 587.1 203.3 C589.4 207.2 590.2 211.2 590.9 215 C591.6 218.8 591.1 224.2 591.1 226" fill="none" transform="translate(0 26.9)" stroke="#fdefe6" stroke-width="3.4"/>
<path d="M441.9 190 C443.6 189.8 447.6 189.7 451.9 189 C456.2 188.3 461.4 187.1 467.9 186 C474.4 184.9 483.7 183.7 490.9 182.5 C498.1 181.3 504.7 180.1 510.9 179 C517.1 177.9 523.3 176.8 527.9 176 C532.5 175.2 533.7 173.6 538.7 174.3 C543.7 175 551.5 177.2 558 180.1 C564.5 183 572.5 187.8 577.4 191.7 C582.2 195.6 584.9 199.4 587.1 203.3 C589.4 207.2 590.2 211.2 590.9 215 C591.6 218.8 591.1 224.2 591.1 226" fill="none" transform="translate(0 25.2)" stroke="#fdefe6" stroke-width="3.4"/>
<path d="M441.9 190 C443.6 189.8 447.6 189.7 451.9 189 C456.2 188.3 461.4 187.1 467.9 186 C474.4 184.9 483.7 183.7 490.9 182.5 C498.1 181.3 504.7 180.1 510.9 179 C517.1 177.9 523.3 176.8 527.9 176 C532.5 175.2 533.7 173.6 538.7 174.3 C543.7 175 551.5 177.2 558 180.1 C564.5 183 572.5 187.8 577.4 191.7 C582.2 195.6 584.9 199.4 587.1 203.3 C589.4 207.2 590.2 211.2 590.9 215 C591.6 218.8 591.1 224.2 591.1 226" fill="none" transform="translate(0 23.5)" stroke="#fdeee4" stroke-width="3.4"/>
<path d="M441.9 190 C443.6 189.8 447.6 189.7 451.9 189 C456.2 188.3 461.4 187.1 467.9 186 C474.4 184.9 483.7 183.7 490.9 182.5 C498.1 181.3 504.7 180.1 510.9 179 C517.1 177.9 523.3 176.8 527.9 176 C532.5 175.2 533.7 173.6 538.7 174.3 C543.7 175 551.5 177.2 558 180.1 C564.5 183 572.5 187.8 577.4 191.7 C582.2 195.6 584.9 199.4 587.1 203.3 C589.4 207.2 590.2 211.2 590.9 215 C591.6 218.8 591.1 224.2 591.1 226" fill="none" transform="translate(0 21.8)" stroke="#fcebe0" stroke-width="3.4"/>
<path d="M441.9 190 C443.6 189.8 447.6 189.7 451.9 189 C456.2 188.3 461.4 187.1 467.9 186 C474.4 184.9 483.7 183.7 490.9 182.5 C498.1 181.3 504.7 180.1 510.9 179 C517.1 177.9 523.3 176.8 527.9 176 C532.5 175.2 533.7 173.6 538.7 174.3 C543.7 175 551.5 177.2 558 180.1 C564.5 183 572.5 187.8 577.4 191.7 C582.2 195.6 584.9 199.4 587.1 203.3 C589.4 207.2 590.2 211.2 590.9 215 C591.6 218.8 591.1 224.2 591.1 226" fill="none" transform="translate(0 20.1)" stroke="#fbe9dc" stroke-width="3.4"/>
<path d="M441.9 190 C443.6 189.8 447.6 189.7 451.9 189 C456.2 188.3 461.4 187.1 467.9 186 C474.4 184.9 483.7 183.7 490.9 182.5 C498.1 181.3 504.7 180.1 510.9 179 C517.1 177.9 523.3 176.8 527.9 176 C532.5 175.2 533.7 173.6 538.7 174.3 C543.7 175 551.5 177.2 558 180.1 C564.5 183 572.5 187.8 577.4 191.7 C582.2 195.6 584.9 199.4 587.1 203.3 C589.4 207.2 590.2 211.2 590.9 215 C591.6 218.8 591.1 224.2 591.1 226" fill="none" transform="translate(0 18.4)" stroke="#fbe6d8" stroke-width="3.4"/>
<path d="M441.9 190 C443.6 189.8 447.6 189.7 451.9 189 C456.2 188.3 461.4 187.1 467.9 186 C474.4 184.9 483.7 183.7 490.9 182.5 C498.1 181.3 504.7 180.1 510.9 179 C517.1 177.9 523.3 176.8 527.9 176 C532.5 175.2 533.7 173.6 538.7 174.3 C543.7 175 551.5 177.2 558 180.1 C564.5 183 572.5 187.8 577.4 191.7 C582.2 195.6 584.9 199.4 587.1 203.3 C589.4 207.2 590.2 211.2 590.9 215 C591.6 218.8 591.1 224.2 591.1 226" fill="none" transform="translate(0 16.7)" stroke="#fae3d5" stroke-width="3.4"/>
<path d="M441.9 190 C443.6 189.8 447.6 189.7 451.9 189 C456.2 188.3 461.4 187.1 467.9 186 C474.4 184.9 483.7 183.7 490.9 182.5 C498.1 181.3 504.7 180.1 510.9 179 C517.1 177.9 523.3 176.8 527.9 176 C532.5 175.2 533.7 173.6 538.7 174.3 C543.7 175 551.5 177.2 558 180.1 C564.5 183 572.5 187.8 577.4 191.7 C582.2 195.6 584.9 199.4 587.1 203.3 C589.4 207.2 590.2 211.2 590.9 215 C591.6 218.8 591.1 224.2 591.1 226" fill="none" transform="translate(0 15)" stroke="#f8decd" stroke-width="3.4"/>
<path d="M441.9 190 C443.6 189.8 447.6 189.7 451.9 189 C456.2 188.3 461.4 187.1 467.9 186 C474.4 184.9 483.7 183.7 490.9 182.5 C498.1 181.3 504.7 180.1 510.9 179 C517.1 177.9 523.3 176.8 527.9 176 C532.5 175.2 533.7 173.6 538.7 174.3 C543.7 175 551.5 177.2 558 180.1 C564.5 183 572.5 187.8 577.4 191.7 C582.2 195.6 584.9 199.4 587.1 203.3 C589.4 207.2 590.2 211.2 590.9 215 C591.6 218.8 591.1 224.2 591.1 226" fill="none" transform="translate(0 13.3)" stroke="#f6d8c4" stroke-width="3.4"/>
<path d="M441.9 190 C443.6 189.8 447.6 189.7 451.9 189 C456.2 188.3 461.4 187.1 467.9 186 C474.4 184.9 483.7 183.7 490.9 182.5 C498.1 181.3 504.7 180.1 510.9 179 C517.1 177.9 523.3 176.8 527.9 176 C532.5 175.2 533.7 173.6 538.7 174.3 C543.7 175 551.5 177.2 558 180.1 C564.5 183 572.5 187.8 577.4 191.7 C582.2 195.6 584.9 199.4 587.1 203.3 C589.4 207.2 590.2 211.2 590.9 215 C591.6 218.8 591.1 224.2 591.1 226" fill="none" transform="translate(0 11.6)" stroke="#f4d1bc" stroke-width="3.4"/>
<path d="M441.9 190 C443.6 189.8 447.6 189.7 451.9 189 C456.2 188.3 461.4 187.1 467.9 186 C474.4 184.9 483.7 183.7 490.9 182.5 C498.1 181.3 504.7 180.1 510.9 179 C517.1 177.9 523.3 176.8 527.9 176 C532.5 175.2 533.7 173.6 538.7 174.3 C543.7 175 551.5 177.2 558 180.1 C564.5 183 572.5 187.8 577.4 191.7 C582.2 195.6 584.9 199.4 587.1 203.3 C589.4 207.2 590.2 211.2 590.9 215 C591.6 218.8 591.1 224.2 591.1 226" fill="none" transform="translate(0 9.9)" stroke="#f1cbb3" stroke-width="3.4"/>
<path d="M441.9 190 C443.6 189.8 447.6 189.7 451.9 189 C456.2 188.3 461.4 187.1 467.9 186 C474.4 184.9 483.7 183.7 490.9 182.5 C498.1 181.3 504.7 180.1 510.9 179 C517.1 177.9 523.3 176.8 527.9 176 C532.5 175.2 533.7 173.6 538.7 174.3 C543.7 175 551.5 177.2 558 180.1 C564.5 183 572.5 187.8 577.4 191.7 C582.2 195.6 584.9 199.4 587.1 203.3 C589.4 207.2 590.2 211.2 590.9 215 C591.6 218.8 591.1 224.2 591.1 226" fill="none" transform="translate(0 8.2)" stroke="#edc3a9" stroke-width="3.4"/>
<path d="M441.9 190 C443.6 189.8 447.6 189.7 451.9 189 C456.2 188.3 461.4 187.1 467.9 186 C474.4 184.9 483.7 183.7 490.9 182.5 C498.1 181.3 504.7 180.1 510.9 179 C517.1 177.9 523.3 176.8 527.9 176 C532.5 175.2 533.7 173.6 538.7 174.3 C543.7 175 551.5 177.2 558 180.1 C564.5 183 572.5 187.8 577.4 191.7 C582.2 195.6 584.9 199.4 587.1 203.3 C589.4 207.2 590.2 211.2 590.9 215 C591.6 218.8 591.1 224.2 591.1 226" fill="none" transform="translate(0 6.5)" stroke="#e9bb9f" stroke-width="3.4"/>
<path d="M441.9 190 C443.6 189.8 447.6 189.7 451.9 189 C456.2 188.3 461.4 187.1 467.9 186 C474.4 184.9 483.7 183.7 490.9 182.5 C498.1 181.3 504.7 180.1 510.9 179 C517.1 177.9 523.3 176.8 527.9 176 C532.5 175.2 533.7 173.6 538.7 174.3 C543.7 175 551.5 177.2 558 180.1 C564.5 183 572.5 187.8 577.4 191.7 C582.2 195.6 584.9 199.4 587.1 203.3 C589.4 207.2 590.2 211.2 590.9 215 C591.6 218.8 591.1 224.2 591.1 226" fill="none" transform="translate(0 4.8)" stroke="#e4b394" stroke-width="3.4"/>
<path d="M441.9 190 C443.6 189.8 447.6 189.7 451.9 189 C456.2 188.3 461.4 187.1 467.9 186 C474.4 184.9 483.7 183.7 490.9 182.5 C498.1 181.3 504.7 180.1 510.9 179 C517.1 177.9 523.3 176.8 527.9 176 C532.5 175.2 533.7 173.6 538.7 174.3 C543.7 175 551.5 177.2 558 180.1 C564.5 183 572.5 187.8 577.4 191.7 C582.2 195.6 584.9 199.4 587.1 203.3 C589.4 207.2 590.2 211.2 590.9 215 C591.6 218.8 591.1 224.2 591.1 226" fill="none" transform="translate(0 3.1)" stroke="#dfab89" stroke-width="3.4"/>
<path d="M441.9 190 C443.6 189.8 447.6 189.7 451.9 189 C456.2 188.3 461.4 187.1 467.9 186 C474.4 184.9 483.7 183.7 490.9 182.5 C498.1 181.3 504.7 180.1 510.9 179 C517.1 177.9 523.3 176.8 527.9 176 C532.5 175.2 533.7 173.6 538.7 174.3 C543.7 175 551.5 177.2 558 180.1 C564.5 183 572.5 187.8 577.4 191.7 C582.2 195.6 584.9 199.4 587.1 203.3 C589.4 207.2 590.2 211.2 590.9 215 C591.6 218.8 591.1 224.2 591.1 226" fill="none" transform="translate(0 1.4)" stroke="#d9a37e" stroke-width="3.4"/>
<rect x="445.9" y="150" width="170" height="75" fill="url(#hp)" opacity="0.62" mask="url(#fade2)"/>
</g>
<path d="M527.9 176 C529.7 175.7 533.7 173.6 538.7 174.3 C543.7 175 551.5 177.2 558 180.1 C564.5 183 572.5 187.8 577.4 191.7 C582.2 195.6 584.9 199.4 587.1 203.3 C589.4 207.2 590.2 211.2 590.9 215 C591.6 218.8 591.1 224.2 591.1 226" fill="none" stroke="#f7d5bf" stroke-width="1.2" opacity="0.8"/>
<path d="M471.1 140.7 C473.9 140.8 483.8 140.7 488 141 C492.2 141.3 494.2 142.5 496.5 142.4 C498.8 142.3 500.1 141 501.6 140.4 C503.2 139.8 502.8 139.2 505.8 139.1 C508.7 138.9 514.5 139.1 519.3 139.5 C524.1 139.9 530.6 140.4 534.8 141.4 C539 142.4 542.1 143.7 544.5 145.3 C546.9 146.9 548.2 149.7 549.3 151.1 C550.4 152.5 548.9 153.7 551.3 154 C553.7 154.3 559.8 153.7 563.8 153 C567.8 152.3 572.8 151.2 575.5 150.1 C578.2 149 579 148.4 580.3 146.3 C581.6 144.2 581.1 138.9 583.2 137.6 C585.3 136.3 589.4 137.7 592.9 138.5 C596.4 139.3 601.6 140.6 604.5 142.4 C607.4 144.2 608.7 145 610.3 149.2 C611.9 153.4 613.5 164.4 614.1 167.5 L614.1 168.5 L612.2 164.6 L604.5 157.9 L592.9 154 L583.2 152.1 L575.5 158.8 L563.8 162.7 L551.3 164.6 L546.4 161.7 L534.8 155.9 L519.3 153 L501.6 151.7 L487.9 153.2 L471.1 153.4 Z" fill="#d0cbc8"/>
<path d="M471.1 140.7 C473.9 140.8 483.8 140.7 488 141 C492.2 141.3 494.2 142.5 496.5 142.4 C498.8 142.3 500.1 141 501.6 140.4 C503.2 139.8 502.8 139.2 505.8 139.1 C508.7 138.9 514.5 139.1 519.3 139.5 C524.1 139.9 530.6 140.4 534.8 141.4 C539 142.4 542.1 143.7 544.5 145.3 C546.9 146.9 548.2 149.7 549.3 151.1 C550.4 152.5 548.9 153.7 551.3 154 C553.7 154.3 559.8 153.7 563.8 153 C567.8 152.3 572.8 151.2 575.5 150.1 C578.2 149 579 148.4 580.3 146.3 C581.6 144.2 581.1 138.9 583.2 137.6 C585.3 136.3 589.4 137.7 592.9 138.5 C596.4 139.3 601.6 140.6 604.5 142.4 C607.4 144.2 608.7 145 610.3 149.2 C611.9 153.4 613.5 164.4 614.1 167.5 L614.1 168.5 L612.2 164.6 L604.5 157.9 L592.9 154 L583.2 152.1 L575.5 158.8 L563.8 162.7 L551.3 164.6 L546.4 161.7 L534.8 155.9 L519.3 153 L501.6 151.7 L487.9 153.2 L471.1 153.4 Z" fill="url(#hv)" opacity="0.38"/>
<path d="M446.1 154.4 C450.3 154.2 464.1 153.6 471.1 153.4 C478.1 153.2 482.8 153.5 487.9 153.2 C493 152.9 496.4 151.7 501.6 151.7 C506.8 151.7 513.8 152.3 519.3 153 C524.8 153.7 530.3 154.5 534.8 155.9 C539.3 157.3 543.6 160.2 546.4 161.7 C549.1 163.1 548.4 164.4 551.3 164.6 C554.2 164.8 559.8 163.7 563.8 162.7 C567.8 161.7 572.3 160.6 575.5 158.8 C578.7 157 580.3 152.9 583.2 152.1 C586.1 151.3 589.4 153 592.9 154 C596.4 155 601.3 156.1 604.5 157.9 C607.7 159.7 610.6 162.8 612.2 164.6 C613.8 166.4 612.5 167.5 614.1 168.5 C615.8 169.5 620.8 170.2 622.1 170.5" fill="none" transform="translate(0 0)" stroke="#4a4340" stroke-width="0.8" opacity="0.9"/>
<path d="M446.1 154.4 C450.3 154.2 464.1 153.6 471.1 153.4 C478.1 153.2 482.8 153.5 487.9 153.2 C493 152.9 496.4 151.7 501.6 151.7 C506.8 151.7 513.8 152.3 519.3 153 C524.8 153.7 530.3 154.5 534.8 155.9 C539.3 157.3 543.6 160.2 546.4 161.7 C549.1 163.1 548.4 164.4 551.3 164.6 C554.2 164.8 559.8 163.7 563.8 162.7 C567.8 161.7 572.3 160.6 575.5 158.8 C578.7 157 580.3 152.9 583.2 152.1 C586.1 151.3 589.4 153 592.9 154 C596.4 155 601.3 156.1 604.5 157.9 C607.7 159.7 610.6 162.8 612.2 164.6 C613.8 166.4 612.5 167.5 614.1 168.5 C615.8 169.5 620.8 170.2 622.1 170.5" fill="none" transform="translate(0 3.8)" stroke="#4a4340" stroke-width="0.7" opacity="0.8"/>
<path d="M446.1 154.4 C450.3 154.2 464.1 153.6 471.1 153.4 C478.1 153.2 482.8 153.5 487.9 153.2 C493 152.9 496.4 151.7 501.6 151.7 C506.8 151.7 513.8 152.3 519.3 153 C524.8 153.7 530.3 154.5 534.8 155.9 C539.3 157.3 543.6 160.2 546.4 161.7 C549.1 163.1 548.4 164.4 551.3 164.6 C554.2 164.8 559.8 163.7 563.8 162.7 C567.8 161.7 572.3 160.6 575.5 158.8 C578.7 157 580.3 152.9 583.2 152.1 C586.1 151.3 589.4 153 592.9 154 C596.4 155 601.3 156.1 604.5 157.9 C607.7 159.7 610.6 162.8 612.2 164.6 C613.8 166.4 612.5 167.5 614.1 168.5 C615.8 169.5 620.8 170.2 622.1 170.5" fill="none" transform="translate(0 7.2)" stroke="#4a4340" stroke-width="0.6" opacity="0.6"/>
<path d="M446.1 154.4 C450.3 154.2 464.1 153.6 471.1 153.4 C478.1 153.2 482.8 153.5 487.9 153.2 C493 152.9 496.4 151.7 501.6 151.7 C506.8 151.7 513.8 152.3 519.3 153 C524.8 153.7 530.3 154.5 534.8 155.9 C539.3 157.3 543.6 160.2 546.4 161.7 C549.1 163.1 548.4 164.4 551.3 164.6 C554.2 164.8 559.8 163.7 563.8 162.7 C567.8 161.7 572.3 160.6 575.5 158.8 C578.7 157 580.3 152.9 583.2 152.1 C586.1 151.3 589.4 153 592.9 154 C596.4 155 601.3 156.1 604.5 157.9 C607.7 159.7 610.6 162.8 612.2 164.6 C613.8 166.4 612.5 167.5 614.1 168.5 C615.8 169.5 620.8 170.2 622.1 170.5" fill="none" transform="translate(0 10.2)" stroke="#4a4340" stroke-width="0.6" opacity="0.5"/>
<path d="M446.1 154.4 C450.3 154.2 464.1 153.6 471.1 153.4 C478.1 153.2 482.8 153.5 487.9 153.2 C493 152.9 496.4 151.7 501.6 151.7 C506.8 151.7 513.8 152.3 519.3 153 C524.8 153.7 530.3 154.5 534.8 155.9 C539.3 157.3 543.6 160.2 546.4 161.7 C549.1 163.1 548.4 164.4 551.3 164.6 C554.2 164.8 559.8 163.7 563.8 162.7 C567.8 161.7 572.3 160.6 575.5 158.8 C578.7 157 580.3 152.9 583.2 152.1 C586.1 151.3 589.4 153 592.9 154 C596.4 155 601.3 156.1 604.5 157.9 C607.7 159.7 610.6 162.8 612.2 164.6 C613.8 166.4 612.5 167.5 614.1 168.5 C615.8 169.5 620.8 170.2 622.1 170.5" fill="none" transform="translate(0 12.8)" stroke="#4a4340" stroke-width="0.5" opacity="0.4"/>
</g>
<path d="M471.1 140.7 C473.9 140.8 483.8 140.7 488 141 C492.2 141.3 494.2 142.5 496.5 142.4 C498.8 142.3 500.1 141 501.6 140.4 C503.2 139.8 502.8 139.2 505.8 139.1 C508.7 138.9 514.5 139.1 519.3 139.5 C524.1 139.9 530.6 140.4 534.8 141.4 C539 142.4 542.1 143.7 544.5 145.3 C546.9 146.9 548.2 149.7 549.3 151.1 C550.4 152.5 548.9 153.7 551.3 154 C553.7 154.3 559.8 153.7 563.8 153 C567.8 152.3 572.8 151.2 575.5 150.1 C578.2 149 579 148.4 580.3 146.3 C581.6 144.2 581.1 138.9 583.2 137.6 C585.3 136.3 589.4 137.7 592.9 138.5 C596.4 139.3 601.6 140.6 604.5 142.4 C607.4 144.2 608.7 145 610.3 149.2 C611.9 153.4 613.5 164.4 614.1 167.5" fill="none" stroke="#3c3836" stroke-width="0.9"/>
<line x1="471.1" y1="140.7" x2="471.1" y2="153.4" stroke="#6a625e" stroke-width="0.7"/>
<line x1="433.5" y1="229.1" x2="433.5" y2="125.6" stroke="#4d4d4d" stroke-width="0.6"/>
<line x1="433.5" y1="229.1" x2="577.2" y2="237" stroke="#4d4d4d" stroke-width="0.6"/>
<line x1="577.2" y1="237" x2="614.7" y2="210.3" stroke="#4d4d4d" stroke-width="0.6"/>
<line x1="433.5" y1="229.1" x2="429.7" y2="229.1" stroke="#4d4d4d" stroke-width="0.6"/>
<text x="425.1" y="232.1" font-size="8.3" text-anchor="end" fill="#4a4a4a"  >0</text>
<line x1="433.5" y1="206.6" x2="429.7" y2="206.6" stroke="#4d4d4d" stroke-width="0.6"/>
<text x="425.1" y="209.6" font-size="8.3" text-anchor="end" fill="#4a4a4a"  >5</text>
<line x1="433.5" y1="184.1" x2="429.7" y2="184.1" stroke="#4d4d4d" stroke-width="0.6"/>
<text x="425.1" y="187.1" font-size="8.3" text-anchor="end" fill="#4a4a4a"  >10</text>
<line x1="433.5" y1="161.6" x2="429.7" y2="161.6" stroke="#4d4d4d" stroke-width="0.6"/>
<text x="425.1" y="164.6" font-size="8.3" text-anchor="end" fill="#4a4a4a"  >15</text>
<line x1="433.5" y1="139.1" x2="429.7" y2="139.1" stroke="#4d4d4d" stroke-width="0.6"/>
<text x="425.1" y="142.1" font-size="8.3" text-anchor="end" fill="#4a4a4a"  >20</text>
<line x1="577.2" y1="237" x2="574.8" y2="238.7" stroke="#4d4d4d" stroke-width="0.6"/>
<text x="567.6" y="249" font-size="8.3" text-anchor="middle" fill="#4a4a4a"  >0</text>
<line x1="545.3" y1="235.2" x2="542.9" y2="236.9" stroke="#4d4d4d" stroke-width="0.6"/>
<text x="535.7" y="247.2" font-size="8.3" text-anchor="middle" fill="#4a4a4a"  >2</text>
<line x1="513.3" y1="233.5" x2="510.9" y2="235.2" stroke="#4d4d4d" stroke-width="0.6"/>
<text x="503.7" y="245.5" font-size="8.3" text-anchor="middle" fill="#4a4a4a"  >4</text>
<line x1="481.4" y1="231.7" x2="479" y2="233.4" stroke="#4d4d4d" stroke-width="0.6"/>
<text x="471.8" y="243.7" font-size="8.3" text-anchor="middle" fill="#4a4a4a"  >6</text>
<line x1="449.5" y1="230" x2="447.1" y2="231.7" stroke="#4d4d4d" stroke-width="0.6"/>
<text x="439.9" y="242" font-size="8.3" text-anchor="middle" fill="#4a4a4a"  >8</text>
<line x1="577.2" y1="237" x2="573.8" y2="237.8" stroke="#4d4d4d" stroke-width="0.6"/>
<text x="585.8" y="246" font-size="8.3" text-anchor="middle" fill="#4a4a4a"  >-1</text>
<line x1="586.6" y1="230.3" x2="583.2" y2="231.1" stroke="#4d4d4d" stroke-width="0.6"/>
<text x="595.2" y="239.3" font-size="8.3" text-anchor="middle" fill="#4a4a4a"  >0</text>
<line x1="596" y1="223.7" x2="592.6" y2="224.5" stroke="#4d4d4d" stroke-width="0.6"/>
<text x="604.6" y="232.6" font-size="8.3" text-anchor="middle" fill="#4a4a4a"  >1</text>
<line x1="605.3" y1="217" x2="601.9" y2="217.8" stroke="#4d4d4d" stroke-width="0.6"/>
<text x="613.9" y="226" font-size="8.3" text-anchor="middle" fill="#4a4a4a"  >2</text>
<line x1="614.7" y1="210.3" x2="611.3" y2="211.1" stroke="#4d4d4d" stroke-width="0.6"/>
<text x="623.3" y="219.3" font-size="8.3" text-anchor="middle" fill="#4a4a4a"  >3</text>
<text x="510.2" y="259" font-size="12.0" text-anchor="middle" class="m" fill="#222" textLength="24" lengthAdjust="spacing"><tspan font-style="italic">t</tspan> [h]</text>
<text x="621.5" y="254.8" font-size="12.0" text-anchor="middle" class="m" fill="#222" textLength="29" lengthAdjust="spacing"><tspan font-style="italic">z</tspan> [m]</text>
<text x="406.7" y="181.6" font-size="12.0" text-anchor="middle" class="m" fill="#222" transform="rotate(-90 406.7 178)" textLength="100" lengthAdjust="spacing"><tspan font-style="italic">X</tspan><tspan font-size="70%" dy="2">OHO</tspan><tspan dy="-2">&#8203;</tspan>(<tspan font-style="italic">z</tspan>, <tspan font-style="italic">t</tspan>) [kg/m<tspan font-size="70%" dy="-4">3</tspan><tspan dy="4">&#8203;</tspan>]</text>
</g>
<clipPath id="c3"><rect x="180" y="253.9" width="234.6" height="190"/></clipPath>
<g clip-path="url(#c3)">
<line x1="227.6" y1="398" x2="265.1" y2="371.3" stroke="#e2e2e2" stroke-width="0.5"/>
<line x1="227.6" y1="375.5" x2="265.1" y2="348.8" stroke="#e2e2e2" stroke-width="0.5"/>
<line x1="227.6" y1="353" x2="265.1" y2="326.3" stroke="#e2e2e2" stroke-width="0.5"/>
<line x1="227.6" y1="330.5" x2="265.1" y2="303.8" stroke="#e2e2e2" stroke-width="0.5"/>
<line x1="227.6" y1="308" x2="265.1" y2="281.3" stroke="#e2e2e2" stroke-width="0.5"/>
<line x1="237" y1="391.3" x2="237" y2="287.8" stroke="#e2e2e2" stroke-width="0.5"/>
<line x1="246.3" y1="384.6" x2="246.3" y2="281.1" stroke="#e2e2e2" stroke-width="0.5"/>
<line x1="255.7" y1="378" x2="255.7" y2="274.5" stroke="#e2e2e2" stroke-width="0.5"/>
<line x1="265.1" y1="371.3" x2="265.1" y2="267.8" stroke="#e2e2e2" stroke-width="0.5"/>
<line x1="265.1" y1="371.3" x2="408.8" y2="379.2" stroke="#e2e2e2" stroke-width="0.5"/>
<line x1="265.1" y1="348.8" x2="408.8" y2="356.7" stroke="#e2e2e2" stroke-width="0.5"/>
<line x1="265.1" y1="326.3" x2="408.8" y2="334.2" stroke="#e2e2e2" stroke-width="0.5"/>
<line x1="265.1" y1="303.8" x2="408.8" y2="311.7" stroke="#e2e2e2" stroke-width="0.5"/>
<line x1="265.1" y1="281.3" x2="408.8" y2="289.2" stroke="#e2e2e2" stroke-width="0.5"/>
<line x1="408.8" y1="379.2" x2="408.8" y2="275.7" stroke="#e2e2e2" stroke-width="0.5"/>
<line x1="376.9" y1="377.4" x2="376.9" y2="273.9" stroke="#e2e2e2" stroke-width="0.5"/>
<line x1="344.9" y1="375.7" x2="344.9" y2="272.2" stroke="#e2e2e2" stroke-width="0.5"/>
<line x1="313" y1="373.9" x2="313" y2="270.4" stroke="#e2e2e2" stroke-width="0.5"/>
<line x1="281.1" y1="372.2" x2="281.1" y2="268.7" stroke="#e2e2e2" stroke-width="0.5"/>
<line x1="371.3" y1="405.9" x2="408.8" y2="379.2" stroke="#e2e2e2" stroke-width="0.5"/>
<line x1="339.4" y1="404.1" x2="376.9" y2="377.4" stroke="#e2e2e2" stroke-width="0.5"/>
<line x1="307.4" y1="402.4" x2="344.9" y2="375.7" stroke="#e2e2e2" stroke-width="0.5"/>
<line x1="275.5" y1="400.6" x2="313" y2="373.9" stroke="#e2e2e2" stroke-width="0.5"/>
<line x1="243.6" y1="398.9" x2="281.1" y2="372.2" stroke="#e2e2e2" stroke-width="0.5"/>
<line x1="380.7" y1="399.2" x2="237" y2="391.3" stroke="#e2e2e2" stroke-width="0.5"/>
<line x1="390.1" y1="392.6" x2="246.3" y2="384.6" stroke="#e2e2e2" stroke-width="0.5"/>
<line x1="399.4" y1="385.9" x2="255.7" y2="378" stroke="#e2e2e2" stroke-width="0.5"/>
<polygon points="227.6,398 371.3,405.9 384.9,396.2 384,393.7 371.3,388.6 357.7,385.2 340.8,381.9 331.5,378.5 245.9,379.9 237.4,391" fill="#FDCA8C" stroke="none" stroke-width="0" />
<polygon points="236.5,390.7 316.3,395.3 316.3,396.2 236.5,391.6" fill="#FFE6C6" stroke="none" stroke-width="0" />
<polygon points="236.5,390.7 316.3,395.3 331.5,378.5 245.9,379.9" fill="#FCC88A" stroke="none" stroke-width="0" />
<clipPath id="b3"><path d="M265 343.2 L279.2 340.9 L297.5 339.3 L312.1 340.9 L329.5 343.6 L334.5 344.7 L341.8 348.3 L346.1 351.2 L362.1 351.2 L373.7 349.7 L377.3 346.8 L388.2 348.3 L399.8 351.2 L405.6 355.5 L407.8 361.4 L407.9 361.4 L407.9 362.4 L383.8 394 L384 393.7 L371.3 388.6 L357.7 385.2 L340.8 381.9 L331.5 378.5 L245.9 379.9 L246.3 379.9 L246.3 373.2 L252.1 366.4 L259.8 358.7 L265 348 Z"/></clipPath>
<clipPath id="pzc3"><path d="M246.3 375.9 C251.9 375.8 269.4 375.7 280 375.4 C290.6 375.1 302.5 374.6 310 373.9 C317.5 373.1 321.1 371.8 325 370.9 C328.9 370 330 368.1 333.3 368.4 C336.6 368.7 340.5 370.6 345 372.9 C349.5 375.1 355.9 379.5 360.4 381.9 C364.9 384.3 368.6 385.7 372 387.4 C375.4 389.1 379 390.6 381 391.9 C383 393.1 383.5 394.4 384 394.9 L384 393.7 L371.3 388.6 L357.7 385.2 L340.8 381.9 L331.5 378.5 L245.9 379.9 Z"/></clipPath>
<g clip-path="url(#b3)">
<rect x="240" y="263.9" width="200" height="140" fill="#ecb993"/>
<path d="M240 348.3 C244.2 348.1 258.5 347.9 265 347.3 C271.5 346.8 273.8 345.6 279.2 345 C284.6 344.4 292 343.4 297.5 343.4 C303 343.4 306.8 344.3 312.1 345 C317.4 345.7 325.8 347.1 329.5 347.7 C333.2 348.3 332.4 348 334.5 348.8 C336.6 349.6 339.9 351.3 341.8 352.4 C343.7 353.5 342.7 354.8 346.1 355.3 C349.5 355.8 357.5 355.6 362.1 355.3 C366.7 355.1 371.2 354.5 373.7 353.8 C376.2 353.1 374.9 351.1 377.3 350.9 C379.7 350.7 384.4 351.7 388.2 352.4 C391.9 353.1 396.9 354.1 399.8 355.3 C402.7 356.5 404.2 358.5 405.6 359.6 C407 360.8 406.2 361.4 407.9 362.2 C409.6 363 414.6 363.9 415.9 364.2" fill="none" transform="translate(0 51)" stroke="#ecb993" stroke-width="3.4"/>
<path d="M240 348.3 C244.2 348.1 258.5 347.9 265 347.3 C271.5 346.8 273.8 345.6 279.2 345 C284.6 344.4 292 343.4 297.5 343.4 C303 343.4 306.8 344.3 312.1 345 C317.4 345.7 325.8 347.1 329.5 347.7 C333.2 348.3 332.4 348 334.5 348.8 C336.6 349.6 339.9 351.3 341.8 352.4 C343.7 353.5 342.7 354.8 346.1 355.3 C349.5 355.8 357.5 355.6 362.1 355.3 C366.7 355.1 371.2 354.5 373.7 353.8 C376.2 353.1 374.9 351.1 377.3 350.9 C379.7 350.7 384.4 351.7 388.2 352.4 C391.9 353.1 396.9 354.1 399.8 355.3 C402.7 356.5 404.2 358.5 405.6 359.6 C407 360.8 406.2 361.4 407.9 362.2 C409.6 363 414.6 363.9 415.9 364.2" fill="none" transform="translate(0 49.3)" stroke="#ecb993" stroke-width="3.4"/>
<path d="M240 348.3 C244.2 348.1 258.5 347.9 265 347.3 C271.5 346.8 273.8 345.6 279.2 345 C284.6 344.4 292 343.4 297.5 343.4 C303 343.4 306.8 344.3 312.1 345 C317.4 345.7 325.8 347.1 329.5 347.7 C333.2 348.3 332.4 348 334.5 348.8 C336.6 349.6 339.9 351.3 341.8 352.4 C343.7 353.5 342.7 354.8 346.1 355.3 C349.5 355.8 357.5 355.6 362.1 355.3 C366.7 355.1 371.2 354.5 373.7 353.8 C376.2 353.1 374.9 351.1 377.3 350.9 C379.7 350.7 384.4 351.7 388.2 352.4 C391.9 353.1 396.9 354.1 399.8 355.3 C402.7 356.5 404.2 358.5 405.6 359.6 C407 360.8 406.2 361.4 407.9 362.2 C409.6 363 414.6 363.9 415.9 364.2" fill="none" transform="translate(0 47.6)" stroke="#ecb993" stroke-width="3.4"/>
<path d="M240 348.3 C244.2 348.1 258.5 347.9 265 347.3 C271.5 346.8 273.8 345.6 279.2 345 C284.6 344.4 292 343.4 297.5 343.4 C303 343.4 306.8 344.3 312.1 345 C317.4 345.7 325.8 347.1 329.5 347.7 C333.2 348.3 332.4 348 334.5 348.8 C336.6 349.6 339.9 351.3 341.8 352.4 C343.7 353.5 342.7 354.8 346.1 355.3 C349.5 355.8 357.5 355.6 362.1 355.3 C366.7 355.1 371.2 354.5 373.7 353.8 C376.2 353.1 374.9 351.1 377.3 350.9 C379.7 350.7 384.4 351.7 388.2 352.4 C391.9 353.1 396.9 354.1 399.8 355.3 C402.7 356.5 404.2 358.5 405.6 359.6 C407 360.8 406.2 361.4 407.9 362.2 C409.6 363 414.6 363.9 415.9 364.2" fill="none" transform="translate(0 45.9)" stroke="#ecb993" stroke-width="3.4"/>
<path d="M240 348.3 C244.2 348.1 258.5 347.9 265 347.3 C271.5 346.8 273.8 345.6 279.2 345 C284.6 344.4 292 343.4 297.5 343.4 C303 343.4 306.8 344.3 312.1 345 C317.4 345.7 325.8 347.1 329.5 347.7 C333.2 348.3 332.4 348 334.5 348.8 C336.6 349.6 339.9 351.3 341.8 352.4 C343.7 353.5 342.7 354.8 346.1 355.3 C349.5 355.8 357.5 355.6 362.1 355.3 C366.7 355.1 371.2 354.5 373.7 353.8 C376.2 353.1 374.9 351.1 377.3 350.9 C379.7 350.7 384.4 351.7 388.2 352.4 C391.9 353.1 396.9 354.1 399.8 355.3 C402.7 356.5 404.2 358.5 405.6 359.6 C407 360.8 406.2 361.4 407.9 362.2 C409.6 363 414.6 363.9 415.9 364.2" fill="none" transform="translate(0 44.2)" stroke="#ecb993" stroke-width="3.4"/>
<path d="M240 348.3 C244.2 348.1 258.5 347.9 265 347.3 C271.5 346.8 273.8 345.6 279.2 345 C284.6 344.4 292 343.4 297.5 343.4 C303 343.4 306.8 344.3 312.1 345 C317.4 345.7 325.8 347.1 329.5 347.7 C333.2 348.3 332.4 348 334.5 348.8 C336.6 349.6 339.9 351.3 341.8 352.4 C343.7 353.5 342.7 354.8 346.1 355.3 C349.5 355.8 357.5 355.6 362.1 355.3 C366.7 355.1 371.2 354.5 373.7 353.8 C376.2 353.1 374.9 351.1 377.3 350.9 C379.7 350.7 384.4 351.7 388.2 352.4 C391.9 353.1 396.9 354.1 399.8 355.3 C402.7 356.5 404.2 358.5 405.6 359.6 C407 360.8 406.2 361.4 407.9 362.2 C409.6 363 414.6 363.9 415.9 364.2" fill="none" transform="translate(0 42.5)" stroke="#ecb993" stroke-width="3.4"/>
<path d="M240 348.3 C244.2 348.1 258.5 347.9 265 347.3 C271.5 346.8 273.8 345.6 279.2 345 C284.6 344.4 292 343.4 297.5 343.4 C303 343.4 306.8 344.3 312.1 345 C317.4 345.7 325.8 347.1 329.5 347.7 C333.2 348.3 332.4 348 334.5 348.8 C336.6 349.6 339.9 351.3 341.8 352.4 C343.7 353.5 342.7 354.8 346.1 355.3 C349.5 355.8 357.5 355.6 362.1 355.3 C366.7 355.1 371.2 354.5 373.7 353.8 C376.2 353.1 374.9 351.1 377.3 350.9 C379.7 350.7 384.4 351.7 388.2 352.4 C391.9 353.1 396.9 354.1 399.8 355.3 C402.7 356.5 404.2 358.5 405.6 359.6 C407 360.8 406.2 361.4 407.9 362.2 C409.6 363 414.6 363.9 415.9 364.2" fill="none" transform="translate(0 40.8)" stroke="#ecb993" stroke-width="3.4"/>
<path d="M240 348.3 C244.2 348.1 258.5 347.9 265 347.3 C271.5 346.8 273.8 345.6 279.2 345 C284.6 344.4 292 343.4 297.5 343.4 C303 343.4 306.8 344.3 312.1 345 C317.4 345.7 325.8 347.1 329.5 347.7 C333.2 348.3 332.4 348 334.5 348.8 C336.6 349.6 339.9 351.3 341.8 352.4 C343.7 353.5 342.7 354.8 346.1 355.3 C349.5 355.8 357.5 355.6 362.1 355.3 C366.7 355.1 371.2 354.5 373.7 353.8 C376.2 353.1 374.9 351.1 377.3 350.9 C379.7 350.7 384.4 351.7 388.2 352.4 C391.9 353.1 396.9 354.1 399.8 355.3 C402.7 356.5 404.2 358.5 405.6 359.6 C407 360.8 406.2 361.4 407.9 362.2 C409.6 363 414.6 363.9 415.9 364.2" fill="none" transform="translate(0 39.1)" stroke="#ecb993" stroke-width="3.4"/>
<path d="M240 348.3 C244.2 348.1 258.5 347.9 265 347.3 C271.5 346.8 273.8 345.6 279.2 345 C284.6 344.4 292 343.4 297.5 343.4 C303 343.4 306.8 344.3 312.1 345 C317.4 345.7 325.8 347.1 329.5 347.7 C333.2 348.3 332.4 348 334.5 348.8 C336.6 349.6 339.9 351.3 341.8 352.4 C343.7 353.5 342.7 354.8 346.1 355.3 C349.5 355.8 357.5 355.6 362.1 355.3 C366.7 355.1 371.2 354.5 373.7 353.8 C376.2 353.1 374.9 351.1 377.3 350.9 C379.7 350.7 384.4 351.7 388.2 352.4 C391.9 353.1 396.9 354.1 399.8 355.3 C402.7 356.5 404.2 358.5 405.6 359.6 C407 360.8 406.2 361.4 407.9 362.2 C409.6 363 414.6 363.9 415.9 364.2" fill="none" transform="translate(0 37.4)" stroke="#ebb892" stroke-width="3.4"/>
<path d="M240 348.3 C244.2 348.1 258.5 347.9 265 347.3 C271.5 346.8 273.8 345.6 279.2 345 C284.6 344.4 292 343.4 297.5 343.4 C303 343.4 306.8 344.3 312.1 345 C317.4 345.7 325.8 347.1 329.5 347.7 C333.2 348.3 332.4 348 334.5 348.8 C336.6 349.6 339.9 351.3 341.8 352.4 C343.7 353.5 342.7 354.8 346.1 355.3 C349.5 355.8 357.5 355.6 362.1 355.3 C366.7 355.1 371.2 354.5 373.7 353.8 C376.2 353.1 374.9 351.1 377.3 350.9 C379.7 350.7 384.4 351.7 388.2 352.4 C391.9 353.1 396.9 354.1 399.8 355.3 C402.7 356.5 404.2 358.5 405.6 359.6 C407 360.8 406.2 361.4 407.9 362.2 C409.6 363 414.6 363.9 415.9 364.2" fill="none" transform="translate(0 35.7)" stroke="#ebb791" stroke-width="3.4"/>
<path d="M240 348.3 C244.2 348.1 258.5 347.9 265 347.3 C271.5 346.8 273.8 345.6 279.2 345 C284.6 344.4 292 343.4 297.5 343.4 C303 343.4 306.8 344.3 312.1 345 C317.4 345.7 325.8 347.1 329.5 347.7 C333.2 348.3 332.4 348 334.5 348.8 C336.6 349.6 339.9 351.3 341.8 352.4 C343.7 353.5 342.7 354.8 346.1 355.3 C349.5 355.8 357.5 355.6 362.1 355.3 C366.7 355.1 371.2 354.5 373.7 353.8 C376.2 353.1 374.9 351.1 377.3 350.9 C379.7 350.7 384.4 351.7 388.2 352.4 C391.9 353.1 396.9 354.1 399.8 355.3 C402.7 356.5 404.2 358.5 405.6 359.6 C407 360.8 406.2 361.4 407.9 362.2 C409.6 363 414.6 363.9 415.9 364.2" fill="none" transform="translate(0 34)" stroke="#eab691" stroke-width="3.4"/>
<path d="M240 348.3 C244.2 348.1 258.5 347.9 265 347.3 C271.5 346.8 273.8 345.6 279.2 345 C284.6 344.4 292 343.4 297.5 343.4 C303 343.4 306.8 344.3 312.1 345 C317.4 345.7 325.8 347.1 329.5 347.7 C333.2 348.3 332.4 348 334.5 348.8 C336.6 349.6 339.9 351.3 341.8 352.4 C343.7 353.5 342.7 354.8 346.1 355.3 C349.5 355.8 357.5 355.6 362.1 355.3 C366.7 355.1 371.2 354.5 373.7 353.8 C376.2 353.1 374.9 351.1 377.3 350.9 C379.7 350.7 384.4 351.7 388.2 352.4 C391.9 353.1 396.9 354.1 399.8 355.3 C402.7 356.5 404.2 358.5 405.6 359.6 C407 360.8 406.2 361.4 407.9 362.2 C409.6 363 414.6 363.9 415.9 364.2" fill="none" transform="translate(0 32.3)" stroke="#eab590" stroke-width="3.4"/>
<path d="M240 348.3 C244.2 348.1 258.5 347.9 265 347.3 C271.5 346.8 273.8 345.6 279.2 345 C284.6 344.4 292 343.4 297.5 343.4 C303 343.4 306.8 344.3 312.1 345 C317.4 345.7 325.8 347.1 329.5 347.7 C333.2 348.3 332.4 348 334.5 348.8 C336.6 349.6 339.9 351.3 341.8 352.4 C343.7 353.5 342.7 354.8 346.1 355.3 C349.5 355.8 357.5 355.6 362.1 355.3 C366.7 355.1 371.2 354.5 373.7 353.8 C376.2 353.1 374.9 351.1 377.3 350.9 C379.7 350.7 384.4 351.7 388.2 352.4 C391.9 353.1 396.9 354.1 399.8 355.3 C402.7 356.5 404.2 358.5 405.6 359.6 C407 360.8 406.2 361.4 407.9 362.2 C409.6 363 414.6 363.9 415.9 364.2" fill="none" transform="translate(0 30.6)" stroke="#e9b490" stroke-width="3.4"/>
<path d="M240 348.3 C244.2 348.1 258.5 347.9 265 347.3 C271.5 346.8 273.8 345.6 279.2 345 C284.6 344.4 292 343.4 297.5 343.4 C303 343.4 306.8 344.3 312.1 345 C317.4 345.7 325.8 347.1 329.5 347.7 C333.2 348.3 332.4 348 334.5 348.8 C336.6 349.6 339.9 351.3 341.8 352.4 C343.7 353.5 342.7 354.8 346.1 355.3 C349.5 355.8 357.5 355.6 362.1 355.3 C366.7 355.1 371.2 354.5 373.7 353.8 C376.2 353.1 374.9 351.1 377.3 350.9 C379.7 350.7 384.4 351.7 388.2 352.4 C391.9 353.1 396.9 354.1 399.8 355.3 C402.7 356.5 404.2 358.5 405.6 359.6 C407 360.8 406.2 361.4 407.9 362.2 C409.6 363 414.6 363.9 415.9 364.2" fill="none" transform="translate(0 28.9)" stroke="#e9b38f" stroke-width="3.4"/>
<path d="M240 348.3 C244.2 348.1 258.5 347.9 265 347.3 C271.5 346.8 273.8 345.6 279.2 345 C284.6 344.4 292 343.4 297.5 343.4 C303 343.4 306.8 344.3 312.1 345 C317.4 345.7 325.8 347.1 329.5 347.7 C333.2 348.3 332.4 348 334.5 348.8 C336.6 349.6 339.9 351.3 341.8 352.4 C343.7 353.5 342.7 354.8 346.1 355.3 C349.5 355.8 357.5 355.6 362.1 355.3 C366.7 355.1 371.2 354.5 373.7 353.8 C376.2 353.1 374.9 351.1 377.3 350.9 C379.7 350.7 384.4 351.7 388.2 352.4 C391.9 353.1 396.9 354.1 399.8 355.3 C402.7 356.5 404.2 358.5 405.6 359.6 C407 360.8 406.2 361.4 407.9 362.2 C409.6 363 414.6 363.9 415.9 364.2" fill="none" transform="translate(0 27.2)" stroke="#e8b38e" stroke-width="3.4"/>
<path d="M240 348.3 C244.2 348.1 258.5 347.9 265 347.3 C271.5 346.8 273.8 345.6 279.2 345 C284.6 344.4 292 343.4 297.5 343.4 C303 343.4 306.8 344.3 312.1 345 C317.4 345.7 325.8 347.1 329.5 347.7 C333.2 348.3 332.4 348 334.5 348.8 C336.6 349.6 339.9 351.3 341.8 352.4 C343.7 353.5 342.7 354.8 346.1 355.3 C349.5 355.8 357.5 355.6 362.1 355.3 C366.7 355.1 371.2 354.5 373.7 353.8 C376.2 353.1 374.9 351.1 377.3 350.9 C379.7 350.7 384.4 351.7 388.2 352.4 C391.9 353.1 396.9 354.1 399.8 355.3 C402.7 356.5 404.2 358.5 405.6 359.6 C407 360.8 406.2 361.4 407.9 362.2 C409.6 363 414.6 363.9 415.9 364.2" fill="none" transform="translate(0 25.5)" stroke="#e8b28e" stroke-width="3.4"/>
<path d="M240 348.3 C244.2 348.1 258.5 347.9 265 347.3 C271.5 346.8 273.8 345.6 279.2 345 C284.6 344.4 292 343.4 297.5 343.4 C303 343.4 306.8 344.3 312.1 345 C317.4 345.7 325.8 347.1 329.5 347.7 C333.2 348.3 332.4 348 334.5 348.8 C336.6 349.6 339.9 351.3 341.8 352.4 C343.7 353.5 342.7 354.8 346.1 355.3 C349.5 355.8 357.5 355.6 362.1 355.3 C366.7 355.1 371.2 354.5 373.7 353.8 C376.2 353.1 374.9 351.1 377.3 350.9 C379.7 350.7 384.4 351.7 388.2 352.4 C391.9 353.1 396.9 354.1 399.8 355.3 C402.7 356.5 404.2 358.5 405.6 359.6 C407 360.8 406.2 361.4 407.9 362.2 C409.6 363 414.6 363.9 415.9 364.2" fill="none" transform="translate(0 23.8)" stroke="#e6b08c" stroke-width="3.4"/>
<path d="M240 348.3 C244.2 348.1 258.5 347.9 265 347.3 C271.5 346.8 273.8 345.6 279.2 345 C284.6 344.4 292 343.4 297.5 343.4 C303 343.4 306.8 344.3 312.1 345 C317.4 345.7 325.8 347.1 329.5 347.7 C333.2 348.3 332.4 348 334.5 348.8 C336.6 349.6 339.9 351.3 341.8 352.4 C343.7 353.5 342.7 354.8 346.1 355.3 C349.5 355.8 357.5 355.6 362.1 355.3 C366.7 355.1 371.2 354.5 373.7 353.8 C376.2 353.1 374.9 351.1 377.3 350.9 C379.7 350.7 384.4 351.7 388.2 352.4 C391.9 353.1 396.9 354.1 399.8 355.3 C402.7 356.5 404.2 358.5 405.6 359.6 C407 360.8 406.2 361.4 407.9 362.2 C409.6 363 414.6 363.9 415.9 364.2" fill="none" transform="translate(0 22.1)" stroke="#e4ae8b" stroke-width="3.4"/>
<path d="M240 348.3 C244.2 348.1 258.5 347.9 265 347.3 C271.5 346.8 273.8 345.6 279.2 345 C284.6 344.4 292 343.4 297.5 343.4 C303 343.4 306.8 344.3 312.1 345 C317.4 345.7 325.8 347.1 329.5 347.7 C333.2 348.3 332.4 348 334.5 348.8 C336.6 349.6 339.9 351.3 341.8 352.4 C343.7 353.5 342.7 354.8 346.1 355.3 C349.5 355.8 357.5 355.6 362.1 355.3 C366.7 355.1 371.2 354.5 373.7 353.8 C376.2 353.1 374.9 351.1 377.3 350.9 C379.7 350.7 384.4 351.7 388.2 352.4 C391.9 353.1 396.9 354.1 399.8 355.3 C402.7 356.5 404.2 358.5 405.6 359.6 C407 360.8 406.2 361.4 407.9 362.2 C409.6 363 414.6 363.9 415.9 364.2" fill="none" transform="translate(0 20.4)" stroke="#e3ad8a" stroke-width="3.4"/>
<path d="M240 348.3 C244.2 348.1 258.5 347.9 265 347.3 C271.5 346.8 273.8 345.6 279.2 345 C284.6 344.4 292 343.4 297.5 343.4 C303 343.4 306.8 344.3 312.1 345 C317.4 345.7 325.8 347.1 329.5 347.7 C333.2 348.3 332.4 348 334.5 348.8 C336.6 349.6 339.9 351.3 341.8 352.4 C343.7 353.5 342.7 354.8 346.1 355.3 C349.5 355.8 357.5 355.6 362.1 355.3 C366.7 355.1 371.2 354.5 373.7 353.8 C376.2 353.1 374.9 351.1 377.3 350.9 C379.7 350.7 384.4 351.7 388.2 352.4 C391.9 353.1 396.9 354.1 399.8 355.3 C402.7 356.5 404.2 358.5 405.6 359.6 C407 360.8 406.2 361.4 407.9 362.2 C409.6 363 414.6 363.9 415.9 364.2" fill="none" transform="translate(0 18.7)" stroke="#e1ab88" stroke-width="3.4"/>
<path d="M240 348.3 C244.2 348.1 258.5 347.9 265 347.3 C271.5 346.8 273.8 345.6 279.2 345 C284.6 344.4 292 343.4 297.5 343.4 C303 343.4 306.8 344.3 312.1 345 C317.4 345.7 325.8 347.1 329.5 347.7 C333.2 348.3 332.4 348 334.5 348.8 C336.6 349.6 339.9 351.3 341.8 352.4 C343.7 353.5 342.7 354.8 346.1 355.3 C349.5 355.8 357.5 355.6 362.1 355.3 C366.7 355.1 371.2 354.5 373.7 353.8 C376.2 353.1 374.9 351.1 377.3 350.9 C379.7 350.7 384.4 351.7 388.2 352.4 C391.9 353.1 396.9 354.1 399.8 355.3 C402.7 356.5 404.2 358.5 405.6 359.6 C407 360.8 406.2 361.4 407.9 362.2 C409.6 363 414.6 363.9 415.9 364.2" fill="none" transform="translate(0 17)" stroke="#e0aa87" stroke-width="3.4"/>
<path d="M240 348.3 C244.2 348.1 258.5 347.9 265 347.3 C271.5 346.8 273.8 345.6 279.2 345 C284.6 344.4 292 343.4 297.5 343.4 C303 343.4 306.8 344.3 312.1 345 C317.4 345.7 325.8 347.1 329.5 347.7 C333.2 348.3 332.4 348 334.5 348.8 C336.6 349.6 339.9 351.3 341.8 352.4 C343.7 353.5 342.7 354.8 346.1 355.3 C349.5 355.8 357.5 355.6 362.1 355.3 C366.7 355.1 371.2 354.5 373.7 353.8 C376.2 353.1 374.9 351.1 377.3 350.9 C379.7 350.7 384.4 351.7 388.2 352.4 C391.9 353.1 396.9 354.1 399.8 355.3 C402.7 356.5 404.2 358.5 405.6 359.6 C407 360.8 406.2 361.4 407.9 362.2 C409.6 363 414.6 363.9 415.9 364.2" fill="none" transform="translate(0 15.3)" stroke="#dea885" stroke-width="3.4"/>
<path d="M240 348.3 C244.2 348.1 258.5 347.9 265 347.3 C271.5 346.8 273.8 345.6 279.2 345 C284.6 344.4 292 343.4 297.5 343.4 C303 343.4 306.8 344.3 312.1 345 C317.4 345.7 325.8 347.1 329.5 347.7 C333.2 348.3 332.4 348 334.5 348.8 C336.6 349.6 339.9 351.3 341.8 352.4 C343.7 353.5 342.7 354.8 346.1 355.3 C349.5 355.8 357.5 355.6 362.1 355.3 C366.7 355.1 371.2 354.5 373.7 353.8 C376.2 353.1 374.9 351.1 377.3 350.9 C379.7 350.7 384.4 351.7 388.2 352.4 C391.9 353.1 396.9 354.1 399.8 355.3 C402.7 356.5 404.2 358.5 405.6 359.6 C407 360.8 406.2 361.4 407.9 362.2 C409.6 363 414.6 363.9 415.9 364.2" fill="none" transform="translate(0 13.6)" stroke="#daa584" stroke-width="3.4"/>
<path d="M240 348.3 C244.2 348.1 258.5 347.9 265 347.3 C271.5 346.8 273.8 345.6 279.2 345 C284.6 344.4 292 343.4 297.5 343.4 C303 343.4 306.8 344.3 312.1 345 C317.4 345.7 325.8 347.1 329.5 347.7 C333.2 348.3 332.4 348 334.5 348.8 C336.6 349.6 339.9 351.3 341.8 352.4 C343.7 353.5 342.7 354.8 346.1 355.3 C349.5 355.8 357.5 355.6 362.1 355.3 C366.7 355.1 371.2 354.5 373.7 353.8 C376.2 353.1 374.9 351.1 377.3 350.9 C379.7 350.7 384.4 351.7 388.2 352.4 C391.9 353.1 396.9 354.1 399.8 355.3 C402.7 356.5 404.2 358.5 405.6 359.6 C407 360.8 406.2 361.4 407.9 362.2 C409.6 363 414.6 363.9 415.9 364.2" fill="none" transform="translate(0 11.9)" stroke="#d7a382" stroke-width="3.4"/>
<path d="M240 348.3 C244.2 348.1 258.5 347.9 265 347.3 C271.5 346.8 273.8 345.6 279.2 345 C284.6 344.4 292 343.4 297.5 343.4 C303 343.4 306.8 344.3 312.1 345 C317.4 345.7 325.8 347.1 329.5 347.7 C333.2 348.3 332.4 348 334.5 348.8 C336.6 349.6 339.9 351.3 341.8 352.4 C343.7 353.5 342.7 354.8 346.1 355.3 C349.5 355.8 357.5 355.6 362.1 355.3 C366.7 355.1 371.2 354.5 373.7 353.8 C376.2 353.1 374.9 351.1 377.3 350.9 C379.7 350.7 384.4 351.7 388.2 352.4 C391.9 353.1 396.9 354.1 399.8 355.3 C402.7 356.5 404.2 358.5 405.6 359.6 C407 360.8 406.2 361.4 407.9 362.2 C409.6 363 414.6 363.9 415.9 364.2" fill="none" transform="translate(0 10.2)" stroke="#d3a080" stroke-width="3.4"/>
<path d="M240 348.3 C244.2 348.1 258.5 347.9 265 347.3 C271.5 346.8 273.8 345.6 279.2 345 C284.6 344.4 292 343.4 297.5 343.4 C303 343.4 306.8 344.3 312.1 345 C317.4 345.7 325.8 347.1 329.5 347.7 C333.2 348.3 332.4 348 334.5 348.8 C336.6 349.6 339.9 351.3 341.8 352.4 C343.7 353.5 342.7 354.8 346.1 355.3 C349.5 355.8 357.5 355.6 362.1 355.3 C366.7 355.1 371.2 354.5 373.7 353.8 C376.2 353.1 374.9 351.1 377.3 350.9 C379.7 350.7 384.4 351.7 388.2 352.4 C391.9 353.1 396.9 354.1 399.8 355.3 C402.7 356.5 404.2 358.5 405.6 359.6 C407 360.8 406.2 361.4 407.9 362.2 C409.6 363 414.6 363.9 415.9 364.2" fill="none" transform="translate(0 8.5)" stroke="#d09e7e" stroke-width="3.4"/>
<path d="M240 348.3 C244.2 348.1 258.5 347.9 265 347.3 C271.5 346.8 273.8 345.6 279.2 345 C284.6 344.4 292 343.4 297.5 343.4 C303 343.4 306.8 344.3 312.1 345 C317.4 345.7 325.8 347.1 329.5 347.7 C333.2 348.3 332.4 348 334.5 348.8 C336.6 349.6 339.9 351.3 341.8 352.4 C343.7 353.5 342.7 354.8 346.1 355.3 C349.5 355.8 357.5 355.6 362.1 355.3 C366.7 355.1 371.2 354.5 373.7 353.8 C376.2 353.1 374.9 351.1 377.3 350.9 C379.7 350.7 384.4 351.7 388.2 352.4 C391.9 353.1 396.9 354.1 399.8 355.3 C402.7 356.5 404.2 358.5 405.6 359.6 C407 360.8 406.2 361.4 407.9 362.2 C409.6 363 414.6 363.9 415.9 364.2" fill="none" transform="translate(0 6.8)" stroke="#c99a7d" stroke-width="3.4"/>
<path d="M240 348.3 C244.2 348.1 258.5 347.9 265 347.3 C271.5 346.8 273.8 345.6 279.2 345 C284.6 344.4 292 343.4 297.5 343.4 C303 343.4 306.8 344.3 312.1 345 C317.4 345.7 325.8 347.1 329.5 347.7 C333.2 348.3 332.4 348 334.5 348.8 C336.6 349.6 339.9 351.3 341.8 352.4 C343.7 353.5 342.7 354.8 346.1 355.3 C349.5 355.8 357.5 355.6 362.1 355.3 C366.7 355.1 371.2 354.5 373.7 353.8 C376.2 353.1 374.9 351.1 377.3 350.9 C379.7 350.7 384.4 351.7 388.2 352.4 C391.9 353.1 396.9 354.1 399.8 355.3 C402.7 356.5 404.2 358.5 405.6 359.6 C407 360.8 406.2 361.4 407.9 362.2 C409.6 363 414.6 363.9 415.9 364.2" fill="none" transform="translate(0 5.1)" stroke="#c2977c" stroke-width="3.4"/>
<path d="M240 348.3 C244.2 348.1 258.5 347.9 265 347.3 C271.5 346.8 273.8 345.6 279.2 345 C284.6 344.4 292 343.4 297.5 343.4 C303 343.4 306.8 344.3 312.1 345 C317.4 345.7 325.8 347.1 329.5 347.7 C333.2 348.3 332.4 348 334.5 348.8 C336.6 349.6 339.9 351.3 341.8 352.4 C343.7 353.5 342.7 354.8 346.1 355.3 C349.5 355.8 357.5 355.6 362.1 355.3 C366.7 355.1 371.2 354.5 373.7 353.8 C376.2 353.1 374.9 351.1 377.3 350.9 C379.7 350.7 384.4 351.7 388.2 352.4 C391.9 353.1 396.9 354.1 399.8 355.3 C402.7 356.5 404.2 358.5 405.6 359.6 C407 360.8 406.2 361.4 407.9 362.2 C409.6 363 414.6 363.9 415.9 364.2" fill="none" transform="translate(0 3.4)" stroke="#ba937a" stroke-width="3.4"/>
<path d="M240 348.3 C244.2 348.1 258.5 347.9 265 347.3 C271.5 346.8 273.8 345.6 279.2 345 C284.6 344.4 292 343.4 297.5 343.4 C303 343.4 306.8 344.3 312.1 345 C317.4 345.7 325.8 347.1 329.5 347.7 C333.2 348.3 332.4 348 334.5 348.8 C336.6 349.6 339.9 351.3 341.8 352.4 C343.7 353.5 342.7 354.8 346.1 355.3 C349.5 355.8 357.5 355.6 362.1 355.3 C366.7 355.1 371.2 354.5 373.7 353.8 C376.2 353.1 374.9 351.1 377.3 350.9 C379.7 350.7 384.4 351.7 388.2 352.4 C391.9 353.1 396.9 354.1 399.8 355.3 C402.7 356.5 404.2 358.5 405.6 359.6 C407 360.8 406.2 361.4 407.9 362.2 C409.6 363 414.6 363.9 415.9 364.2" fill="none" transform="translate(0 1.7)" stroke="#af907d" stroke-width="3.4"/>
<path d="M240 348.3 C244.2 348.1 258.5 347.9 265 347.3 C271.5 346.8 273.8 345.6 279.2 345 C284.6 344.4 292 343.4 297.5 343.4 C303 343.4 306.8 344.3 312.1 345 C317.4 345.7 325.8 347.1 329.5 347.7 C333.2 348.3 332.4 348 334.5 348.8 C336.6 349.6 339.9 351.3 341.8 352.4 C343.7 353.5 342.7 354.8 346.1 355.3 C349.5 355.8 357.5 355.6 362.1 355.3 C366.7 355.1 371.2 354.5 373.7 353.8 C376.2 353.1 374.9 351.1 377.3 350.9 C379.7 350.7 384.4 351.7 388.2 352.4 C391.9 353.1 396.9 354.1 399.8 355.3 C402.7 356.5 404.2 358.5 405.6 359.6 C407 360.8 406.2 361.4 407.9 362.2 C409.6 363 414.6 363.9 415.9 364.2" fill="none" transform="translate(0 0)" stroke="#a38d80" stroke-width="3.4"/>
<g clip-path="url(#pzc3)">
<path d="M236.3 376.9 C238 376.7 239 376.1 246.3 375.9 C253.6 375.6 269.4 375.7 280 375.4 C290.6 375.1 302.5 374.6 310 373.9 C317.5 373.1 321.1 371.8 325 370.9 C328.9 370 330 368.1 333.3 368.4 C336.6 368.7 340.5 370.6 345 372.9 C349.5 375.1 355.9 379.5 360.4 381.9 C364.9 384.3 368.6 385.7 372 387.4 C375.4 389.1 379 390.6 381 391.9 C383 393.1 383.5 394.4 384 394.9" fill="none" transform="translate(0 57.5)" stroke="#fde4cc" stroke-width="3.4"/>
<path d="M236.3 376.9 C238 376.7 239 376.1 246.3 375.9 C253.6 375.6 269.4 375.7 280 375.4 C290.6 375.1 302.5 374.6 310 373.9 C317.5 373.1 321.1 371.8 325 370.9 C328.9 370 330 368.1 333.3 368.4 C336.6 368.7 340.5 370.6 345 372.9 C349.5 375.1 355.9 379.5 360.4 381.9 C364.9 384.3 368.6 385.7 372 387.4 C375.4 389.1 379 390.6 381 391.9 C383 393.1 383.5 394.4 384 394.9" fill="none" transform="translate(0 55.8)" stroke="#fde4cc" stroke-width="3.4"/>
<path d="M236.3 376.9 C238 376.7 239 376.1 246.3 375.9 C253.6 375.6 269.4 375.7 280 375.4 C290.6 375.1 302.5 374.6 310 373.9 C317.5 373.1 321.1 371.8 325 370.9 C328.9 370 330 368.1 333.3 368.4 C336.6 368.7 340.5 370.6 345 372.9 C349.5 375.1 355.9 379.5 360.4 381.9 C364.9 384.3 368.6 385.7 372 387.4 C375.4 389.1 379 390.6 381 391.9 C383 393.1 383.5 394.4 384 394.9" fill="none" transform="translate(0 54.1)" stroke="#fde4cc" stroke-width="3.4"/>
<path d="M236.3 376.9 C238 376.7 239 376.1 246.3 375.9 C253.6 375.6 269.4 375.7 280 375.4 C290.6 375.1 302.5 374.6 310 373.9 C317.5 373.1 321.1 371.8 325 370.9 C328.9 370 330 368.1 333.3 368.4 C336.6 368.7 340.5 370.6 345 372.9 C349.5 375.1 355.9 379.5 360.4 381.9 C364.9 384.3 368.6 385.7 372 387.4 C375.4 389.1 379 390.6 381 391.9 C383 393.1 383.5 394.4 384 394.9" fill="none" transform="translate(0 52.4)" stroke="#fde4cc" stroke-width="3.4"/>
<path d="M236.3 376.9 C238 376.7 239 376.1 246.3 375.9 C253.6 375.6 269.4 375.7 280 375.4 C290.6 375.1 302.5 374.6 310 373.9 C317.5 373.1 321.1 371.8 325 370.9 C328.9 370 330 368.1 333.3 368.4 C336.6 368.7 340.5 370.6 345 372.9 C349.5 375.1 355.9 379.5 360.4 381.9 C364.9 384.3 368.6 385.7 372 387.4 C375.4 389.1 379 390.6 381 391.9 C383 393.1 383.5 394.4 384 394.9" fill="none" transform="translate(0 50.7)" stroke="#fde4cc" stroke-width="3.4"/>
<path d="M236.3 376.9 C238 376.7 239 376.1 246.3 375.9 C253.6 375.6 269.4 375.7 280 375.4 C290.6 375.1 302.5 374.6 310 373.9 C317.5 373.1 321.1 371.8 325 370.9 C328.9 370 330 368.1 333.3 368.4 C336.6 368.7 340.5 370.6 345 372.9 C349.5 375.1 355.9 379.5 360.4 381.9 C364.9 384.3 368.6 385.7 372 387.4 C375.4 389.1 379 390.6 381 391.9 C383 393.1 383.5 394.4 384 394.9" fill="none" transform="translate(0 49)" stroke="#fde4cc" stroke-width="3.4"/>
<path d="M236.3 376.9 C238 376.7 239 376.1 246.3 375.9 C253.6 375.6 269.4 375.7 280 375.4 C290.6 375.1 302.5 374.6 310 373.9 C317.5 373.1 321.1 371.8 325 370.9 C328.9 370 330 368.1 333.3 368.4 C336.6 368.7 340.5 370.6 345 372.9 C349.5 375.1 355.9 379.5 360.4 381.9 C364.9 384.3 368.6 385.7 372 387.4 C375.4 389.1 379 390.6 381 391.9 C383 393.1 383.5 394.4 384 394.9" fill="none" transform="translate(0 47.3)" stroke="#fde4cc" stroke-width="3.4"/>
<path d="M236.3 376.9 C238 376.7 239 376.1 246.3 375.9 C253.6 375.6 269.4 375.7 280 375.4 C290.6 375.1 302.5 374.6 310 373.9 C317.5 373.1 321.1 371.8 325 370.9 C328.9 370 330 368.1 333.3 368.4 C336.6 368.7 340.5 370.6 345 372.9 C349.5 375.1 355.9 379.5 360.4 381.9 C364.9 384.3 368.6 385.7 372 387.4 C375.4 389.1 379 390.6 381 391.9 C383 393.1 383.5 394.4 384 394.9" fill="none" transform="translate(0 45.6)" stroke="#fde4cc" stroke-width="3.4"/>
<path d="M236.3 376.9 C238 376.7 239 376.1 246.3 375.9 C253.6 375.6 269.4 375.7 280 375.4 C290.6 375.1 302.5 374.6 310 373.9 C317.5 373.1 321.1 371.8 325 370.9 C328.9 370 330 368.1 333.3 368.4 C336.6 368.7 340.5 370.6 345 372.9 C349.5 375.1 355.9 379.5 360.4 381.9 C364.9 384.3 368.6 385.7 372 387.4 C375.4 389.1 379 390.6 381 391.9 C383 393.1 383.5 394.4 384 394.9" fill="none" transform="translate(0 43.9)" stroke="#fde4cc" stroke-width="3.4"/>
<path d="M236.3 376.9 C238 376.7 239 376.1 246.3 375.9 C253.6 375.6 269.4 375.7 280 375.4 C290.6 375.1 302.5 374.6 310 373.9 C317.5 373.1 321.1 371.8 325 370.9 C328.9 370 330 368.1 333.3 368.4 C336.6 368.7 340.5 370.6 345 372.9 C349.5 375.1 355.9 379.5 360.4 381.9 C364.9 384.3 368.6 385.7 372 387.4 C375.4 389.1 379 390.6 381 391.9 C383 393.1 383.5 394.4 384 394.9" fill="none" transform="translate(0 42.2)" stroke="#fde4cc" stroke-width="3.4"/>
<path d="M236.3 376.9 C238 376.7 239 376.1 246.3 375.9 C253.6 375.6 269.4 375.7 280 375.4 C290.6 375.1 302.5 374.6 310 373.9 C317.5 373.1 321.1 371.8 325 370.9 C328.9 370 330 368.1 333.3 368.4 C336.6 368.7 340.5 370.6 345 372.9 C349.5 375.1 355.9 379.5 360.4 381.9 C364.9 384.3 368.6 385.7 372 387.4 C375.4 389.1 379 390.6 381 391.9 C383 393.1 383.5 394.4 384 394.9" fill="none" transform="translate(0 40.5)" stroke="#fde4cc" stroke-width="3.4"/>
<path d="M236.3 376.9 C238 376.7 239 376.1 246.3 375.9 C253.6 375.6 269.4 375.7 280 375.4 C290.6 375.1 302.5 374.6 310 373.9 C317.5 373.1 321.1 371.8 325 370.9 C328.9 370 330 368.1 333.3 368.4 C336.6 368.7 340.5 370.6 345 372.9 C349.5 375.1 355.9 379.5 360.4 381.9 C364.9 384.3 368.6 385.7 372 387.4 C375.4 389.1 379 390.6 381 391.9 C383 393.1 383.5 394.4 384 394.9" fill="none" transform="translate(0 38.8)" stroke="#fde4cc" stroke-width="3.4"/>
<path d="M236.3 376.9 C238 376.7 239 376.1 246.3 375.9 C253.6 375.6 269.4 375.7 280 375.4 C290.6 375.1 302.5 374.6 310 373.9 C317.5 373.1 321.1 371.8 325 370.9 C328.9 370 330 368.1 333.3 368.4 C336.6 368.7 340.5 370.6 345 372.9 C349.5 375.1 355.9 379.5 360.4 381.9 C364.9 384.3 368.6 385.7 372 387.4 C375.4 389.1 379 390.6 381 391.9 C383 393.1 383.5 394.4 384 394.9" fill="none" transform="translate(0 37.1)" stroke="#fde4cc" stroke-width="3.4"/>
<path d="M236.3 376.9 C238 376.7 239 376.1 246.3 375.9 C253.6 375.6 269.4 375.7 280 375.4 C290.6 375.1 302.5 374.6 310 373.9 C317.5 373.1 321.1 371.8 325 370.9 C328.9 370 330 368.1 333.3 368.4 C336.6 368.7 340.5 370.6 345 372.9 C349.5 375.1 355.9 379.5 360.4 381.9 C364.9 384.3 368.6 385.7 372 387.4 C375.4 389.1 379 390.6 381 391.9 C383 393.1 383.5 394.4 384 394.9" fill="none" transform="translate(0 35.4)" stroke="#fde4cc" stroke-width="3.4"/>
<path d="M236.3 376.9 C238 376.7 239 376.1 246.3 375.9 C253.6 375.6 269.4 375.7 280 375.4 C290.6 375.1 302.5 374.6 310 373.9 C317.5 373.1 321.1 371.8 325 370.9 C328.9 370 330 368.1 333.3 368.4 C336.6 368.7 340.5 370.6 345 372.9 C349.5 375.1 355.9 379.5 360.4 381.9 C364.9 384.3 368.6 385.7 372 387.4 C375.4 389.1 379 390.6 381 391.9 C383 393.1 383.5 394.4 384 394.9" fill="none" transform="translate(0 33.7)" stroke="#fde4cc" stroke-width="3.4"/>
<path d="M236.3 376.9 C238 376.7 239 376.1 246.3 375.9 C253.6 375.6 269.4 375.7 280 375.4 C290.6 375.1 302.5 374.6 310 373.9 C317.5 373.1 321.1 371.8 325 370.9 C328.9 370 330 368.1 333.3 368.4 C336.6 368.7 340.5 370.6 345 372.9 C349.5 375.1 355.9 379.5 360.4 381.9 C364.9 384.3 368.6 385.7 372 387.4 C375.4 389.1 379 390.6 381 391.9 C383 393.1 383.5 394.4 384 394.9" fill="none" transform="translate(0 32)" stroke="#fde4cc" stroke-width="3.4"/>
<path d="M236.3 376.9 C238 376.7 239 376.1 246.3 375.9 C253.6 375.6 269.4 375.7 280 375.4 C290.6 375.1 302.5 374.6 310 373.9 C317.5 373.1 321.1 371.8 325 370.9 C328.9 370 330 368.1 333.3 368.4 C336.6 368.7 340.5 370.6 345 372.9 C349.5 375.1 355.9 379.5 360.4 381.9 C364.9 384.3 368.6 385.7 372 387.4 C375.4 389.1 379 390.6 381 391.9 C383 393.1 383.5 394.4 384 394.9" fill="none" transform="translate(0 30.3)" stroke="#fde4cc" stroke-width="3.4"/>
<path d="M236.3 376.9 C238 376.7 239 376.1 246.3 375.9 C253.6 375.6 269.4 375.7 280 375.4 C290.6 375.1 302.5 374.6 310 373.9 C317.5 373.1 321.1 371.8 325 370.9 C328.9 370 330 368.1 333.3 368.4 C336.6 368.7 340.5 370.6 345 372.9 C349.5 375.1 355.9 379.5 360.4 381.9 C364.9 384.3 368.6 385.7 372 387.4 C375.4 389.1 379 390.6 381 391.9 C383 393.1 383.5 394.4 384 394.9" fill="none" transform="translate(0 28.6)" stroke="#fde4cc" stroke-width="3.4"/>
<path d="M236.3 376.9 C238 376.7 239 376.1 246.3 375.9 C253.6 375.6 269.4 375.7 280 375.4 C290.6 375.1 302.5 374.6 310 373.9 C317.5 373.1 321.1 371.8 325 370.9 C328.9 370 330 368.1 333.3 368.4 C336.6 368.7 340.5 370.6 345 372.9 C349.5 375.1 355.9 379.5 360.4 381.9 C364.9 384.3 368.6 385.7 372 387.4 C375.4 389.1 379 390.6 381 391.9 C383 393.1 383.5 394.4 384 394.9" fill="none" transform="translate(0 26.9)" stroke="#fde4cc" stroke-width="3.4"/>
<path d="M236.3 376.9 C238 376.7 239 376.1 246.3 375.9 C253.6 375.6 269.4 375.7 280 375.4 C290.6 375.1 302.5 374.6 310 373.9 C317.5 373.1 321.1 371.8 325 370.9 C328.9 370 330 368.1 333.3 368.4 C336.6 368.7 340.5 370.6 345 372.9 C349.5 375.1 355.9 379.5 360.4 381.9 C364.9 384.3 368.6 385.7 372 387.4 C375.4 389.1 379 390.6 381 391.9 C383 393.1 383.5 394.4 384 394.9" fill="none" transform="translate(0 25.2)" stroke="#fde4cc" stroke-width="3.4"/>
<path d="M236.3 376.9 C238 376.7 239 376.1 246.3 375.9 C253.6 375.6 269.4 375.7 280 375.4 C290.6 375.1 302.5 374.6 310 373.9 C317.5 373.1 321.1 371.8 325 370.9 C328.9 370 330 368.1 333.3 368.4 C336.6 368.7 340.5 370.6 345 372.9 C349.5 375.1 355.9 379.5 360.4 381.9 C364.9 384.3 368.6 385.7 372 387.4 C375.4 389.1 379 390.6 381 391.9 C383 393.1 383.5 394.4 384 394.9" fill="none" transform="translate(0 23.5)" stroke="#fde4cc" stroke-width="3.4"/>
<path d="M236.3 376.9 C238 376.7 239 376.1 246.3 375.9 C253.6 375.6 269.4 375.7 280 375.4 C290.6 375.1 302.5 374.6 310 373.9 C317.5 373.1 321.1 371.8 325 370.9 C328.9 370 330 368.1 333.3 368.4 C336.6 368.7 340.5 370.6 345 372.9 C349.5 375.1 355.9 379.5 360.4 381.9 C364.9 384.3 368.6 385.7 372 387.4 C375.4 389.1 379 390.6 381 391.9 C383 393.1 383.5 394.4 384 394.9" fill="none" transform="translate(0 21.8)" stroke="#fde4cc" stroke-width="3.4"/>
<path d="M236.3 376.9 C238 376.7 239 376.1 246.3 375.9 C253.6 375.6 269.4 375.7 280 375.4 C290.6 375.1 302.5 374.6 310 373.9 C317.5 373.1 321.1 371.8 325 370.9 C328.9 370 330 368.1 333.3 368.4 C336.6 368.7 340.5 370.6 345 372.9 C349.5 375.1 355.9 379.5 360.4 381.9 C364.9 384.3 368.6 385.7 372 387.4 C375.4 389.1 379 390.6 381 391.9 C383 393.1 383.5 394.4 384 394.9" fill="none" transform="translate(0 20.1)" stroke="#fde4cc" stroke-width="3.4"/>
<path d="M236.3 376.9 C238 376.7 239 376.1 246.3 375.9 C253.6 375.6 269.4 375.7 280 375.4 C290.6 375.1 302.5 374.6 310 373.9 C317.5 373.1 321.1 371.8 325 370.9 C328.9 370 330 368.1 333.3 368.4 C336.6 368.7 340.5 370.6 345 372.9 C349.5 375.1 355.9 379.5 360.4 381.9 C364.9 384.3 368.6 385.7 372 387.4 C375.4 389.1 379 390.6 381 391.9 C383 393.1 383.5 394.4 384 394.9" fill="none" transform="translate(0 18.4)" stroke="#fde4cc" stroke-width="3.4"/>
<path d="M236.3 376.9 C238 376.7 239 376.1 246.3 375.9 C253.6 375.6 269.4 375.7 280 375.4 C290.6 375.1 302.5 374.6 310 373.9 C317.5 373.1 321.1 371.8 325 370.9 C328.9 370 330 368.1 333.3 368.4 C336.6 368.7 340.5 370.6 345 372.9 C349.5 375.1 355.9 379.5 360.4 381.9 C364.9 384.3 368.6 385.7 372 387.4 C375.4 389.1 379 390.6 381 391.9 C383 393.1 383.5 394.4 384 394.9" fill="none" transform="translate(0 16.7)" stroke="#fde4cc" stroke-width="3.4"/>
<path d="M236.3 376.9 C238 376.7 239 376.1 246.3 375.9 C253.6 375.6 269.4 375.7 280 375.4 C290.6 375.1 302.5 374.6 310 373.9 C317.5 373.1 321.1 371.8 325 370.9 C328.9 370 330 368.1 333.3 368.4 C336.6 368.7 340.5 370.6 345 372.9 C349.5 375.1 355.9 379.5 360.4 381.9 C364.9 384.3 368.6 385.7 372 387.4 C375.4 389.1 379 390.6 381 391.9 C383 393.1 383.5 394.4 384 394.9" fill="none" transform="translate(0 15)" stroke="#fde4cc" stroke-width="3.4"/>
<path d="M236.3 376.9 C238 376.7 239 376.1 246.3 375.9 C253.6 375.6 269.4 375.7 280 375.4 C290.6 375.1 302.5 374.6 310 373.9 C317.5 373.1 321.1 371.8 325 370.9 C328.9 370 330 368.1 333.3 368.4 C336.6 368.7 340.5 370.6 345 372.9 C349.5 375.1 355.9 379.5 360.4 381.9 C364.9 384.3 368.6 385.7 372 387.4 C375.4 389.1 379 390.6 381 391.9 C383 393.1 383.5 394.4 384 394.9" fill="none" transform="translate(0 13.3)" stroke="#fde4cc" stroke-width="3.4"/>
<path d="M236.3 376.9 C238 376.7 239 376.1 246.3 375.9 C253.6 375.6 269.4 375.7 280 375.4 C290.6 375.1 302.5 374.6 310 373.9 C317.5 373.1 321.1 371.8 325 370.9 C328.9 370 330 368.1 333.3 368.4 C336.6 368.7 340.5 370.6 345 372.9 C349.5 375.1 355.9 379.5 360.4 381.9 C364.9 384.3 368.6 385.7 372 387.4 C375.4 389.1 379 390.6 381 391.9 C383 393.1 383.5 394.4 384 394.9" fill="none" transform="translate(0 11.6)" stroke="#fce5cf" stroke-width="3.4"/>
<path d="M236.3 376.9 C238 376.7 239 376.1 246.3 375.9 C253.6 375.6 269.4 375.7 280 375.4 C290.6 375.1 302.5 374.6 310 373.9 C317.5 373.1 321.1 371.8 325 370.9 C328.9 370 330 368.1 333.3 368.4 C336.6 368.7 340.5 370.6 345 372.9 C349.5 375.1 355.9 379.5 360.4 381.9 C364.9 384.3 368.6 385.7 372 387.4 C375.4 389.1 379 390.6 381 391.9 C383 393.1 383.5 394.4 384 394.9" fill="none" transform="translate(0 9.9)" stroke="#fce5d2" stroke-width="3.4"/>
<path d="M236.3 376.9 C238 376.7 239 376.1 246.3 375.9 C253.6 375.6 269.4 375.7 280 375.4 C290.6 375.1 302.5 374.6 310 373.9 C317.5 373.1 321.1 371.8 325 370.9 C328.9 370 330 368.1 333.3 368.4 C336.6 368.7 340.5 370.6 345 372.9 C349.5 375.1 355.9 379.5 360.4 381.9 C364.9 384.3 368.6 385.7 372 387.4 C375.4 389.1 379 390.6 381 391.9 C383 393.1 383.5 394.4 384 394.9" fill="none" transform="translate(0 8.2)" stroke="#fce5d5" stroke-width="3.4"/>
<path d="M236.3 376.9 C238 376.7 239 376.1 246.3 375.9 C253.6 375.6 269.4 375.7 280 375.4 C290.6 375.1 302.5 374.6 310 373.9 C317.5 373.1 321.1 371.8 325 370.9 C328.9 370 330 368.1 333.3 368.4 C336.6 368.7 340.5 370.6 345 372.9 C349.5 375.1 355.9 379.5 360.4 381.9 C364.9 384.3 368.6 385.7 372 387.4 C375.4 389.1 379 390.6 381 391.9 C383 393.1 383.5 394.4 384 394.9" fill="none" transform="translate(0 6.5)" stroke="#fbe6d8" stroke-width="3.4"/>
<path d="M236.3 376.9 C238 376.7 239 376.1 246.3 375.9 C253.6 375.6 269.4 375.7 280 375.4 C290.6 375.1 302.5 374.6 310 373.9 C317.5 373.1 321.1 371.8 325 370.9 C328.9 370 330 368.1 333.3 368.4 C336.6 368.7 340.5 370.6 345 372.9 C349.5 375.1 355.9 379.5 360.4 381.9 C364.9 384.3 368.6 385.7 372 387.4 C375.4 389.1 379 390.6 381 391.9 C383 393.1 383.5 394.4 384 394.9" fill="none" transform="translate(0 4.8)" stroke="#f8dfcd" stroke-width="3.4"/>
<path d="M236.3 376.9 C238 376.7 239 376.1 246.3 375.9 C253.6 375.6 269.4 375.7 280 375.4 C290.6 375.1 302.5 374.6 310 373.9 C317.5 373.1 321.1 371.8 325 370.9 C328.9 370 330 368.1 333.3 368.4 C336.6 368.7 340.5 370.6 345 372.9 C349.5 375.1 355.9 379.5 360.4 381.9 C364.9 384.3 368.6 385.7 372 387.4 C375.4 389.1 379 390.6 381 391.9 C383 393.1 383.5 394.4 384 394.9" fill="none" transform="translate(0 3.1)" stroke="#f5d4bf" stroke-width="3.4"/>
<path d="M236.3 376.9 C238 376.7 239 376.1 246.3 375.9 C253.6 375.6 269.4 375.7 280 375.4 C290.6 375.1 302.5 374.6 310 373.9 C317.5 373.1 321.1 371.8 325 370.9 C328.9 370 330 368.1 333.3 368.4 C336.6 368.7 340.5 370.6 345 372.9 C349.5 375.1 355.9 379.5 360.4 381.9 C364.9 384.3 368.6 385.7 372 387.4 C375.4 389.1 379 390.6 381 391.9 C383 393.1 383.5 394.4 384 394.9" fill="none" transform="translate(0 1.4)" stroke="#edc0a2" stroke-width="3.4"/>
<rect x="240" y="318.9" width="170" height="75" fill="url(#hp)" opacity="0.62" mask="url(#fade3)"/>
</g>
<path d="M333.3 368.4 C335.2 369.1 340.5 370.6 345 372.9 C349.5 375.1 355.9 379.5 360.4 381.9 C364.9 384.3 368.6 385.7 372 387.4 C375.4 389.1 379 390.6 381 391.9 C383 393.1 383.5 394.4 384 394.9" fill="none" stroke="#f7d5bf" stroke-width="1.2" opacity="0.8"/>
<path d="M283 354.8 C285.8 355.5 294.2 357.4 300 358.9 C305.8 360.4 312.4 362.3 318 363.9 C323.6 365.5 330.8 367.6 333.3 368.4" fill="none" stroke="#f6d2bc" stroke-width="1.6" opacity="0.55"/>
<path d="M265 343.2 C267.4 342.8 273.8 341.5 279.2 340.9 C284.6 340.2 292 339.3 297.5 339.3 C303 339.3 306.8 340.2 312.1 340.9 C317.4 341.6 325.8 343 329.5 343.6 C333.2 344.2 332.4 343.9 334.5 344.7 C336.6 345.5 339.9 347.2 341.8 348.3 C343.7 349.4 342.7 350.7 346.1 351.2 C349.5 351.7 357.5 351.5 362.1 351.2 C366.7 351 371.2 350.4 373.7 349.7 C376.2 349 374.9 347 377.3 346.8 C379.7 346.6 384.4 347.6 388.2 348.3 C391.9 349 396.9 350 399.8 351.2 C402.7 352.4 404.3 353.8 405.6 355.5 C406.9 357.2 407.4 360.4 407.8 361.4 L407.9 362.2 L405.6 359.6 L399.8 355.3 L388.2 352.4 L377.3 350.9 L373.7 353.8 L362.1 355.3 L346.1 355.3 L341.8 352.4 L334.5 348.8 L329.5 347.7 L312.1 345 L297.5 343.4 L279.2 345 L265 347.3 Z" fill="#d0cbc8"/>
<path d="M265 343.2 C267.4 342.8 273.8 341.5 279.2 340.9 C284.6 340.2 292 339.3 297.5 339.3 C303 339.3 306.8 340.2 312.1 340.9 C317.4 341.6 325.8 343 329.5 343.6 C333.2 344.2 332.4 343.9 334.5 344.7 C336.6 345.5 339.9 347.2 341.8 348.3 C343.7 349.4 342.7 350.7 346.1 351.2 C349.5 351.7 357.5 351.5 362.1 351.2 C366.7 351 371.2 350.4 373.7 349.7 C376.2 349 374.9 347 377.3 346.8 C379.7 346.6 384.4 347.6 388.2 348.3 C391.9 349 396.9 350 399.8 351.2 C402.7 352.4 404.3 353.8 405.6 355.5 C406.9 357.2 407.4 360.4 407.8 361.4 L407.9 362.2 L405.6 359.6 L399.8 355.3 L388.2 352.4 L377.3 350.9 L373.7 353.8 L362.1 355.3 L346.1 355.3 L341.8 352.4 L334.5 348.8 L329.5 347.7 L312.1 345 L297.5 343.4 L279.2 345 L265 347.3 Z" fill="url(#hv)" opacity="0.38"/>
<path d="M240 348.3 C244.2 348.1 258.5 347.9 265 347.3 C271.5 346.8 273.8 345.6 279.2 345 C284.6 344.4 292 343.4 297.5 343.4 C303 343.4 306.8 344.3 312.1 345 C317.4 345.7 325.8 347.1 329.5 347.7 C333.2 348.3 332.4 348 334.5 348.8 C336.6 349.6 339.9 351.3 341.8 352.4 C343.7 353.5 342.7 354.8 346.1 355.3 C349.5 355.8 357.5 355.6 362.1 355.3 C366.7 355.1 371.2 354.5 373.7 353.8 C376.2 353.1 374.9 351.1 377.3 350.9 C379.7 350.7 384.4 351.7 388.2 352.4 C391.9 353.1 396.9 354.1 399.8 355.3 C402.7 356.5 404.2 358.5 405.6 359.6 C407 360.8 406.2 361.4 407.9 362.2 C409.6 363 414.6 363.9 415.9 364.2" fill="none" transform="translate(0 0)" stroke="#4a4340" stroke-width="0.8" opacity="0.9"/>
<path d="M240 348.3 C244.2 348.1 258.5 347.9 265 347.3 C271.5 346.8 273.8 345.6 279.2 345 C284.6 344.4 292 343.4 297.5 343.4 C303 343.4 306.8 344.3 312.1 345 C317.4 345.7 325.8 347.1 329.5 347.7 C333.2 348.3 332.4 348 334.5 348.8 C336.6 349.6 339.9 351.3 341.8 352.4 C343.7 353.5 342.7 354.8 346.1 355.3 C349.5 355.8 357.5 355.6 362.1 355.3 C366.7 355.1 371.2 354.5 373.7 353.8 C376.2 353.1 374.9 351.1 377.3 350.9 C379.7 350.7 384.4 351.7 388.2 352.4 C391.9 353.1 396.9 354.1 399.8 355.3 C402.7 356.5 404.2 358.5 405.6 359.6 C407 360.8 406.2 361.4 407.9 362.2 C409.6 363 414.6 363.9 415.9 364.2" fill="none" transform="translate(0 3.8)" stroke="#4a4340" stroke-width="0.7" opacity="0.8"/>
</g>
<path d="M265 343.2 C267.4 342.8 273.8 341.5 279.2 340.9 C284.6 340.2 292 339.3 297.5 339.3 C303 339.3 306.8 340.2 312.1 340.9 C317.4 341.6 325.8 343 329.5 343.6 C333.2 344.2 332.4 343.9 334.5 344.7 C336.6 345.5 339.9 347.2 341.8 348.3 C343.7 349.4 342.7 350.7 346.1 351.2 C349.5 351.7 357.5 351.5 362.1 351.2 C366.7 351 371.2 350.4 373.7 349.7 C376.2 349 374.9 347 377.3 346.8 C379.7 346.6 384.4 347.6 388.2 348.3 C391.9 349 396.9 350 399.8 351.2 C402.7 352.4 404.3 353.8 405.6 355.5 C406.9 357.2 407.4 360.4 407.8 361.4" fill="none" stroke="#3c3836" stroke-width="0.9"/>
<line x1="265" y1="343.2" x2="265" y2="347.3" stroke="#6a625e" stroke-width="0.7"/>
<line x1="227.6" y1="398" x2="227.6" y2="294.5" stroke="#4d4d4d" stroke-width="0.6"/>
<line x1="227.6" y1="398" x2="371.3" y2="405.9" stroke="#4d4d4d" stroke-width="0.6"/>
<line x1="371.3" y1="405.9" x2="408.8" y2="379.2" stroke="#4d4d4d" stroke-width="0.6"/>
<line x1="227.6" y1="398" x2="223.8" y2="398" stroke="#4d4d4d" stroke-width="0.6"/>
<text x="219.2" y="401" font-size="8.3" text-anchor="end" fill="#4a4a4a"  >0</text>
<line x1="227.6" y1="375.5" x2="223.8" y2="375.5" stroke="#4d4d4d" stroke-width="0.6"/>
<text x="219.2" y="378.5" font-size="8.3" text-anchor="end" fill="#4a4a4a"  >5</text>
<line x1="227.6" y1="353" x2="223.8" y2="353" stroke="#4d4d4d" stroke-width="0.6"/>
<text x="219.2" y="356" font-size="8.3" text-anchor="end" fill="#4a4a4a"  >10</text>
<line x1="227.6" y1="330.5" x2="223.8" y2="330.5" stroke="#4d4d4d" stroke-width="0.6"/>
<text x="219.2" y="333.5" font-size="8.3" text-anchor="end" fill="#4a4a4a"  >15</text>
<line x1="227.6" y1="308" x2="223.8" y2="308" stroke="#4d4d4d" stroke-width="0.6"/>
<text x="219.2" y="311" font-size="8.3" text-anchor="end" fill="#4a4a4a"  >20</text>
<line x1="371.3" y1="405.9" x2="368.9" y2="407.6" stroke="#4d4d4d" stroke-width="0.6"/>
<text x="361.7" y="417.9" font-size="8.3" text-anchor="middle" fill="#4a4a4a"  >0</text>
<line x1="339.4" y1="404.1" x2="337" y2="405.8" stroke="#4d4d4d" stroke-width="0.6"/>
<text x="329.8" y="416.1" font-size="8.3" text-anchor="middle" fill="#4a4a4a"  >2</text>
<line x1="307.4" y1="402.4" x2="305" y2="404.1" stroke="#4d4d4d" stroke-width="0.6"/>
<text x="297.8" y="414.4" font-size="8.3" text-anchor="middle" fill="#4a4a4a"  >4</text>
<line x1="275.5" y1="400.6" x2="273.1" y2="402.3" stroke="#4d4d4d" stroke-width="0.6"/>
<text x="265.9" y="412.6" font-size="8.3" text-anchor="middle" fill="#4a4a4a"  >6</text>
<line x1="243.6" y1="398.9" x2="241.2" y2="400.6" stroke="#4d4d4d" stroke-width="0.6"/>
<text x="234" y="410.9" font-size="8.3" text-anchor="middle" fill="#4a4a4a"  >8</text>
<line x1="371.3" y1="405.9" x2="367.9" y2="406.7" stroke="#4d4d4d" stroke-width="0.6"/>
<text x="379.9" y="414.9" font-size="8.3" text-anchor="middle" fill="#4a4a4a"  >-1</text>
<line x1="380.7" y1="399.2" x2="377.3" y2="400" stroke="#4d4d4d" stroke-width="0.6"/>
<text x="389.3" y="408.2" font-size="8.3" text-anchor="middle" fill="#4a4a4a"  >0</text>
<line x1="390.1" y1="392.6" x2="386.7" y2="393.4" stroke="#4d4d4d" stroke-width="0.6"/>
<text x="398.7" y="401.5" font-size="8.3" text-anchor="middle" fill="#4a4a4a"  >1</text>
<line x1="399.4" y1="385.9" x2="396" y2="386.7" stroke="#4d4d4d" stroke-width="0.6"/>
<text x="408" y="394.9" font-size="8.3" text-anchor="middle" fill="#4a4a4a"  >2</text>
<text x="304.3" y="427.9" font-size="12.0" text-anchor="middle" class="m" fill="#222" textLength="24" lengthAdjust="spacing"><tspan font-style="italic">t</tspan> [h]</text>
<text x="415.6" y="423.7" font-size="12.0" text-anchor="middle" class="m" fill="#222" textLength="29" lengthAdjust="spacing"><tspan font-style="italic">z</tspan> [m]</text>
<text x="200.8" y="350.3" font-size="12.0" text-anchor="middle" class="m" fill="#222" transform="rotate(-90 200.8 346.7)" textLength="82" lengthAdjust="spacing"><tspan font-style="italic">X</tspan><tspan font-size="70%" dy="2">U</tspan><tspan dy="-2">&#8203;</tspan>(<tspan font-style="italic">z</tspan>, <tspan font-style="italic">t</tspan>) [kg/m<tspan font-size="70%" dy="-4">3</tspan><tspan dy="4">&#8203;</tspan>]</text>
</g>
<clipPath id="c5"><rect x="180" y="440" width="227" height="175"/></clipPath><g clip-path="url(#c5)">
<line x1="232.6" y1="556.1" x2="317" y2="530.5" stroke="#e2e2e2" stroke-width="0.5"/>
<line x1="317" y1="530.5" x2="412.7" y2="553.3" stroke="#e2e2e2" stroke-width="0.5"/>
<line x1="232.6" y1="532.4" x2="317" y2="506.8" stroke="#e2e2e2" stroke-width="0.5"/>
<line x1="317" y1="506.8" x2="412.7" y2="529.6" stroke="#e2e2e2" stroke-width="0.5"/>
<line x1="232.6" y1="508.7" x2="317" y2="483.1" stroke="#e2e2e2" stroke-width="0.5"/>
<line x1="317" y1="483.1" x2="412.7" y2="505.9" stroke="#e2e2e2" stroke-width="0.5"/>
<line x1="232.6" y1="485" x2="317" y2="459.4" stroke="#e2e2e2" stroke-width="0.5"/>
<line x1="317" y1="459.4" x2="412.7" y2="482.2" stroke="#e2e2e2" stroke-width="0.5"/>
<line x1="232.6" y1="461.3" x2="317" y2="435.7" stroke="#e2e2e2" stroke-width="0.5"/>
<line x1="317" y1="435.7" x2="412.7" y2="458.5" stroke="#e2e2e2" stroke-width="0.5"/>
<line x1="253.7" y1="549.7" x2="253.7" y2="449.2" stroke="#e2e2e2" stroke-width="0.5"/>
<line x1="274.8" y1="543.3" x2="274.8" y2="442.8" stroke="#e2e2e2" stroke-width="0.5"/>
<line x1="295.9" y1="536.9" x2="295.9" y2="436.4" stroke="#e2e2e2" stroke-width="0.5"/>
<line x1="317" y1="530.5" x2="317" y2="430" stroke="#e2e2e2" stroke-width="0.5"/>
<line x1="412.7" y1="553.3" x2="412.7" y2="452.8" stroke="#e2e2e2" stroke-width="0.5"/>
<line x1="359.5" y1="540.6" x2="359.5" y2="440.2" stroke="#e2e2e2" stroke-width="0.5"/>
<polygon points="232.6,556.1 328.3,578.9 412.7,553.3 317,530.5" fill="#FDCA8C" stroke="none" stroke-width="0" />
<defs><linearGradient id="s5" gradientUnits="userSpaceOnUse" x1="0" y1="450" x2="0" y2="560"><stop offset="0" stop-color="#5f5956"/><stop offset="0.06" stop-color="#8a8380"/><stop offset="0.16" stop-color="#aaa09c"/><stop offset="0.32" stop-color="#c9b6ae"/><stop offset="0.5" stop-color="#e6c4b4"/><stop offset="0.68" stop-color="#f4c6a8"/><stop offset="0.85" stop-color="#fac89c"/><stop offset="1" stop-color="#fdca8c"/></linearGradient><linearGradient id="s5r" gradientUnits="userSpaceOnUse" x1="350" y1="548" x2="377.5" y2="472"><stop offset="0" stop-color="#fdca8c"/><stop offset="0.2" stop-color="#f8c49c"/><stop offset="0.37" stop-color="#ecbaa0"/><stop offset="0.5" stop-color="#cfa694"/><stop offset="0.61" stop-color="#a08d85"/><stop offset="0.8" stop-color="#706966"/><stop offset="1" stop-color="#55504e"/></linearGradient><linearGradient id="l5" gradientUnits="userSpaceOnUse" x1="0" y1="455" x2="0" y2="545"><stop offset="0" stop-color="#222" stop-opacity="0.9"/><stop offset="0.5" stop-color="#433" stop-opacity="0.55"/><stop offset="0.8" stop-color="#a76" stop-opacity="0.25"/><stop offset="1" stop-color="#fb9" stop-opacity="0"/></linearGradient><pattern id="hl5" width="8" height="2.05" patternUnits="userSpaceOnUse"><rect width="8" height="0.8" fill="url(#l5)"/></pattern></defs>
<path d="M262 548 C264.4 547.1 271.9 545.4 276.5 542.5 C281.1 539.6 285.8 535.7 289.5 530.9 C293.2 526.1 296.1 519 298.6 513.5 C301.1 508 302.8 503.8 304.4 498 C306 492.2 307.2 485.1 308.4 478.7 C309.5 472.2 310.4 463.5 311.3 459.3 C312.2 455.1 312.9 455 314 453.5 C315.1 452 317.2 451 317.9 450.5 L332.3 462 L345.9 478.9 L357.7 490.8 L371.3 506 L384.8 514.5 L398.3 524.6 L406.8 532.3 L410 536 L412.7 553.3 L 357.7 560 L 262 552 Z" fill="url(#s5)"/>
<path d="M317.9 450.5 C319.1 453.4 322.3 461.1 325 468 C327.7 474.9 331 484.3 334 492 C337 499.7 340.2 507.7 343 514 C345.8 520.3 349.1 526.5 351 530 C352.9 533.5 353.2 531.8 354.3 534.8 C355.4 537.8 357.1 546 357.7 548.3 L 357.7 562 L 412.7 556 L412.7 553.3 L410 536 L406.8 532.3 L398.3 524.6 L384.8 514.5 L371.3 506 L357.7 490.8 L345.9 478.9 L332.3 462 Z" fill="url(#s5r)"/>
<clipPath id="c5l"><path d="M262 548 C264.4 547.1 271.9 545.4 276.5 542.5 C281.1 539.6 285.8 535.7 289.5 530.9 C293.2 526.1 296.1 519 298.6 513.5 C301.1 508 302.8 503.8 304.4 498 C306 492.2 307.2 485.1 308.4 478.7 C309.5 472.2 310.4 463.5 311.3 459.3 C312.2 455.1 312.9 455 314 453.5 C315.1 452 317.2 451 317.9 450.5 L325 468 L334 492 L343 514 L351 530 L354.3 534.8 L357.7 548.3 L 262 552 Z"/></clipPath>
<g clip-path="url(#c5l)">
<line x1="290" y1="455" x2="360" y2="457" stroke="#2c2624" stroke-width="0.62" opacity="0.8"/>
<line x1="290" y1="457" x2="360" y2="459" stroke="#2c2624" stroke-width="0.62" opacity="0.7"/>
<line x1="290" y1="459" x2="360" y2="461" stroke="#2c2624" stroke-width="0.62" opacity="0.7"/>
<line x1="290" y1="461" x2="360" y2="463" stroke="#2c2624" stroke-width="0.62" opacity="0.7"/>
<line x1="290" y1="463" x2="360" y2="465" stroke="#2c2624" stroke-width="0.62" opacity="0.7"/>
<line x1="290" y1="465" x2="360" y2="467" stroke="#2c2624" stroke-width="0.62" opacity="0.7"/>
<line x1="290" y1="467" x2="360" y2="469" stroke="#2c2624" stroke-width="0.62" opacity="0.6"/>
<line x1="290" y1="469" x2="360" y2="471" stroke="#2c2624" stroke-width="0.62" opacity="0.6"/>
<line x1="290" y1="471" x2="360" y2="473" stroke="#2c2624" stroke-width="0.62" opacity="0.6"/>
<line x1="290" y1="473" x2="360" y2="475" stroke="#2c2624" stroke-width="0.62" opacity="0.6"/>
<line x1="290" y1="475" x2="360" y2="477" stroke="#2c2624" stroke-width="0.62" opacity="0.6"/>
<line x1="290" y1="477" x2="360" y2="479" stroke="#2c2624" stroke-width="0.62" opacity="0.6"/>
<line x1="290" y1="479" x2="360" y2="481" stroke="#2c2624" stroke-width="0.62" opacity="0.5"/>
<line x1="290" y1="481" x2="360" y2="483" stroke="#2c2624" stroke-width="0.62" opacity="0.5"/>
<line x1="290" y1="483" x2="360" y2="485" stroke="#2c2624" stroke-width="0.62" opacity="0.5"/>
<line x1="290" y1="485" x2="360" y2="487" stroke="#2c2624" stroke-width="0.62" opacity="0.5"/>
<line x1="290" y1="487" x2="360" y2="489" stroke="#2c2624" stroke-width="0.62" opacity="0.5"/>
<line x1="290" y1="489" x2="360" y2="491" stroke="#2c2624" stroke-width="0.62" opacity="0.4"/>
<line x1="290" y1="491" x2="360" y2="493" stroke="#2c2624" stroke-width="0.62" opacity="0.4"/>
<line x1="290" y1="493" x2="360" y2="495" stroke="#2c2624" stroke-width="0.62" opacity="0.4"/>
<line x1="290" y1="495" x2="360" y2="497" stroke="#2c2624" stroke-width="0.62" opacity="0.4"/>
<line x1="290" y1="497" x2="360" y2="499" stroke="#2c2624" stroke-width="0.62" opacity="0.4"/>
<line x1="290" y1="499" x2="360" y2="501" stroke="#2c2624" stroke-width="0.62" opacity="0.4"/>
<line x1="290" y1="501" x2="360" y2="503" stroke="#2c2624" stroke-width="0.62" opacity="0.3"/>
<line x1="290" y1="503" x2="360" y2="505" stroke="#2c2624" stroke-width="0.62" opacity="0.3"/>
<line x1="290" y1="505" x2="360" y2="507" stroke="#2c2624" stroke-width="0.62" opacity="0.3"/>
<line x1="290" y1="507" x2="360" y2="509" stroke="#2c2624" stroke-width="0.62" opacity="0.3"/>
<line x1="290" y1="509" x2="360" y2="511" stroke="#2c2624" stroke-width="0.62" opacity="0.3"/>
<line x1="290" y1="511" x2="360" y2="513" stroke="#2c2624" stroke-width="0.62" opacity="0.2"/>
<line x1="290" y1="513" x2="360" y2="515" stroke="#2c2624" stroke-width="0.62" opacity="0.2"/>
<line x1="290" y1="515" x2="360" y2="517" stroke="#2c2624" stroke-width="0.62" opacity="0.2"/>
<line x1="290" y1="517" x2="360" y2="519" stroke="#2c2624" stroke-width="0.62" opacity="0.2"/>
<line x1="290" y1="519" x2="360" y2="521" stroke="#2c2624" stroke-width="0.62" opacity="0.2"/>
<line x1="290" y1="521" x2="360" y2="523" stroke="#2c2624" stroke-width="0.62" opacity="0.2"/>
<line x1="290" y1="523" x2="360" y2="525" stroke="#2c2624" stroke-width="0.62" opacity="0.1"/>
<line x1="290" y1="525" x2="360" y2="527" stroke="#2c2624" stroke-width="0.62" opacity="0.1"/>
<line x1="290" y1="527" x2="360" y2="529" stroke="#2c2624" stroke-width="0.62" opacity="0.1"/>
<line x1="290" y1="529" x2="360" y2="531" stroke="#2c2624" stroke-width="0.62" opacity="0.1"/>
<line x1="290" y1="531" x2="360" y2="533" stroke="#2c2624" stroke-width="0.62" opacity="0.1"/>
<line x1="290" y1="533" x2="360" y2="535" stroke="#2c2624" stroke-width="0.62" opacity="0"/>
<line x1="290" y1="535" x2="360" y2="537" stroke="#2c2624" stroke-width="0.62" opacity="0"/>
<line x1="290" y1="537" x2="360" y2="539" stroke="#2c2624" stroke-width="0.62" opacity="0"/>
<line x1="290" y1="539" x2="360" y2="541" stroke="#2c2624" stroke-width="0.62" opacity="0"/>
<line x1="290" y1="541" x2="360" y2="543" stroke="#2c2624" stroke-width="0.62" opacity="0"/>
<line x1="290" y1="543" x2="360" y2="545" stroke="#2c2624" stroke-width="0.62" opacity="0"/>
<line x1="290" y1="545" x2="360" y2="547" stroke="#2c2624" stroke-width="0.62" opacity="0"/>
</g>
<clipPath id="c5r"><path d="M317.9 450.5 C319.1 453.4 322.3 461.1 325 468 C327.7 474.9 331 484.3 334 492 C337 499.7 340.2 507.7 343 514 C345.8 520.3 349.1 526.5 351 530 C352.9 533.5 353.2 531.8 354.3 534.8 C355.4 537.8 357.1 546 357.7 548.3 L 357.7 562 L 412.7 556 L412.7 553.3 L410 536 L406.8 532.3 L398.3 524.6 L384.8 514.5 L371.3 506 L357.7 490.8 L345.9 478.9 L332.3 462 Z"/></clipPath>
<g clip-path="url(#c5r)">
<line x1="315" y1="442" x2="415" y2="478" stroke="#3c3230" stroke-width="0.55" opacity="0.4"/>
<line x1="315" y1="444" x2="415" y2="480" stroke="#3c3230" stroke-width="0.55" opacity="0.4"/>
<line x1="315" y1="446" x2="415" y2="482" stroke="#3c3230" stroke-width="0.55" opacity="0.4"/>
<line x1="315" y1="448" x2="415" y2="484" stroke="#3c3230" stroke-width="0.55" opacity="0.4"/>
<line x1="315" y1="450" x2="415" y2="486" stroke="#3c3230" stroke-width="0.55" opacity="0.4"/>
<line x1="315" y1="452" x2="415" y2="488" stroke="#3c3230" stroke-width="0.55" opacity="0.4"/>
<line x1="315" y1="454" x2="415" y2="490" stroke="#3c3230" stroke-width="0.55" opacity="0.4"/>
<line x1="315" y1="456" x2="415" y2="492" stroke="#3c3230" stroke-width="0.55" opacity="0.3"/>
<line x1="315" y1="458" x2="415" y2="494" stroke="#3c3230" stroke-width="0.55" opacity="0.3"/>
<line x1="315" y1="460" x2="415" y2="496" stroke="#3c3230" stroke-width="0.55" opacity="0.3"/>
<line x1="315" y1="462" x2="415" y2="498" stroke="#3c3230" stroke-width="0.55" opacity="0.3"/>
<line x1="315" y1="464" x2="415" y2="500" stroke="#3c3230" stroke-width="0.55" opacity="0.3"/>
<line x1="315" y1="466" x2="415" y2="502" stroke="#3c3230" stroke-width="0.55" opacity="0.3"/>
<line x1="315" y1="468" x2="415" y2="504" stroke="#3c3230" stroke-width="0.55" opacity="0.3"/>
<line x1="315" y1="470" x2="415" y2="506" stroke="#3c3230" stroke-width="0.55" opacity="0.3"/>
<line x1="315" y1="472" x2="415" y2="508" stroke="#3c3230" stroke-width="0.55" opacity="0.3"/>
<line x1="315" y1="474" x2="415" y2="510" stroke="#3c3230" stroke-width="0.55" opacity="0.3"/>
<line x1="315" y1="476" x2="415" y2="512" stroke="#3c3230" stroke-width="0.55" opacity="0.2"/>
<line x1="315" y1="478" x2="415" y2="514" stroke="#3c3230" stroke-width="0.55" opacity="0.2"/>
<line x1="315" y1="480" x2="415" y2="516" stroke="#3c3230" stroke-width="0.55" opacity="0.2"/>
<line x1="315" y1="482" x2="415" y2="518" stroke="#3c3230" stroke-width="0.55" opacity="0.2"/>
<line x1="315" y1="484" x2="415" y2="520" stroke="#3c3230" stroke-width="0.55" opacity="0.2"/>
<line x1="315" y1="486" x2="415" y2="522" stroke="#3c3230" stroke-width="0.55" opacity="0.2"/>
<line x1="315" y1="488" x2="415" y2="524" stroke="#3c3230" stroke-width="0.55" opacity="0.2"/>
<line x1="315" y1="490" x2="415" y2="526" stroke="#3c3230" stroke-width="0.55" opacity="0.2"/>
<line x1="315" y1="492" x2="415" y2="528" stroke="#3c3230" stroke-width="0.55" opacity="0.2"/>
<line x1="315" y1="494" x2="415" y2="530" stroke="#3c3230" stroke-width="0.55" opacity="0.2"/>
<line x1="315" y1="496" x2="415" y2="532" stroke="#3c3230" stroke-width="0.55" opacity="0.1"/>
<line x1="315" y1="498" x2="415" y2="534" stroke="#3c3230" stroke-width="0.55" opacity="0.1"/>
<line x1="315" y1="500" x2="415" y2="536" stroke="#3c3230" stroke-width="0.55" opacity="0.1"/>
<line x1="315" y1="502" x2="415" y2="538" stroke="#3c3230" stroke-width="0.55" opacity="0.1"/>
<line x1="315" y1="504" x2="415" y2="540" stroke="#3c3230" stroke-width="0.55" opacity="0.1"/>
<line x1="315" y1="506" x2="415" y2="542" stroke="#3c3230" stroke-width="0.55" opacity="0.1"/>
<line x1="315" y1="508" x2="415" y2="544" stroke="#3c3230" stroke-width="0.55" opacity="0.1"/>
<line x1="315" y1="510" x2="415" y2="546" stroke="#3c3230" stroke-width="0.55" opacity="0.1"/>
<line x1="315" y1="512" x2="415" y2="548" stroke="#3c3230" stroke-width="0.55" opacity="0.1"/>
<line x1="315" y1="514" x2="415" y2="550" stroke="#3c3230" stroke-width="0.55" opacity="0.1"/>
<line x1="315" y1="516" x2="415" y2="552" stroke="#3c3230" stroke-width="0.55" opacity="0"/>
<line x1="315" y1="518" x2="415" y2="554" stroke="#3c3230" stroke-width="0.55" opacity="0"/>
<line x1="315" y1="520" x2="415" y2="556" stroke="#3c3230" stroke-width="0.55" opacity="0"/>
<line x1="315" y1="522" x2="415" y2="558" stroke="#3c3230" stroke-width="0.55" opacity="0"/>
<line x1="315" y1="524" x2="415" y2="560" stroke="#3c3230" stroke-width="0.55" opacity="0"/>
<line x1="315" y1="526" x2="415" y2="562" stroke="#3c3230" stroke-width="0.55" opacity="0"/>
<line x1="315" y1="528" x2="415" y2="564" stroke="#3c3230" stroke-width="0.55" opacity="0"/>
<line x1="315" y1="530" x2="415" y2="566" stroke="#3c3230" stroke-width="0.55" opacity="0"/>
<line x1="315" y1="532" x2="415" y2="568" stroke="#3c3230" stroke-width="0.55" opacity="0"/>
<line x1="315" y1="534" x2="415" y2="570" stroke="#3c3230" stroke-width="0.55" opacity="0"/>
<line x1="315" y1="536" x2="415" y2="572" stroke="#3c3230" stroke-width="0.55" opacity="0"/>
</g>
<path d="M343 514 C344.3 516.7 349.1 526.5 351 530 C352.9 533.5 353.2 531.8 354.3 534.8 C355.4 537.8 357.1 546 357.7 548.3" stroke="#f6c6a6" stroke-width="1.0" fill="none" opacity="0.5"/>
<line x1="232.6" y1="556.1" x2="232.6" y2="455.6" stroke="#4d4d4d" stroke-width="0.6"/>
<line x1="232.6" y1="556.1" x2="328.3" y2="578.9" stroke="#4d4d4d" stroke-width="0.6"/>
<line x1="328.3" y1="578.9" x2="412.7" y2="553.3" stroke="#4d4d4d" stroke-width="0.6"/>
<line x1="232.6" y1="556.1" x2="228.8" y2="556.1" stroke="#4d4d4d" stroke-width="0.6"/>
<text x="226.6" y="558.8" font-size="8.3" text-anchor="end" fill="#4a4a4a"  >0</text>
<line x1="232.6" y1="532.4" x2="228.8" y2="532.4" stroke="#4d4d4d" stroke-width="0.6"/>
<text x="226.6" y="535.1" font-size="8.3" text-anchor="end" fill="#4a4a4a"  >0.5</text>
<line x1="232.6" y1="508.7" x2="228.8" y2="508.7" stroke="#4d4d4d" stroke-width="0.6"/>
<text x="226.6" y="511.4" font-size="8.3" text-anchor="end" fill="#4a4a4a"  >1</text>
<line x1="232.6" y1="485" x2="228.8" y2="485" stroke="#4d4d4d" stroke-width="0.6"/>
<text x="226.6" y="487.7" font-size="8.3" text-anchor="end" fill="#4a4a4a"  >1.5</text>
<line x1="232.6" y1="461.3" x2="228.8" y2="461.3" stroke="#4d4d4d" stroke-width="0.6"/>
<text x="226.6" y="464" font-size="8.3" text-anchor="end" fill="#4a4a4a"  >2</text>
<line x1="328.3" y1="578.9" x2="326.1" y2="580.3" stroke="#4d4d4d" stroke-width="0.6"/>
<text x="319.5" y="589.1" font-size="8.3" text-anchor="middle" fill="#4a4a4a"  >0</text>
<line x1="275.1" y1="566.2" x2="272.9" y2="567.6" stroke="#4d4d4d" stroke-width="0.6"/>
<text x="266.3" y="576.4" font-size="8.3" text-anchor="middle" fill="#4a4a4a"  >5</text>
<line x1="328.3" y1="578.9" x2="330.7" y2="580.1" stroke="#4d4d4d" stroke-width="0.6"/>
<text x="335.2" y="588.5" font-size="8.3" text-anchor="middle" fill="#4a4a4a"  >-1</text>
<line x1="349.4" y1="572.5" x2="351.8" y2="573.7" stroke="#4d4d4d" stroke-width="0.6"/>
<text x="356.3" y="582.1" font-size="8.3" text-anchor="middle" fill="#4a4a4a"  >0</text>
<line x1="370.5" y1="566.1" x2="372.9" y2="567.3" stroke="#4d4d4d" stroke-width="0.6"/>
<text x="377.4" y="575.7" font-size="8.3" text-anchor="middle" fill="#4a4a4a"  >1</text>
<line x1="391.6" y1="559.7" x2="394" y2="560.9" stroke="#4d4d4d" stroke-width="0.6"/>
<text x="398.5" y="569.3" font-size="8.3" text-anchor="middle" fill="#4a4a4a"  >2</text>
<line x1="412.7" y1="553.3" x2="415.1" y2="554.5" stroke="#4d4d4d" stroke-width="0.6"/>
<text x="419.6" y="562.9" font-size="8.3" text-anchor="middle" fill="#4a4a4a"  >3</text>
<text x="274.5" y="596.4" font-size="12.0" text-anchor="middle" class="m" fill="#222" textLength="24" lengthAdjust="spacing"><tspan font-style="italic">t</tspan> [h]</text>
<text x="381.4" y="595.1" font-size="12.0" text-anchor="middle" class="m" fill="#222" textLength="29" lengthAdjust="spacing"><tspan font-style="italic">z</tspan> [m]</text>
<text x="204.5" y="513.2" font-size="12.0" text-anchor="middle" class="m" fill="#222" transform="rotate(-90 204.5 509.6)" textLength="78" lengthAdjust="spacing"><tspan font-style="italic">S</tspan><tspan font-size="70%" dy="2">S</tspan><tspan dy="-2">&#8203;</tspan>(<tspan font-style="italic">z</tspan>, <tspan font-style="italic">t</tspan>) [kg/m<tspan font-size="70%" dy="-4">3</tspan><tspan dy="4">&#8203;</tspan>]</text>
</g>
<rect x="414.6" y="268" width="252" height="170" fill="#fff"/>
<line x1="440.3" y1="387" x2="526.8" y2="361" stroke="#e2e2e2" stroke-width="0.5"/>
<line x1="526.8" y1="361" x2="623.2" y2="384.5" stroke="#e2e2e2" stroke-width="0.5"/>
<line x1="440.3" y1="363.4" x2="526.8" y2="337.4" stroke="#e2e2e2" stroke-width="0.5"/>
<line x1="526.8" y1="337.4" x2="623.2" y2="360.9" stroke="#e2e2e2" stroke-width="0.5"/>
<line x1="440.3" y1="339.8" x2="526.8" y2="313.8" stroke="#e2e2e2" stroke-width="0.5"/>
<line x1="526.8" y1="313.8" x2="623.2" y2="337.3" stroke="#e2e2e2" stroke-width="0.5"/>
<line x1="440.3" y1="316.2" x2="526.8" y2="290.2" stroke="#e2e2e2" stroke-width="0.5"/>
<line x1="526.8" y1="290.2" x2="623.2" y2="313.7" stroke="#e2e2e2" stroke-width="0.5"/>
<line x1="440.3" y1="292.6" x2="526.8" y2="266.6" stroke="#e2e2e2" stroke-width="0.5"/>
<line x1="526.8" y1="266.6" x2="623.2" y2="290.1" stroke="#e2e2e2" stroke-width="0.5"/>
<line x1="488.4" y1="372.6" x2="488.4" y2="278.1" stroke="#e2e2e2" stroke-width="0.5"/>
<line x1="526.8" y1="361" x2="526.8" y2="266.6" stroke="#e2e2e2" stroke-width="0.5"/>
<line x1="550.9" y1="366.9" x2="550.9" y2="272.5" stroke="#e2e2e2" stroke-width="0.5"/>
<line x1="575" y1="372.7" x2="575" y2="278.3" stroke="#e2e2e2" stroke-width="0.5"/>
<line x1="599.1" y1="378.6" x2="599.1" y2="284.2" stroke="#e2e2e2" stroke-width="0.5"/>
<line x1="623.2" y1="384.5" x2="623.2" y2="290.1" stroke="#e2e2e2" stroke-width="0.5"/>
<line x1="440.3" y1="387" x2="536.7" y2="410.5" stroke="#e2e2e2" stroke-width="0.5"/>
<line x1="488.4" y1="372.6" x2="584.8" y2="396.1" stroke="#e2e2e2" stroke-width="0.5"/>
<line x1="464.4" y1="392.9" x2="550.9" y2="366.9" stroke="#e2e2e2" stroke-width="0.5"/>
<line x1="488.5" y1="398.8" x2="575" y2="372.7" stroke="#e2e2e2" stroke-width="0.5"/>
<line x1="512.6" y1="404.6" x2="599.1" y2="378.6" stroke="#e2e2e2" stroke-width="0.5"/>
<defs><linearGradient id="w4" gradientUnits="userSpaceOnUse" x1="0" y1="324" x2="0" y2="396"><stop offset="0" stop-color="#7c7876"/><stop offset="0.15" stop-color="#a19d9a"/><stop offset="0.35" stop-color="#cbc6c3"/><stop offset="0.55" stop-color="#eae4e0"/><stop offset="0.78" stop-color="#faeee6"/><stop offset="0.92" stop-color="#fce6d6"/><stop offset="1" stop-color="#fddcc2"/></linearGradient><linearGradient id="w4h" gradientUnits="userSpaceOnUse" x1="0" y1="324" x2="0" y2="396"><stop offset="0" stop-color="#333" stop-opacity="0.75"/><stop offset="0.5" stop-color="#555" stop-opacity="0.45"/><stop offset="0.8" stop-color="#a88" stop-opacity="0.2"/><stop offset="1" stop-color="#fb9" stop-opacity="0.3"/></linearGradient><linearGradient id="f4" gradientUnits="userSpaceOnUse" x1="520" y1="300" x2="560" y2="375"><stop offset="0" stop-color="#9d9997"/><stop offset="0.4" stop-color="#bbb1ab"/><stop offset="0.75" stop-color="#ebc8b1"/><stop offset="1" stop-color="#fbd0a6"/></linearGradient><linearGradient id="mw4g" gradientUnits="userSpaceOnUse" x1="0" y1="324" x2="0" y2="396"><stop offset="0" stop-color="#fff"/><stop offset="0.45" stop-color="#aaa"/><stop offset="0.8" stop-color="#333"/><stop offset="1" stop-color="#111"/></linearGradient><mask id="mw4"><rect x="470" y="320" width="110" height="80" fill="url(#mw4g)"/></mask><pattern id="dots4" width="1.8" height="1.6" patternUnits="userSpaceOnUse" patternTransform="rotate(-16)"><rect width="1.8" height="1.6" fill="#55524f"/><rect width="1.1" height="0.9" fill="#1a1818"/></pattern></defs>
<polygon points="476.3,395.6 536.7,410.5 623.2,384.5 574.3,374 573.2,380.1 525.3,388.8" fill="#FDCA8C" stroke="none" stroke-width="0" />
<defs><linearGradient id="w4x" gradientUnits="userSpaceOnUse" x1="476" y1="0" x2="574" y2="0"><stop offset="0" stop-color="#8f8b89"/><stop offset="0.3" stop-color="#a7a3a0"/><stop offset="0.55" stop-color="#c3bbb6"/><stop offset="0.75" stop-color="#e0cfc6"/><stop offset="0.9" stop-color="#f3d9c8"/><stop offset="1" stop-color="#f9d6bc"/></linearGradient><linearGradient id="w4v" gradientUnits="userSpaceOnUse" x1="0" y1="324" x2="0" y2="396"><stop offset="0" stop-color="#555" stop-opacity="0.35"/><stop offset="0.12" stop-color="#777" stop-opacity="0.12"/><stop offset="0.3" stop-color="#fff" stop-opacity="0.0"/><stop offset="0.75" stop-color="#fff" stop-opacity="0.12"/><stop offset="1" stop-color="#fde" stop-opacity="0.3"/></linearGradient><linearGradient id="w4m" gradientUnits="userSpaceOnUse" x1="476" y1="0" x2="574" y2="0"><stop offset="0" stop-color="#fff"/><stop offset="0.5" stop-color="#bbb"/><stop offset="0.8" stop-color="#444"/><stop offset="1" stop-color="#111"/></linearGradient><mask id="mw4x"><rect x="470" y="320" width="110" height="80" fill="url(#w4m)"/></mask></defs>
<polygon points="476.3,324.6 531.8,323.5 542.7,336.6 553.6,351.8 562.3,367 573.2,379 573.2,380.1 525.3,388.8 476.3,395.6" fill="url(#w4x)" stroke="none" stroke-width="0" />
<clipPath id="cw4"><polygon points="476.3,324.6 531.8,323.5 542.7,336.6 553.6,351.8 562.3,367 573.2,379 573.2,380.1 525.3,388.8 476.3,395.6"/></clipPath>
<g clip-path="url(#cw4)"><rect x="476" y="320" width="100" height="80" fill="url(#hg)" opacity="0.42" mask="url(#mw4x)"/>
<rect x="476" y="320" width="100" height="80" fill="url(#w4v)"/>
<path d="M479.5 325 q 1.6 30 0.6 72" stroke="#fff" stroke-width="1.25" fill="none" opacity="0.6"/>
<path d="M484.1 325 q 1.6 30 0.6 72" stroke="#fff" stroke-width="1.25" fill="none" opacity="0.5"/>
<path d="M488.6 325 q 1.6 30 0.6 72" stroke="#fff" stroke-width="1.25" fill="none" opacity="0.6"/>
<path d="M493.1 325 q 1.6 30 0.6 72" stroke="#fff" stroke-width="1.25" fill="none" opacity="0.5"/>
<path d="M497.7 325 q 1.6 30 0.6 72" stroke="#fff" stroke-width="1.25" fill="none" opacity="0.6"/>
<path d="M502.2 325 q 1.6 30 0.6 72" stroke="#fff" stroke-width="1.25" fill="none" opacity="0.5"/>
<path d="M506.8 325 q 1.6 30 0.6 72" stroke="#fff" stroke-width="1.25" fill="none" opacity="0.6"/>
<path d="M511.4 325 q 1.6 30 0.6 72" stroke="#fff" stroke-width="1.25" fill="none" opacity="0.5"/>
<path d="M515.9 325 q 1.6 30 0.6 72" stroke="#fff" stroke-width="1.25" fill="none" opacity="0.6"/>
<path d="M520.5 325 q 1.6 30 0.6 72" stroke="#fff" stroke-width="1.25" fill="none" opacity="0.5"/>
<path d="M525 325 q 1.6 30 0.6 72" stroke="#fff" stroke-width="1.25" fill="none" opacity="0.6"/>
<path d="M529.5 325 q 1.6 30 0.6 72" stroke="#fff" stroke-width="1.25" fill="none" opacity="0.5"/>
<path d="M534.1 325 q 1.6 30 0.6 72" stroke="#fff" stroke-width="1.25" fill="none" opacity="0.6"/>
<path d="M538.6 325 q 1.6 30 0.6 72" stroke="#fff" stroke-width="1.25" fill="none" opacity="0.5"/>
<path d="M543.2 325 q 1.6 30 0.6 72" stroke="#fff" stroke-width="1.25" fill="none" opacity="0.6"/>
<path d="M547.8 325 q 1.6 30 0.6 72" stroke="#fff" stroke-width="1.25" fill="none" opacity="0.5"/>
<path d="M552.3 325 q 1.6 30 0.6 72" stroke="#fff" stroke-width="1.25" fill="none" opacity="0.6"/>
<path d="M556.9 325 q 1.6 30 0.6 72" stroke="#fff" stroke-width="1.25" fill="none" opacity="0.5"/>
<path d="M561.4 325 q 1.6 30 0.6 72" stroke="#fff" stroke-width="1.25" fill="none" opacity="0.6"/>
<path d="M566 325 q 1.6 30 0.6 72" stroke="#fff" stroke-width="1.25" fill="none" opacity="0.5"/>
<path d="M570.5 325 q 1.6 30 0.6 72" stroke="#fff" stroke-width="1.25" fill="none" opacity="0.6"/>
<path d="M536 332 q 5 18 3 50" stroke="#f4b896" stroke-width="0.9" fill="none" opacity="0.45"/>
<path d="M540.2 337.2 q 5 18 3 50" stroke="#f4b896" stroke-width="0.9" fill="none" opacity="0.45"/>
<path d="M544.4 342.4 q 5 18 3 50" stroke="#f4b896" stroke-width="0.9" fill="none" opacity="0.45"/>
<path d="M548.6 347.6 q 5 18 3 50" stroke="#f4b896" stroke-width="0.9" fill="none" opacity="0.45"/>
<path d="M552.8 352.8 q 5 18 3 50" stroke="#f4b896" stroke-width="0.9" fill="none" opacity="0.45"/>
<path d="M557 358 q 5 18 3 50" stroke="#f4b896" stroke-width="0.9" fill="none" opacity="0.45"/>
<path d="M561.2 363.2 q 5 18 3 50" stroke="#f4b896" stroke-width="0.9" fill="none" opacity="0.45"/>
<path d="M565.4 368.4 q 5 18 3 50" stroke="#f4b896" stroke-width="0.9" fill="none" opacity="0.45"/>
<path d="M569.6 373.6 q 5 18 3 50" stroke="#f4b896" stroke-width="0.9" fill="none" opacity="0.45"/>
</g>
<line x1="476.3" y1="324.6" x2="476.3" y2="395.6" stroke="#777" stroke-width="0.8"/>
<polygon points="504.6,312.7 551.4,296.3 553.6,312.7 555.8,334.4 559,351.8 566.7,362.7 572.1,371.4 573.2,379 562.3,367 553.6,351.8 542.7,336.6 531.8,323.5 518.8,320.3" fill="url(#f4)" stroke="none" stroke-width="0" />
<clipPath id="cf4"><polygon points="504.6,312.7 551.4,296.3 553.6,312.7 555.8,334.4 559,351.8 566.7,362.7 572.1,371.4 573.2,379 562.3,367 553.6,351.8 542.7,336.6 531.8,323.5 518.8,320.3"/></clipPath>
<g clip-path="url(#cf4)">
<line x1="500" y1="318" x2="575" y2="295.5" stroke="#555" stroke-width="0.5"/>
<line x1="500" y1="323.2" x2="575" y2="300.7" stroke="#555" stroke-width="0.5"/>
<line x1="500" y1="328.4" x2="575" y2="305.9" stroke="#555" stroke-width="0.5"/>
<line x1="500" y1="333.6" x2="575" y2="311.1" stroke="#555" stroke-width="0.5"/>
<line x1="500" y1="338.8" x2="575" y2="316.3" stroke="#555" stroke-width="0.5"/>
<line x1="500" y1="344" x2="575" y2="321.5" stroke="#555" stroke-width="0.5"/>
<line x1="500" y1="349.2" x2="575" y2="326.7" stroke="#555" stroke-width="0.5"/>
<line x1="500" y1="354.4" x2="575" y2="331.9" stroke="#555" stroke-width="0.5"/>
<line x1="500" y1="359.6" x2="575" y2="337.1" stroke="#b98" stroke-width="0.5"/>
<line x1="500" y1="364.8" x2="575" y2="342.3" stroke="#b98" stroke-width="0.5"/>
<line x1="500" y1="370" x2="575" y2="347.5" stroke="#b98" stroke-width="0.5"/>
<line x1="500" y1="375.2" x2="575" y2="352.7" stroke="#b98" stroke-width="0.5"/>
<line x1="500" y1="380.4" x2="575" y2="357.9" stroke="#b98" stroke-width="0.5"/>
<line x1="500" y1="385.6" x2="575" y2="363.1" stroke="#b98" stroke-width="0.5"/>
</g>
<polyline points="551.4,296.3 553.6,312.7 555.8,334.4 559,351.8" fill="none" stroke="#5a5654" stroke-width="0.7" />
<polyline points="559,351.8 566.7,362.7 572.1,371.4 573.2,379" fill="none" stroke="#b59a88" stroke-width="0.5" />
<polyline points="531.8,323.5 542.7,336.6 553.6,351.8" fill="none" stroke="#4a4644" stroke-width="0.7" />
<polygon points="440.3,316.2 526.8,290.2 551.4,296.3 504.6,312.7 473.1,321.4 476.3,324.8" fill="#141414" stroke="none" stroke-width="0" />
<polygon points="473.1,321.4 504.6,312.7 518.8,320.3 531.8,323.5 476.3,324.4" fill="url(#dots4)" stroke="none" stroke-width="0" />
<polyline points="476.3,324.7 531.8,323.6" fill="none" stroke="#1a1414" stroke-width="1.3" />
<polyline points="504.6,312.7 518.8,320.3 531.8,323.5" fill="none" stroke="#222" stroke-width="0.9" />
<line x1="440.3" y1="387" x2="440.3" y2="292.6" stroke="#4d4d4d" stroke-width="0.6"/>
<line x1="440.3" y1="387" x2="536.7" y2="410.5" stroke="#4d4d4d" stroke-width="0.6"/>
<line x1="536.7" y1="410.5" x2="623.2" y2="384.5" stroke="#4d4d4d" stroke-width="0.6"/>
<line x1="440.3" y1="387" x2="436.5" y2="387" stroke="#4d4d4d" stroke-width="0.6"/>
<text x="432.3" y="389.7" font-size="8.3" text-anchor="middle" fill="#4a4a4a"  >0</text>
<line x1="440.3" y1="363.4" x2="436.5" y2="363.4" stroke="#4d4d4d" stroke-width="0.6"/>
<text x="432.3" y="366.1" font-size="8.3" text-anchor="middle" fill="#4a4a4a"  >2</text>
<line x1="440.3" y1="339.8" x2="436.5" y2="339.8" stroke="#4d4d4d" stroke-width="0.6"/>
<text x="432.3" y="342.5" font-size="8.3" text-anchor="middle" fill="#4a4a4a"  >4</text>
<line x1="440.3" y1="316.2" x2="436.5" y2="316.2" stroke="#4d4d4d" stroke-width="0.6"/>
<text x="432.3" y="318.9" font-size="8.3" text-anchor="middle" fill="#4a4a4a"  >6</text>
<line x1="440.3" y1="292.6" x2="436.5" y2="292.6" stroke="#4d4d4d" stroke-width="0.6"/>
<text x="432.3" y="295.3" font-size="8.3" text-anchor="middle" fill="#4a4a4a"  >8</text>
<line x1="440.3" y1="387" x2="437.9" y2="388.2" stroke="#4d4d4d" stroke-width="0.6"/>
<text x="431.6" y="397.3" font-size="8.3" text-anchor="middle" fill="#4a4a4a"  >-1</text>
<line x1="464.4" y1="392.9" x2="462" y2="394.1" stroke="#4d4d4d" stroke-width="0.6"/>
<text x="455.7" y="403.2" font-size="8.3" text-anchor="middle" fill="#4a4a4a"  >0</text>
<line x1="488.5" y1="398.8" x2="486.1" y2="399.9" stroke="#4d4d4d" stroke-width="0.6"/>
<text x="479.8" y="409" font-size="8.3" text-anchor="middle" fill="#4a4a4a"  >1</text>
<line x1="512.6" y1="404.6" x2="510.2" y2="405.8" stroke="#4d4d4d" stroke-width="0.6"/>
<text x="503.9" y="414.9" font-size="8.3" text-anchor="middle" fill="#4a4a4a"  >2</text>
<line x1="536.7" y1="410.5" x2="534.3" y2="411.7" stroke="#4d4d4d" stroke-width="0.6"/>
<text x="528" y="420.8" font-size="8.3" text-anchor="middle" fill="#4a4a4a"  >3</text>
<line x1="536.7" y1="410.5" x2="539.3" y2="411.5" stroke="#4d4d4d" stroke-width="0.6"/>
<text x="544.2" y="420.6" font-size="8.3" text-anchor="middle" fill="#4a4a4a"  >0</text>
<line x1="584.8" y1="396.1" x2="587.4" y2="397.1" stroke="#4d4d4d" stroke-width="0.6"/>
<text x="592.2" y="406.1" font-size="8.3" text-anchor="middle" fill="#4a4a4a"  >5</text>
<text x="415.3" y="284.2" font-size="8.3" text-anchor="start" fill="#4a4a4a"  >×10<tspan font-size="6.2" dy="-3.4"> -3</tspan></text>
<text x="479.3" y="427.8" font-size="12.0" text-anchor="middle" class="m" fill="#222" textLength="29" lengthAdjust="spacing"><tspan font-style="italic">z</tspan> [m]</text>
<text x="587" y="426.6" font-size="12.0" text-anchor="middle" class="m" fill="#222" textLength="24" lengthAdjust="spacing"><tspan font-style="italic">t</tspan> [h]</text>
<text x="421" y="343.6" font-size="12.0" text-anchor="middle" class="m" fill="#222" transform="rotate(-90 421 340)" textLength="90" lengthAdjust="spacing"><tspan font-style="italic">S</tspan><tspan font-size="70%" dy="2">NO<tspan font-size="80%" dy="1">3</tspan><tspan dy="-1">&#8203;</tspan></tspan><tspan dy="-2">&#8203;</tspan>(<tspan font-style="italic">z</tspan>, <tspan font-style="italic">t</tspan>) [kg/m<tspan font-size="70%" dy="-4">3</tspan><tspan dy="4">&#8203;</tspan>]</text>
<rect x="407" y="440" width="260" height="172" fill="#fff"/>
<line x1="433.4" y1="555.6" x2="518.2" y2="530.8" stroke="#e2e2e2" stroke-width="0.5"/>
<line x1="518.2" y1="530.8" x2="615.2" y2="554.4" stroke="#e2e2e2" stroke-width="0.5"/>
<line x1="433.4" y1="532.1" x2="518.2" y2="507.3" stroke="#e2e2e2" stroke-width="0.5"/>
<line x1="518.2" y1="507.3" x2="615.2" y2="530.9" stroke="#e2e2e2" stroke-width="0.5"/>
<line x1="433.4" y1="508.7" x2="518.2" y2="483.9" stroke="#e2e2e2" stroke-width="0.5"/>
<line x1="518.2" y1="483.9" x2="615.2" y2="507.4" stroke="#e2e2e2" stroke-width="0.5"/>
<line x1="433.4" y1="485.2" x2="518.2" y2="460.4" stroke="#e2e2e2" stroke-width="0.5"/>
<line x1="518.2" y1="460.4" x2="615.2" y2="484" stroke="#e2e2e2" stroke-width="0.5"/>
<line x1="433.4" y1="461.7" x2="518.2" y2="436.9" stroke="#e2e2e2" stroke-width="0.5"/>
<line x1="518.2" y1="436.9" x2="615.2" y2="460.5" stroke="#e2e2e2" stroke-width="0.5"/>
<line x1="454.6" y1="549.4" x2="454.6" y2="455.5" stroke="#e2e2e2" stroke-width="0.5"/>
<line x1="475.8" y1="543.2" x2="475.8" y2="449.3" stroke="#e2e2e2" stroke-width="0.5"/>
<line x1="497" y1="537" x2="497" y2="443.1" stroke="#e2e2e2" stroke-width="0.5"/>
<line x1="518.2" y1="530.8" x2="518.2" y2="436.9" stroke="#e2e2e2" stroke-width="0.5"/>
<line x1="615.2" y1="554.4" x2="615.2" y2="460.5" stroke="#e2e2e2" stroke-width="0.5"/>
<line x1="561.3" y1="541.3" x2="561.3" y2="447.4" stroke="#e2e2e2" stroke-width="0.5"/>
<line x1="530.4" y1="579.2" x2="615.2" y2="554.4" stroke="#e2e2e2" stroke-width="0.5"/>
<line x1="476.5" y1="566.1" x2="561.3" y2="541.3" stroke="#e2e2e2" stroke-width="0.5"/>
<line x1="551.6" y1="573" x2="454.6" y2="549.4" stroke="#e2e2e2" stroke-width="0.5"/>
<line x1="572.8" y1="566.8" x2="475.8" y2="543.2" stroke="#e2e2e2" stroke-width="0.5"/>
<line x1="594" y1="560.6" x2="497" y2="537" stroke="#e2e2e2" stroke-width="0.5"/>
<defs><linearGradient id="a6" gradientUnits="userSpaceOnUse" x1="0" y1="476" x2="0" y2="560"><stop offset="0" stop-color="#8d7f78"/><stop offset="0.12" stop-color="#b09d92"/><stop offset="0.3" stop-color="#d5bfb1"/><stop offset="0.5" stop-color="#efd7c6"/><stop offset="0.7" stop-color="#fbe2cd"/><stop offset="0.88" stop-color="#fcd9b6"/><stop offset="1" stop-color="#fdcf9c"/></linearGradient><linearGradient id="b6" gradientUnits="userSpaceOnUse" x1="0" y1="474" x2="0" y2="568"><stop offset="0" stop-color="#1c1a19"/><stop offset="0.13" stop-color="#4a413d"/><stop offset="0.3" stop-color="#8a7468"/><stop offset="0.48" stop-color="#cc9c80"/><stop offset="0.64" stop-color="#f0b088"/><stop offset="0.8" stop-color="#fab983"/><stop offset="1" stop-color="#fdc68a"/></linearGradient><linearGradient id="c6" gradientUnits="userSpaceOnUse" x1="0" y1="486" x2="0" y2="568"><stop offset="0" stop-color="#1b1918"/><stop offset="0.2" stop-color="#4a4543"/><stop offset="0.45" stop-color="#98908c"/><stop offset="0.7" stop-color="#ded3cc"/><stop offset="0.9" stop-color="#fae6d6"/><stop offset="1" stop-color="#fcdcc0"/></linearGradient><linearGradient id="c6h" gradientUnits="userSpaceOnUse" x1="0" y1="486" x2="0" y2="568"><stop offset="0" stop-color="#111" stop-opacity="0.9"/><stop offset="0.35" stop-color="#222" stop-opacity="0.7"/><stop offset="0.7" stop-color="#544" stop-opacity="0.35"/><stop offset="1" stop-color="#a87" stop-opacity="0.1"/></linearGradient><mask id="m6"><rect x="400" y="440" width="300" height="180" fill="url(#m6g)"/></mask><linearGradient id="m6g" gradientUnits="userSpaceOnUse" x1="0" y1="486" x2="0" y2="568"><stop offset="0" stop-color="#fff"/><stop offset="0.4" stop-color="#ccc"/><stop offset="0.8" stop-color="#555"/><stop offset="1" stop-color="#222"/></linearGradient></defs>
<polygon points="433.4,555.6 530.4,579.2 562.3,569.8 536.7,565.9 510.1,561.1 455.5,550.7" fill="#FDCA8C" stroke="none" stroke-width="0" />
<defs><radialGradient id="rb6" gradientUnits="userSpaceOnUse" cx="540" cy="500" r="31" gradientTransform="translate(540 500) scale(0.6 1) translate(-540 -500)"><stop offset="0" stop-color="#151212" stop-opacity="0.95"/><stop offset="0.45" stop-color="#2a2220" stop-opacity="0.85"/><stop offset="0.8" stop-color="#5a4a42" stop-opacity="0.4"/><stop offset="1" stop-color="#8a7060" stop-opacity="0"/></radialGradient><linearGradient id="c6b" gradientUnits="userSpaceOnUse" x1="530" y1="486.8" x2="502.9" y2="562"><stop offset="0" stop-color="#2a2522"/><stop offset="0.08" stop-color="#62574f"/><stop offset="0.2" stop-color="#9e9088"/><stop offset="0.38" stop-color="#d6c9c1"/><stop offset="0.6" stop-color="#f3e8e0"/><stop offset="1" stop-color="#fde0c6"/></linearGradient><linearGradient id="sd6" gradientUnits="userSpaceOnUse" x1="0" y1="490" x2="0" y2="570"><stop offset="0" stop-color="#2a201c" stop-opacity="0.8"/><stop offset="0.4" stop-color="#5a4438" stop-opacity="0.55"/><stop offset="0.8" stop-color="#a07860" stop-opacity="0.3"/><stop offset="1" stop-color="#c09070" stop-opacity="0.1"/></linearGradient><linearGradient id="st6" gradientUnits="userSpaceOnUse" x1="0" y1="490" x2="0" y2="570"><stop offset="0" stop-color="#fff" stop-opacity="0.0"/><stop offset="0.25" stop-color="#fff" stop-opacity="0.5"/><stop offset="0.6" stop-color="#fff" stop-opacity="0.9"/><stop offset="1" stop-color="#fff" stop-opacity="0.6"/></linearGradient></defs>
<path d="M495.6 474.4 L563.2 498.8 L562.4 569.6 L560 568.7 L560 568.7 L544.3 562.5 L531.7 549.9 L522.3 535.7 L512.9 520 L501.9 496.4 L495.6 474.4 Z" fill="url(#c6b)"/>
<clipPath id="cc6"><path d="M495.6 474.4 L563.2 498.8 L562.4 569.6 L560 568.7 L560 568.7 L544.3 562.5 L531.7 549.9 L522.3 535.7 L512.9 520 L501.9 496.4 L495.6 474.4 Z"/></clipPath>
<g clip-path="url(#cc6)">
<g mask="url(#m6)">
<path d="M499.1 475.7 C500.1 479.1 502.2 489 504.9 496.4 C507.5 503.8 511.9 513.5 515 520 C518.1 526.5 520.8 530.7 523.7 535.7 C526.5 540.7 528.9 545.4 532.3 549.9 C535.7 554.4 539.6 559 543.9 562.5 C548.2 566 555.9 569.3 558.3 570.7" stroke="#3a2a24" stroke-width="0.85" fill="none" opacity="0.8"/>
<path d="M503.2 477.1 C504.1 480.3 506.1 489.3 508.5 496.4 C510.9 503.5 514.8 513.5 517.7 520 C520.5 526.5 522.9 530.7 525.6 535.7 C528.2 540.7 530.4 545.4 533.4 549.9 C536.5 554.4 540 559 544 562.5 C547.9 566 554.9 569.3 557.1 570.7" stroke="#3a2a24" stroke-width="0.85" fill="none" opacity="0.7"/>
<path d="M507.3 478.6 C508.1 481.6 509.9 489.5 512.1 496.4 C514.2 503.3 517.8 513.5 520.4 520 C522.9 526.5 525.1 530.7 527.4 535.7 C529.8 540.7 531.8 545.4 534.5 549.9 C537.3 554.4 540.5 559 544 562.5 C547.6 566 553.9 569.3 555.9 570.7" stroke="#3a2a24" stroke-width="0.85" fill="none" opacity="0.7"/>
<path d="M511.4 480.1 C512.1 482.8 513.7 489.7 515.6 496.4 C517.6 503.1 520.7 513.5 523 520 C525.3 526.5 527.2 530.7 529.3 535.7 C531.4 540.7 533.2 545.4 535.6 549.9 C538.1 554.4 540.9 559 544.1 562.5 C547.3 566 552.9 569.3 554.7 570.7" stroke="#3a2a24" stroke-width="0.85" fill="none" opacity="0.7"/>
<path d="M515.5 481.6 C516.1 484 517.5 490 519.2 496.4 C520.9 502.8 523.7 513.5 525.7 520 C527.7 526.5 529.4 530.7 531.2 535.7 C533.1 540.7 534.6 545.4 536.8 549.9 C538.9 554.4 541.4 559 544.2 562.5 C547 566 551.9 569.3 553.4 570.7" stroke="#3a2a24" stroke-width="0.85" fill="none" opacity="0.7"/>
<path d="M519.6 483 C520.1 485.3 521.3 490.2 522.8 496.4 C524.2 502.6 526.6 513.5 528.4 520 C530.1 526.5 531.5 530.7 533.1 535.7 C534.7 540.7 536 545.4 537.9 549.9 C539.7 554.4 541.9 559 544.2 562.5 C546.6 566 550.9 569.3 552.2 570.7" stroke="#3a2a24" stroke-width="0.85" fill="none" opacity="0.7"/>
<path d="M523.7 484.5 C524.1 486.5 525.1 490.5 526.4 496.4 C527.6 502.3 529.6 513.5 531 520 C532.5 526.5 533.7 530.7 535 535.7 C536.3 540.7 537.4 545.4 539 549.9 C540.5 554.4 542.3 559 544.3 562.5 C546.3 566 549.8 569.3 551 570.7" stroke="#3a2a24" stroke-width="0.85" fill="none" opacity="0.6"/>
<path d="M527.8 486 C528.2 487.7 529 490.7 529.9 496.4 C530.9 502.1 532.5 513.5 533.7 520 C534.8 526.5 535.8 530.7 536.9 535.7 C538 540.7 538.8 545.4 540.1 549.9 C541.3 554.4 542.8 559 544.4 562.5 C546 566 548.8 569.3 549.7 570.7" stroke="#3a2a24" stroke-width="0.85" fill="none" opacity="0.6"/>
<path d="M531.9 487.5 C532.2 489 532.8 491 533.5 496.4 C534.3 501.8 535.5 513.5 536.4 520 C537.2 526.5 538 530.7 538.8 535.7 C539.6 540.7 540.3 545.4 541.2 549.9 C542.1 554.4 543.2 559 544.4 562.5 C545.7 566 547.8 569.3 548.5 570.7" stroke="#3a2a24" stroke-width="0.85" fill="none" opacity="0.6"/>
<path d="M536 488.9 C536.2 490.2 536.6 491.2 537.2 496.4 C537.7 501.6 538.6 513.5 539.2 520 C539.8 526.5 540.3 530.7 540.9 535.7 C541.5 540.7 542 545.4 542.6 549.9 C543.3 554.4 544.1 559 545 562.5 C545.8 566 547.4 569.3 547.8 570.7" stroke="#3a2a24" stroke-width="0.85" fill="none" opacity="0.6"/>
<path d="M540.1 490.4 C540.3 491.4 540.7 491.5 541.3 496.4 C541.8 501.3 542.7 513.5 543.3 520 C543.9 526.5 544.4 530.7 545 535.7 C545.6 540.7 546.1 545.4 546.7 549.9 C547.4 554.4 548.2 559 549.1 562.5 C549.9 566 551.5 569.3 551.9 570.7" stroke="#3a2a24" stroke-width="0.85" fill="none" opacity="0.6"/>
</g>
<rect x="500" y="470" width="70" height="100" fill="url(#rb6)"/>
<rect x="545.5" y="488" width="1.3" height="84" fill="url(#st6)"/>
<rect x="547" y="488" width="0.6" height="84" fill="url(#sd6)"/>
<rect x="548" y="488" width="1.3" height="84" fill="url(#st6)"/>
<rect x="549.5" y="488" width="0.6" height="84" fill="url(#sd6)"/>
<rect x="550.5" y="488" width="1.3" height="84" fill="url(#st6)"/>
<rect x="552" y="488" width="0.6" height="84" fill="url(#sd6)"/>
<rect x="553" y="488" width="1.3" height="84" fill="url(#st6)"/>
<rect x="554.5" y="488" width="0.6" height="84" fill="url(#sd6)"/>
<rect x="555.5" y="488" width="1.3" height="84" fill="url(#st6)"/>
<rect x="557" y="488" width="0.6" height="84" fill="url(#sd6)"/>
<rect x="558" y="488" width="1.3" height="84" fill="url(#st6)"/>
<rect x="559.5" y="488" width="0.6" height="84" fill="url(#sd6)"/>
<rect x="560.5" y="488" width="1.3" height="84" fill="url(#st6)"/>
<rect x="562" y="488" width="0.6" height="84" fill="url(#sd6)"/>
</g>
<line x1="562.4" y1="498.6" x2="562.4" y2="569.5" stroke="#a9a09a" stroke-width="0.6"/>
<polygon points="455.5,550.7 464.1,476.8 473.6,476.8 478.3,496.4 486.2,520 494,535.7 503.4,556.2 506.6,560.9" fill="url(#a6)" stroke="none" stroke-width="0" />
<clipPath id="ca6"><polygon points="455.5,550.7 464.1,476.8 473.6,476.8 478.3,496.4 486.2,520 494,535.7 503.4,556.2 506.6,560.9"/></clipPath>
<g clip-path="url(#ca6)">
<line x1="452" y1="478.5" x2="515" y2="493.5" stroke="#3a302c" stroke-width="0.6" opacity="0.8"/>
<line x1="452" y1="482.2" x2="515" y2="497.2" stroke="#3a302c" stroke-width="0.6" opacity="0.8"/>
<line x1="452" y1="486" x2="515" y2="501" stroke="#3a302c" stroke-width="0.6" opacity="0.7"/>
<line x1="452" y1="489.8" x2="515" y2="504.8" stroke="#3a302c" stroke-width="0.6" opacity="0.7"/>
<line x1="452" y1="493.5" x2="515" y2="508.5" stroke="#3a302c" stroke-width="0.6" opacity="0.7"/>
<line x1="452" y1="497.2" x2="515" y2="512.2" stroke="#3a302c" stroke-width="0.6" opacity="0.7"/>
<line x1="452" y1="501" x2="515" y2="516" stroke="#3a302c" stroke-width="0.6" opacity="0.6"/>
<line x1="452" y1="504.8" x2="515" y2="519.8" stroke="#3a302c" stroke-width="0.6" opacity="0.6"/>
<line x1="452" y1="508.5" x2="515" y2="523.5" stroke="#3a302c" stroke-width="0.6" opacity="0.6"/>
<line x1="452" y1="512.2" x2="515" y2="527.2" stroke="#3a302c" stroke-width="0.6" opacity="0.5"/>
<line x1="452" y1="516" x2="515" y2="531" stroke="#3a302c" stroke-width="0.6" opacity="0.5"/>
<line x1="452" y1="519.8" x2="515" y2="534.8" stroke="#3a302c" stroke-width="0.6" opacity="0.5"/>
<line x1="452" y1="523.5" x2="515" y2="538.5" stroke="#3a302c" stroke-width="0.6" opacity="0.4"/>
<line x1="452" y1="527.2" x2="515" y2="542.2" stroke="#3a302c" stroke-width="0.6" opacity="0.4"/>
<line x1="452" y1="531" x2="515" y2="546" stroke="#3a302c" stroke-width="0.6" opacity="0.4"/>
<line x1="452" y1="534.8" x2="515" y2="549.8" stroke="#3a302c" stroke-width="0.6" opacity="0.4"/>
<line x1="452" y1="538.5" x2="515" y2="553.5" stroke="#3a302c" stroke-width="0.6" opacity="0.3"/>
<line x1="452" y1="542.2" x2="515" y2="557.2" stroke="#3a302c" stroke-width="0.6" opacity="0.3"/>
<line x1="452" y1="546" x2="515" y2="561" stroke="#3a302c" stroke-width="0.6" opacity="0.3"/>
<line x1="452" y1="549.8" x2="515" y2="564.8" stroke="#3a302c" stroke-width="0.6" opacity="0.2"/>
<line x1="452" y1="553.5" x2="515" y2="568.5" stroke="#3a302c" stroke-width="0.6" opacity="0.2"/>
<line x1="452" y1="557.2" x2="515" y2="572.2" stroke="#3a302c" stroke-width="0.6" opacity="0.2"/>
</g>
<line x1="455.5" y1="550.7" x2="464.1" y2="476.8" stroke="#b59a88" stroke-width="0.5"/>
<path d="M473.6 476.8 C474.4 480.1 476.2 489.2 478.3 496.4 C480.4 503.6 483.6 513.5 486.2 520 C488.8 526.5 491.1 529.7 494 535.7 C496.9 541.7 501.3 552 503.4 556.2 C505.5 560.4 506.1 560.1 506.6 560.9 L560 568.7 L544.3 562.5 L531.7 549.9 L522.3 535.7 L512.9 520 L501.9 496.4 L495.6 474.4 Z" fill="url(#b6)"/>
<clipPath id="cb6"><path d="M473.6 476.8 C474.4 480.1 476.2 489.2 478.3 496.4 C480.4 503.6 483.6 513.5 486.2 520 C488.8 526.5 491.1 529.7 494 535.7 C496.9 541.7 501.3 552 503.4 556.2 C505.5 560.4 506.1 560.1 506.6 560.9 L560 568.7 L544.3 562.5 L531.7 549.9 L522.3 535.7 L512.9 520 L501.9 496.4 L495.6 474.4 Z"/></clipPath>
<g clip-path="url(#cb6)">
<line x1="470" y1="467.6" x2="565" y2="453.6" stroke="#241e1c" stroke-width="0.5" opacity="0.6"/>
<line x1="470" y1="469.5" x2="565" y2="455.5" stroke="#241e1c" stroke-width="0.5" opacity="0.6"/>
<line x1="470" y1="471.4" x2="565" y2="457.4" stroke="#241e1c" stroke-width="0.5" opacity="0.6"/>
<line x1="470" y1="473.3" x2="565" y2="459.3" stroke="#241e1c" stroke-width="0.5" opacity="0.6"/>
<line x1="470" y1="475.2" x2="565" y2="461.2" stroke="#241e1c" stroke-width="0.5" opacity="0.6"/>
<line x1="470" y1="477.1" x2="565" y2="463.1" stroke="#241e1c" stroke-width="0.5" opacity="0.6"/>
<line x1="470" y1="479" x2="565" y2="465" stroke="#241e1c" stroke-width="0.5" opacity="0.6"/>
<line x1="470" y1="480.9" x2="565" y2="466.9" stroke="#241e1c" stroke-width="0.5" opacity="0.6"/>
<line x1="470" y1="482.8" x2="565" y2="468.8" stroke="#241e1c" stroke-width="0.5" opacity="0.6"/>
<line x1="470" y1="484.7" x2="565" y2="470.7" stroke="#241e1c" stroke-width="0.5" opacity="0.6"/>
<line x1="470" y1="486.6" x2="565" y2="472.6" stroke="#241e1c" stroke-width="0.5" opacity="0.5"/>
<line x1="470" y1="488.5" x2="565" y2="474.5" stroke="#241e1c" stroke-width="0.5" opacity="0.5"/>
<line x1="470" y1="490.4" x2="565" y2="476.4" stroke="#241e1c" stroke-width="0.5" opacity="0.5"/>
<line x1="470" y1="492.3" x2="565" y2="478.3" stroke="#241e1c" stroke-width="0.5" opacity="0.5"/>
<line x1="470" y1="494.2" x2="565" y2="480.2" stroke="#241e1c" stroke-width="0.5" opacity="0.5"/>
<line x1="470" y1="496.1" x2="565" y2="482.1" stroke="#241e1c" stroke-width="0.5" opacity="0.5"/>
<line x1="470" y1="498" x2="565" y2="484" stroke="#241e1c" stroke-width="0.5" opacity="0.5"/>
<line x1="470" y1="499.9" x2="565" y2="485.9" stroke="#241e1c" stroke-width="0.5" opacity="0.5"/>
<line x1="470" y1="501.8" x2="565" y2="487.8" stroke="#241e1c" stroke-width="0.5" opacity="0.4"/>
<line x1="470" y1="503.7" x2="565" y2="489.7" stroke="#241e1c" stroke-width="0.5" opacity="0.4"/>
<line x1="470" y1="505.6" x2="565" y2="491.6" stroke="#241e1c" stroke-width="0.5" opacity="0.4"/>
<line x1="470" y1="507.5" x2="565" y2="493.5" stroke="#241e1c" stroke-width="0.5" opacity="0.4"/>
<line x1="470" y1="509.4" x2="565" y2="495.4" stroke="#241e1c" stroke-width="0.5" opacity="0.4"/>
<line x1="470" y1="511.3" x2="565" y2="497.3" stroke="#241e1c" stroke-width="0.5" opacity="0.4"/>
<line x1="470" y1="513.2" x2="565" y2="499.2" stroke="#241e1c" stroke-width="0.5" opacity="0.4"/>
<line x1="470" y1="515.1" x2="565" y2="501.1" stroke="#241e1c" stroke-width="0.5" opacity="0.4"/>
<line x1="470" y1="517" x2="565" y2="503" stroke="#241e1c" stroke-width="0.5" opacity="0.3"/>
<line x1="470" y1="518.9" x2="565" y2="504.9" stroke="#241e1c" stroke-width="0.5" opacity="0.3"/>
<line x1="470" y1="520.8" x2="565" y2="506.8" stroke="#241e1c" stroke-width="0.5" opacity="0.3"/>
<line x1="470" y1="522.7" x2="565" y2="508.7" stroke="#241e1c" stroke-width="0.5" opacity="0.3"/>
<line x1="470" y1="524.6" x2="565" y2="510.6" stroke="#241e1c" stroke-width="0.5" opacity="0.3"/>
<line x1="470" y1="526.5" x2="565" y2="512.5" stroke="#241e1c" stroke-width="0.5" opacity="0.3"/>
<line x1="470" y1="528.4" x2="565" y2="514.4" stroke="#241e1c" stroke-width="0.5" opacity="0.3"/>
<line x1="470" y1="530.3" x2="565" y2="516.3" stroke="#241e1c" stroke-width="0.5" opacity="0.2"/>
<line x1="470" y1="532.2" x2="565" y2="518.2" stroke="#241e1c" stroke-width="0.5" opacity="0.2"/>
<line x1="470" y1="534.1" x2="565" y2="520.1" stroke="#241e1c" stroke-width="0.5" opacity="0.2"/>
<line x1="470" y1="536" x2="565" y2="522" stroke="#241e1c" stroke-width="0.5" opacity="0.2"/>
<line x1="470" y1="537.9" x2="565" y2="523.9" stroke="#241e1c" stroke-width="0.5" opacity="0.2"/>
<line x1="470" y1="539.8" x2="565" y2="525.8" stroke="#241e1c" stroke-width="0.5" opacity="0.2"/>
<line x1="470" y1="541.7" x2="565" y2="527.7" stroke="#241e1c" stroke-width="0.5" opacity="0.2"/>
<line x1="470" y1="543.6" x2="565" y2="529.6" stroke="#241e1c" stroke-width="0.5" opacity="0.2"/>
<line x1="470" y1="545.5" x2="565" y2="531.5" stroke="#241e1c" stroke-width="0.5" opacity="0.1"/>
<line x1="470" y1="547.4" x2="565" y2="533.4" stroke="#241e1c" stroke-width="0.5" opacity="0.1"/>
<line x1="470" y1="549.3" x2="565" y2="535.3" stroke="#241e1c" stroke-width="0.5" opacity="0.1"/>
<line x1="470" y1="551.2" x2="565" y2="537.2" stroke="#241e1c" stroke-width="0.5" opacity="0.1"/>
<line x1="470" y1="553.1" x2="565" y2="539.1" stroke="#241e1c" stroke-width="0.5" opacity="0.1"/>
<line x1="470" y1="555" x2="565" y2="541" stroke="#241e1c" stroke-width="0.5" opacity="0.1"/>
<line x1="470" y1="556.9" x2="565" y2="542.9" stroke="#241e1c" stroke-width="0.5" opacity="0.1"/>
<line x1="470" y1="558.8" x2="565" y2="544.8" stroke="#241e1c" stroke-width="0.5" opacity="0.1"/>
<line x1="470" y1="560.7" x2="565" y2="546.7" stroke="#241e1c" stroke-width="0.5" opacity="0.1"/>
<line x1="470" y1="562.6" x2="565" y2="548.6" stroke="#241e1c" stroke-width="0.5" opacity="0.1"/>
<line x1="470" y1="564.5" x2="565" y2="550.5" stroke="#241e1c" stroke-width="0.5" opacity="0.1"/>
<line x1="470" y1="566.4" x2="565" y2="552.4" stroke="#241e1c" stroke-width="0.5" opacity="0.1"/>
<line x1="470" y1="568.3" x2="565" y2="554.3" stroke="#241e1c" stroke-width="0.5" opacity="0.1"/>
<line x1="470" y1="570.2" x2="565" y2="556.2" stroke="#241e1c" stroke-width="0.5" opacity="0.1"/>
<line x1="470" y1="572.1" x2="565" y2="558.1" stroke="#241e1c" stroke-width="0.5" opacity="0.1"/>
<path d="M483.8 476 C484.8 479 487.8 488 490 494 C492.2 500 494.7 506.4 497.2 512.2 C499.7 518 502.4 523.8 505 529 C507.6 534.2 509.8 538.6 512.9 543.6 C516 548.6 520.2 555.6 523.9 559.3 C527.6 563 533.1 564.9 535 566" stroke="#fbe3d0" stroke-width="2.2" fill="none" opacity="0.55"/>
<path d="M494.4 474.9 C495.5 478.6 497.8 489.3 500.7 496.9 C503.6 504.5 508.3 514 511.7 520.5 C515.1 527 518 531.2 521.1 536.2 C524.2 541.2 526.8 545.9 530.5 550.4 C534.2 554.9 538.4 559.9 543.1 563 C547.8 566.1 556.2 568.2 558.8 569.2" stroke="#fbe3d0" stroke-width="1.2" fill="none" opacity="0.4"/>
</g>
<polygon points="464.1,476.8 518.2,460.4 615.2,484 567,497.7 563.2,498.9 530,487 495.6,475.6 473.6,477.6" fill="#151515" stroke="none" stroke-width="0" />
<line x1="433.4" y1="555.6" x2="433.4" y2="461.7" stroke="#4d4d4d" stroke-width="0.6"/>
<line x1="433.4" y1="555.6" x2="530.4" y2="579.2" stroke="#4d4d4d" stroke-width="0.6"/>
<line x1="530.4" y1="579.2" x2="615.2" y2="554.4" stroke="#4d4d4d" stroke-width="0.6"/>
<line x1="433.4" y1="555.6" x2="429.6" y2="555.6" stroke="#4d4d4d" stroke-width="0.6"/>
<text x="428.8" y="558.6" font-size="8.3" text-anchor="middle" fill="#4a4a4a"  >0</text>
<line x1="433.4" y1="532.1" x2="429.6" y2="532.1" stroke="#4d4d4d" stroke-width="0.6"/>
<text x="428.8" y="535.1" font-size="8.3" text-anchor="middle" fill="#4a4a4a"  >2</text>
<line x1="433.4" y1="508.7" x2="429.6" y2="508.7" stroke="#4d4d4d" stroke-width="0.6"/>
<text x="428.8" y="511.6" font-size="8.3" text-anchor="middle" fill="#4a4a4a"  >4</text>
<line x1="433.4" y1="485.2" x2="429.6" y2="485.2" stroke="#4d4d4d" stroke-width="0.6"/>
<text x="428.8" y="488.2" font-size="8.3" text-anchor="middle" fill="#4a4a4a"  >6</text>
<line x1="433.4" y1="461.7" x2="429.6" y2="461.7" stroke="#4d4d4d" stroke-width="0.6"/>
<text x="428.8" y="464.7" font-size="8.3" text-anchor="middle" fill="#4a4a4a"  >8</text>
<line x1="530.4" y1="579.2" x2="528.2" y2="580.6" stroke="#4d4d4d" stroke-width="0.6"/>
<text x="521.2" y="589.1" font-size="8.3" text-anchor="middle" fill="#4a4a4a"  >0</text>
<line x1="476.5" y1="566.1" x2="474.3" y2="567.5" stroke="#4d4d4d" stroke-width="0.6"/>
<text x="467.3" y="576" font-size="8.3" text-anchor="middle" fill="#4a4a4a"  >5</text>
<line x1="530.4" y1="579.2" x2="532.8" y2="580.4" stroke="#4d4d4d" stroke-width="0.6"/>
<text x="537.8" y="588.4" font-size="8.3" text-anchor="middle" fill="#4a4a4a"  >-1</text>
<line x1="551.6" y1="573" x2="554" y2="574.2" stroke="#4d4d4d" stroke-width="0.6"/>
<text x="559" y="582.2" font-size="8.3" text-anchor="middle" fill="#4a4a4a"  >0</text>
<line x1="572.8" y1="566.8" x2="575.2" y2="568" stroke="#4d4d4d" stroke-width="0.6"/>
<text x="580.2" y="576" font-size="8.3" text-anchor="middle" fill="#4a4a4a"  >1</text>
<line x1="594" y1="560.6" x2="596.4" y2="561.8" stroke="#4d4d4d" stroke-width="0.6"/>
<text x="601.4" y="569.8" font-size="8.3" text-anchor="middle" fill="#4a4a4a"  >2</text>
<line x1="615.2" y1="554.4" x2="617.6" y2="555.6" stroke="#4d4d4d" stroke-width="0.6"/>
<text x="622.6" y="563.6" font-size="8.3" text-anchor="middle" fill="#4a4a4a"  >3</text>
<text x="408.5" y="452.8" font-size="8.3" text-anchor="start" fill="#4a4a4a"  >×10<tspan font-size="6.2" dy="-3.4"> -3</tspan></text>
<text x="476.2" y="596" font-size="12.0" text-anchor="middle" class="m" fill="#222" textLength="24" lengthAdjust="spacing"><tspan font-style="italic">t</tspan> [h]</text>
<text x="585.1" y="594.9" font-size="12.0" text-anchor="middle" class="m" fill="#222" textLength="29" lengthAdjust="spacing"><tspan font-style="italic">z</tspan> [m]</text>
<text x="413.8" y="513.6" font-size="12.0" text-anchor="middle" class="m" fill="#222" transform="rotate(-90 413.8 510)" textLength="84" lengthAdjust="spacing"><tspan font-style="italic">S</tspan><tspan font-size="70%" dy="2">N<tspan font-size="80%" dy="1">2</tspan><tspan dy="-1">&#8203;</tspan></tspan><tspan dy="-2">&#8203;</tspan>(<tspan font-style="italic">z</tspan>, <tspan font-style="italic">t</tspan>) [kg/m<tspan font-size="70%" dy="-4">3</tspan><tspan dy="4">&#8203;</tspan>]</text>
</svg>
<div class="t" style="left:78.9px;top:70.29px;font-size:10.90px;letter-spacing:0.418px">16</div>
<div class="t" style="left:317.3px;top:70.29px;font-size:10.90px;letter-spacing:0.567px">BÜRGER, CAREAGA, AND DIEHL</div>
<div class="t" style="left:129.2px;top:620.73px;font-size:13.10px;letter-spacing:0.500px"><b>Figure 2.</b>&nbsp; Example 1: Reference solution with <i>N</i><span style="display:inline-block;width:0.24em"></span><span style="display:inline-block;transform:scaleX(1.25);transform-origin:50% 50%;margin:0 0.07em">=</span><span style="display:inline-block;width:0.24em"></span>4096 and <i>T</i><span style="display:inline-block;width:0.24em"></span><span style="display:inline-block;transform:scaleX(1.25);transform-origin:50% 50%;margin:0 0.07em">=</span><span style="display:inline-block;width:0.24em"></span>20<span style="display:inline-block;width:0.15em"></span>h. The solution has been</div>
<div class="t" style="left:129.2px;top:636.93px;font-size:13.10px;letter-spacing:0.500px">projected onto a coarse grid.</div>
<div class="t" style="left:78.7px;top:676.08px;font-size:14.50px;letter-spacing:0.373px">of soluble components in all examples are <b><i>S</i></b><span style="font-size:0.72em;position:relative;top:0.28em">f</span><span style="display:inline-block;width:0.24em"></span><span style="display:inline-block;transform:scaleX(1.25);transform-origin:50% 50%;margin:0 0.07em">=</span><span style="display:inline-block;width:0.24em"></span>(6.00<span style="display:inline-block;width:0.20em"></span><span style="display:inline-block;transform:scaleX(1.30);transform-origin:50% 50%;margin:0 0.08em">×</span><span style="display:inline-block;width:0.20em"></span>10<span style="font-size:0.72em;position:relative;top:-0.56em">−3</span>,<span style="display:inline-block;width:0.15em"></span>9.00<span style="display:inline-block;width:0.20em"></span><span style="display:inline-block;transform:scaleX(1.30);transform-origin:50% 50%;margin:0 0.08em">×</span><span style="display:inline-block;width:0.20em"></span>10<span style="font-size:0.72em;position:relative;top:-0.56em">−4</span>,<span style="display:inline-block;width:0.15em"></span>0)<span style="font-size:0.72em;position:relative;top:-0.56em">T</span><span style="display:inline-block;width:0.15em"></span>kg/m<span style="font-size:0.72em;position:relative;top:-0.56em">3</span>, which are chosen</div>
<div class="t" style="left:78.7px;top:693.78px;font-size:14.50px;letter-spacing:0.373px">constant with respect to time.</div>
<div class="t" style="left:78.7px;top:722.08px;font-size:14.50px;letter-spacing:0.534px">4.1. <b>Example 1.</b> In this example, we compare the new Method CS with Method XP of Bürger et al.</div>
<div class="t" style="left:78.7px;top:739.48px;font-size:14.50px;letter-spacing:0.479px">(2018). Since the latter method only handles a constant cross-sectional area, we choose <i>A</i><span style="display:inline-block;width:0.24em"></span><span style="display:inline-block;transform:scaleX(1.25);transform-origin:50% 50%;margin:0 0.07em">=</span><span style="display:inline-block;width:0.24em"></span>400<span style="display:inline-block;width:0.15em"></span>m<span style="font-size:0.72em;position:relative;top:-0.56em">2</span>.</div>
<div class="t" style="left:78.7px;top:757.08px;font-size:14.50px;letter-spacing:0.479px">The depth parameters are <i>H</i><span style="display:inline-block;width:0.24em"></span><span style="display:inline-block;transform:scaleX(1.25);transform-origin:50% 50%;margin:0 0.07em">=</span><span style="display:inline-block;width:0.24em"></span>1<span style="display:inline-block;width:0.15em"></span>m and <i>B</i><span style="display:inline-block;width:0.24em"></span><span style="display:inline-block;transform:scaleX(1.25);transform-origin:50% 50%;margin:0 0.07em">=</span><span style="display:inline-block;width:0.24em"></span>3<span style="display:inline-block;width:0.15em"></span>m. The bulk flows are given by</div>
<div class="t" style="left:149.8px;top:815.38px;font-size:14.50px;letter-spacing:0.752px"><i>Q</i><span style="font-size:0.72em;position:relative;top:0.28em">f</span>(<i>t</i>)<span style="display:inline-block;width:0.32em"></span><span style="display:inline-block;transform:scaleX(1.25);transform-origin:50% 50%;margin:0 0.07em">=</span></div>
<div class="t" style="left:217.9px;top:794.18px;font-size:14.50px;letter-spacing:0.604px">450<span style="display:inline-block;width:0.15em"></span>m<span style="font-size:0.72em;position:relative;top:-0.56em">3</span>/h</div>
<div class="t" style="left:217.9px;top:815.28px;font-size:14.50px;letter-spacing:0.604px">130<span style="display:inline-block;width:0.15em"></span>m<span style="font-size:0.72em;position:relative;top:-0.56em">3</span>/h</div>
<div class="t" style="left:217.9px;top:836.68px;font-size:14.50px;letter-spacing:0.604px">65<span style="display:inline-block;width:0.15em"></span>m<span style="font-size:0.72em;position:relative;top:-0.56em">3</span>/h</div>
<div class="t" style="left:294.0px;top:794.18px;font-size:14.50px;letter-spacing:0.519px">if 0<span style="display:inline-block;width:0.15em"></span>h<span style="display:inline-block;width:0.24em"></span><span style="display:inline-block;transform:scaleX(1.25);transform-origin:50% 50%;margin:0 0.07em">≤</span><span style="display:inline-block;width:0.24em"></span><i>t</i><span style="display:inline-block;width:0.24em"></span><span style="display:inline-block;transform:scaleX(1.25);transform-origin:50% 50%;margin:0 0.07em">&lt;</span><span style="display:inline-block;width:0.24em"></span>2<span style="display:inline-block;width:0.15em"></span>h,</div>
<div class="t" style="left:294.0px;top:815.28px;font-size:14.50px;letter-spacing:0.519px">if 2<span style="display:inline-block;width:0.15em"></span>h<span style="display:inline-block;width:0.24em"></span><span style="display:inline-block;transform:scaleX(1.25);transform-origin:50% 50%;margin:0 0.07em">≤</span><span style="display:inline-block;width:0.24em"></span><i>t</i><span style="display:inline-block;width:0.24em"></span><span style="display:inline-block;transform:scaleX(1.25);transform-origin:50% 50%;margin:0 0.07em">&lt;</span><span style="display:inline-block;width:0.24em"></span>4<span style="display:inline-block;width:0.15em"></span>h,</div>
<div class="t" style="left:294.0px;top:836.68px;font-size:14.50px;letter-spacing:0.519px">if <i>t</i><span style="display:inline-block;width:0.24em"></span><span style="display:inline-block;transform:scaleX(1.25);transform-origin:50% 50%;margin:0 0.07em">≥</span><span style="display:inline-block;width:0.24em"></span>4<span style="display:inline-block;width:0.15em"></span>h,</div>
<div class="t" style="left:429.5px;top:815.38px;font-size:14.50px;letter-spacing:0.648px"><i>Q</i><span style="font-size:0.72em;position:relative;top:0.28em">u</span>(<i>t</i>)<span style="display:inline-block;width:0.32em"></span><span style="display:inline-block;transform:scaleX(1.25);transform-origin:50% 50%;margin:0 0.07em">=</span></div>
<div class="t" style="left:498.5px;top:804.78px;font-size:14.50px;letter-spacing:0.884px">100<span style="display:inline-block;width:0.15em"></span>m<span style="font-size:0.72em;position:relative;top:-0.56em">3</span>/h</div>
<div class="t" style="left:498.5px;top:783.68px;font-size:14.50px;letter-spacing:0.884px">30<span style="display:inline-block;width:0.15em"></span>m<span style="font-size:0.72em;position:relative;top:-0.56em">3</span>/h</div>
<div class="t" style="left:498.5px;top:825.98px;font-size:14.50px;letter-spacing:0.884px">35<span style="display:inline-block;width:0.15em"></span>m<span style="font-size:0.72em;position:relative;top:-0.56em">3</span>/h</div>
<div class="t" style="left:498.5px;top:847.08px;font-size:14.50px;letter-spacing:0.884px">50<span style="display:inline-block;width:0.15em"></span>m<span style="font-size:0.72em;position:relative;top:-0.56em">3</span>/h</div>
<div class="t" style="left:574.0px;top:783.68px;font-size:14.50px;letter-spacing:0.585px">if 0<span style="display:inline-block;width:0.15em"></span>h<span style="display:inline-block;width:0.24em"></span><span style="display:inline-block;transform:scaleX(1.25);transform-origin:50% 50%;margin:0 0.07em">≤</span><span style="display:inline-block;width:0.24em"></span><i>t</i><span style="display:inline-block;width:0.24em"></span><span style="display:inline-block;transform:scaleX(1.25);transform-origin:50% 50%;margin:0 0.07em">&lt;</span><span style="display:inline-block;width:0.24em"></span>2<span style="display:inline-block;width:0.15em"></span>h,</div>
<div class="t" style="left:574.0px;top:804.78px;font-size:14.50px;letter-spacing:0.585px">if 2<span style="display:inline-block;width:0.15em"></span>h<span style="display:inline-block;width:0.24em"></span><span style="display:inline-block;transform:scaleX(1.25);transform-origin:50% 50%;margin:0 0.07em">≤</span><span style="display:inline-block;width:0.24em"></span><i>t</i><span style="display:inline-block;width:0.24em"></span><span style="display:inline-block;transform:scaleX(1.25);transform-origin:50% 50%;margin:0 0.07em">&lt;</span><span style="display:inline-block;width:0.24em"></span>4<span style="display:inline-block;width:0.15em"></span>h,</div>
<div class="t" style="left:574.0px;top:825.98px;font-size:14.50px;letter-spacing:0.585px">if 4<span style="display:inline-block;width:0.15em"></span>h<span style="display:inline-block;width:0.24em"></span><span style="display:inline-block;transform:scaleX(1.25);transform-origin:50% 50%;margin:0 0.07em">≤</span><span style="display:inline-block;width:0.24em"></span><i>t</i><span style="display:inline-block;width:0.24em"></span><span style="display:inline-block;transform:scaleX(1.25);transform-origin:50% 50%;margin:0 0.07em">&lt;</span><span style="display:inline-block;width:0.24em"></span>7<span style="display:inline-block;width:0.15em"></span>h,</div>
<div class="t" style="left:574.0px;top:847.08px;font-size:14.50px;letter-spacing:0.585px">if <i>t</i><span style="display:inline-block;width:0.24em"></span><span style="display:inline-block;transform:scaleX(1.25);transform-origin:50% 50%;margin:0 0.07em">≥</span><span style="display:inline-block;width:0.24em"></span>7<span style="display:inline-block;width:0.15em"></span>h,</div>
<div class="t" style="left:78.7px;top:873.98px;font-size:14.50px;letter-spacing:0.575px">and <i>Q</i><span style="font-size:0.72em;position:relative;top:0.28em">e</span> according to <i>Q</i><span style="font-size:0.72em;position:relative;top:0.28em">e</span>(<i>t</i>)<span style="display:inline-block;width:0.24em"></span><span style="display:inline-block;transform:scaleX(1.25);transform-origin:50% 50%;margin:0 0.07em">=</span><span style="display:inline-block;width:0.24em"></span><i>Q</i><span style="font-size:0.72em;position:relative;top:0.28em">f</span>(<i>t</i>)<span style="display:inline-block;width:0.24em"></span><span style="display:inline-block;transform:scaleX(1.25);transform-origin:50% 50%;margin:0 0.07em">−</span><span style="display:inline-block;width:0.24em"></span><i>Q</i><span style="font-size:0.72em;position:relative;top:0.28em">u</span>(<i>t</i>). The solids feed concentrations are taken as</div>
<div class="t" style="left:179.5px;top:932.78px;font-size:14.50px;letter-spacing:1.442px"><b><i>C</i></b><span style="font-size:0.72em;position:relative;top:0.28em">f</span>(<i>t</i>)<span style="display:inline-block;width:0.24em"></span><span style="display:inline-block;transform:scaleX(1.25);transform-origin:50% 50%;margin:0 0.07em">=</span><span style="display:inline-block;width:0.24em"></span><i>X</i><span style="font-size:0.72em;position:relative;top:0.28em">f</span>(<i>t</i>)</div>
<div class="t" style="left:284.1px;top:921.98px;font-size:14.50px;letter-spacing:1.482px">5/7</div>
<div class="t" style="left:284.1px;top:939.58px;font-size:14.50px;letter-spacing:1.482px">2/7</div>
<div class="t" style="left:321.0px;top:932.78px;font-size:14.50px;letter-spacing:0.000px">,</div>
<div class="t" style="left:343.3px;top:932.78px;font-size:14.50px;letter-spacing:-0.141px">where</div>
<div class="t" style="left:396.1px;top:932.78px;font-size:14.50px;letter-spacing:1.133px"><i>X</i><span style="font-size:0.72em;position:relative;top:0.28em">f</span>(<i>t</i>)<span style="display:inline-block;width:0.32em"></span><span style="display:inline-block;transform:scaleX(1.25);transform-origin:50% 50%;margin:0 0.07em">=</span></div>
<div class="t" style="left:465.5px;top:899.98px;font-size:14.50px;letter-spacing:0.547px">1.0<span style="display:inline-block;width:0.15em"></span>kg/m<span style="font-size:0.72em;position:relative;top:-0.56em">3</span></div>
<div class="t" style="left:465.5px;top:921.08px;font-size:14.50px;letter-spacing:0.547px">0.5<span style="display:inline-block;width:0.15em"></span>kg/m<span style="font-size:0.72em;position:relative;top:-0.56em">3</span></div>
<div class="t" style="left:465.5px;top:942.18px;font-size:14.50px;letter-spacing:0.547px">3.0<span style="display:inline-block;width:0.15em"></span>kg/m<span style="font-size:0.72em;position:relative;top:-0.56em">3</span></div>
<div class="t" style="left:465.5px;top:963.28px;font-size:14.50px;letter-spacing:0.547px">4.0<span style="display:inline-block;width:0.15em"></span>kg/m<span style="font-size:0.72em;position:relative;top:-0.56em">3</span></div>
<div class="t" style="left:545.1px;top:899.98px;font-size:14.50px;letter-spacing:0.585px">if 0<span style="display:inline-block;width:0.15em"></span>h<span style="display:inline-block;width:0.24em"></span><span style="display:inline-block;transform:scaleX(1.25);transform-origin:50% 50%;margin:0 0.07em">≤</span><span style="display:inline-block;width:0.24em"></span><i>t</i><span style="display:inline-block;width:0.24em"></span><span style="display:inline-block;transform:scaleX(1.25);transform-origin:50% 50%;margin:0 0.07em">&lt;</span><span style="display:inline-block;width:0.24em"></span>2<span style="display:inline-block;width:0.15em"></span>h,</div>
<div class="t" style="left:545.1px;top:921.08px;font-size:14.50px;letter-spacing:0.585px">if 2<span style="display:inline-block;width:0.15em"></span>h<span style="display:inline-block;width:0.24em"></span><span style="display:inline-block;transform:scaleX(1.25);transform-origin:50% 50%;margin:0 0.07em">≤</span><span style="display:inline-block;width:0.24em"></span><i>t</i><span style="display:inline-block;width:0.24em"></span><span style="display:inline-block;transform:scaleX(1.25);transform-origin:50% 50%;margin:0 0.07em">&lt;</span><span style="display:inline-block;width:0.24em"></span>4<span style="display:inline-block;width:0.15em"></span>h,</div>
<div class="t" style="left:545.1px;top:942.18px;font-size:14.50px;letter-spacing:0.585px">if 4<span style="display:inline-block;width:0.15em"></span>h<span style="display:inline-block;width:0.24em"></span><span style="display:inline-block;transform:scaleX(1.25);transform-origin:50% 50%;margin:0 0.07em">≤</span><span style="display:inline-block;width:0.24em"></span><i>t</i><span style="display:inline-block;width:0.24em"></span><span style="display:inline-block;transform:scaleX(1.25);transform-origin:50% 50%;margin:0 0.07em">&lt;</span><span style="display:inline-block;width:0.24em"></span>7<span style="display:inline-block;width:0.15em"></span>h,</div>
<div class="t" style="left:545.1px;top:963.28px;font-size:14.50px;letter-spacing:0.585px">if <i>t</i><span style="display:inline-block;width:0.24em"></span><span style="display:inline-block;transform:scaleX(1.25);transform-origin:50% 50%;margin:0 0.07em">≥</span><span style="display:inline-block;width:0.24em"></span>7<span style="display:inline-block;width:0.15em"></span>h,</div>
<div class="t" style="left:78.7px;top:989.98px;font-size:14.50px;letter-spacing:0.429px">and the initial conditions have been chosen as</div>
<div class="t" style="left:178.5px;top:1025.28px;font-size:14.50px;letter-spacing:1.331px"><b><i>C</i></b><span style="font-size:0.72em;position:relative;top:0.28em">0</span>(<i>z</i>)<span style="display:inline-block;width:0.24em"></span><span style="display:inline-block;transform:scaleX(1.25);transform-origin:50% 50%;margin:0 0.07em">=</span><span style="display:inline-block;width:0.24em"></span><i>X</i><span style="font-size:0.72em;position:relative;top:0.28em">0</span>(<i>z</i>)</div>
<div class="t" style="left:288.5px;top:1015.38px;font-size:14.50px;letter-spacing:1.482px">5/7</div>
<div class="t" style="left:288.5px;top:1033.68px;font-size:14.50px;letter-spacing:1.482px">2/7</div>
<div class="t" style="left:326.0px;top:1025.28px;font-size:14.50px;letter-spacing:0.000px">,</div>
<div class="t" style="left:348.4px;top:1025.28px;font-size:14.50px;letter-spacing:-0.164px">where</div>
<div class="t" style="left:401.2px;top:1025.28px;font-size:14.50px;letter-spacing:1.284px"><i>X</i><span style="font-size:0.72em;position:relative;top:0.28em">0</span>(<i>z</i>)<span style="display:inline-block;width:0.32em"></span><span style="display:inline-block;transform:scaleX(1.25);transform-origin:50% 50%;margin:0 0.07em">=</span></div>
<div class="t" style="left:473.3px;top:1035.08px;font-size:14.50px;letter-spacing:0.040px">3.8<i>z</i><span style="display:inline-block;width:0.24em"></span><span style="display:inline-block;transform:scaleX(1.25);transform-origin:50% 50%;margin:0 0.07em">+</span><span style="display:inline-block;width:0.24em"></span>1.6<span style="display:inline-block;width:0.15em"></span>m</div>
<div class="t" style="left:473.3px;top:1013.08px;font-size:14.50px;letter-spacing:0.040px">0<span style="display:inline-block;width:0.15em"></span>m</div>
<div class="t" style="left:567.8px;top:1013.08px;font-size:14.50px;letter-spacing:0.363px">if <i>z</i><span style="display:inline-block;width:0.24em"></span><span style="display:inline-block;transform:scaleX(1.25);transform-origin:50% 50%;margin:0 0.07em">&lt;</span><span style="display:inline-block;width:0.24em"></span>0.5<span style="display:inline-block;width:0.15em"></span>m,</div>
<div class="t" style="left:567.8px;top:1035.08px;font-size:14.50px;letter-spacing:0.363px">if <i>z</i><span style="display:inline-block;width:0.24em"></span><span style="display:inline-block;transform:scaleX(1.25);transform-origin:50% 50%;margin:0 0.07em">≥</span><span style="display:inline-block;width:0.24em"></span>0.5<span style="display:inline-block;width:0.15em"></span>m,</div>
<svg width="827" height="1169" viewBox="0 0 827 1169" style="pointer-events:none">
<path d="M214.50 792.60 C210.58 793.10 211.08 796.10 211.08 799.60 L211.08 816.95 C211.08 821.15 207.70 823.35 206.90 823.95 C207.70 824.55 211.08 826.75 211.08 830.95 L211.08 848.30 C211.08 851.80 210.58 854.80 214.50 855.30" fill="none" stroke="#222" stroke-width="1.50" stroke-linecap="round"/>
<path d="M493.80 784.10 C490.24 784.60 490.74 787.60 490.74 791.10 L490.74 817.35 C490.74 821.55 487.80 823.75 487.00 824.35 C487.80 824.95 490.74 827.15 490.74 831.35 L490.74 857.60 C490.74 861.10 490.24 864.10 493.80 864.60" fill="none" stroke="#222" stroke-width="1.50" stroke-linecap="round"/>
<path d="M462.20 900.10 C458.28 900.60 458.78 903.60 458.78 907.10 L458.78 934.20 C458.78 938.40 455.40 940.60 454.60 941.20 C455.40 941.80 458.78 944.00 458.78 948.20 L458.78 975.30 C458.78 978.80 458.28 981.80 462.20 982.30" fill="none" stroke="#222" stroke-width="1.50" stroke-linecap="round"/>
<path d="M470.00 1012.10 C466.44 1012.60 466.94 1015.60 466.94 1019.10 L466.94 1027.10 C466.94 1031.30 464.00 1033.50 463.20 1034.10 C464.00 1034.70 466.94 1036.90 466.94 1041.10 L466.94 1049.10 C466.94 1052.60 466.44 1055.60 470.00 1056.10" fill="none" stroke="#222" stroke-width="1.50" stroke-linecap="round"/>
<path d="M282.70 923.80 Q273.78 942.40 282.70 961.00" fill="none" stroke="#222" stroke-width="1.15" stroke-linecap="round"/>
<path d="M309.00 923.80 Q318.80 942.40 309.00 961.00" fill="none" stroke="#222" stroke-width="1.15" stroke-linecap="round"/>
<path d="M287.00 1016.40 Q278.07 1035.00 287.00 1053.60" fill="none" stroke="#222" stroke-width="1.15" stroke-linecap="round"/>
<path d="M313.60 1016.40 Q323.75 1035.00 313.60 1053.60" fill="none" stroke="#222" stroke-width="1.15" stroke-linecap="round"/>
</svg>

</body></html>
